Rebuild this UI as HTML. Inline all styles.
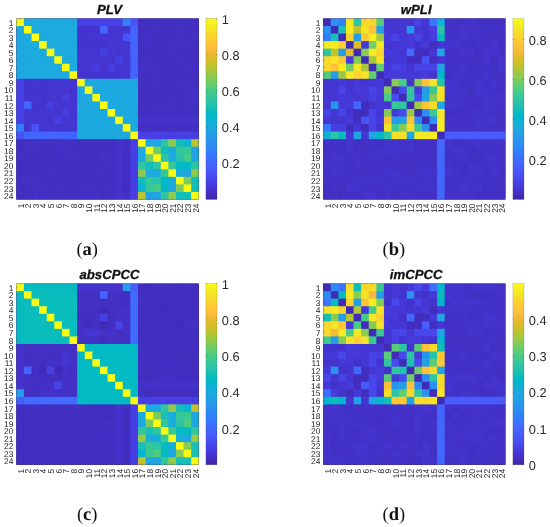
<!DOCTYPE html>
<html><head><meta charset="utf-8"><title>Connectivity matrices</title>
<style>
html,body{margin:0;padding:0;background:#fff}
svg{display:block;text-rendering:geometricPrecision}
.t{font-family:"Liberation Sans",Arial,sans-serif;font-weight:bold;font-style:italic;font-size:13.2px;fill:#111;stroke:#111;stroke-width:0.3px;text-anchor:middle}
.a{font-family:"Liberation Sans",Arial,sans-serif;font-size:8.4px;fill:#222}
.c{font-family:"Liberation Sans",Arial,sans-serif;font-size:12.8px;fill:#2a2a2a}
.cap{font-family:"Liberation Serif","DejaVu Serif",serif;font-size:18.5px;fill:#111;text-anchor:middle}
</style></head><body>
<svg width="550" height="527" viewBox="0 0 550 527">
<rect width="550" height="527" fill="#fff"/>
<defs><linearGradient id="pg" x1="0" y1="1" x2="0" y2="0"><stop offset="0.0000" stop-color="#3e26a8"/><stop offset="0.0156" stop-color="#402ab4"/><stop offset="0.0312" stop-color="#422ebf"/><stop offset="0.0469" stop-color="#4332ca"/><stop offset="0.0625" stop-color="#4536d5"/><stop offset="0.0781" stop-color="#463bdd"/><stop offset="0.0938" stop-color="#4741e5"/><stop offset="0.1094" stop-color="#4746ea"/><stop offset="0.1250" stop-color="#484cef"/><stop offset="0.1406" stop-color="#4852f4"/><stop offset="0.1562" stop-color="#4757f7"/><stop offset="0.1719" stop-color="#475dfa"/><stop offset="0.1875" stop-color="#4562fc"/><stop offset="0.2031" stop-color="#4368fe"/><stop offset="0.2188" stop-color="#3f6efe"/><stop offset="0.2344" stop-color="#3a74fe"/><stop offset="0.2500" stop-color="#347afd"/><stop offset="0.2656" stop-color="#3080fa"/><stop offset="0.2812" stop-color="#2e85f8"/><stop offset="0.2969" stop-color="#2d8bf4"/><stop offset="0.3125" stop-color="#2c90f0"/><stop offset="0.3281" stop-color="#2895ec"/><stop offset="0.3438" stop-color="#269ae9"/><stop offset="0.3594" stop-color="#249ee6"/><stop offset="0.3750" stop-color="#21a3e3"/><stop offset="0.3906" stop-color="#1ea7e1"/><stop offset="0.4062" stop-color="#1aacdd"/><stop offset="0.4219" stop-color="#14b0d8"/><stop offset="0.4375" stop-color="#0cb3d3"/><stop offset="0.4531" stop-color="#04b6cd"/><stop offset="0.4688" stop-color="#01b9c6"/><stop offset="0.4844" stop-color="#07bcc0"/><stop offset="0.5000" stop-color="#12beb9"/><stop offset="0.5156" stop-color="#1ec0b2"/><stop offset="0.5312" stop-color="#28c2ab"/><stop offset="0.5469" stop-color="#2ec5a4"/><stop offset="0.5625" stop-color="#34c79c"/><stop offset="0.5781" stop-color="#3ac993"/><stop offset="0.5938" stop-color="#44ca8a"/><stop offset="0.6094" stop-color="#4fcc80"/><stop offset="0.6250" stop-color="#5ccc76"/><stop offset="0.6406" stop-color="#69cd6b"/><stop offset="0.6562" stop-color="#77cc60"/><stop offset="0.6719" stop-color="#85cb55"/><stop offset="0.6875" stop-color="#94ca4a"/><stop offset="0.7031" stop-color="#a2c840"/><stop offset="0.7188" stop-color="#afc637"/><stop offset="0.7344" stop-color="#bcc42f"/><stop offset="0.7500" stop-color="#c8c129"/><stop offset="0.7656" stop-color="#d4bf28"/><stop offset="0.7812" stop-color="#debc2a"/><stop offset="0.7969" stop-color="#e8bb2f"/><stop offset="0.8125" stop-color="#f1ba37"/><stop offset="0.8281" stop-color="#f9bb3d"/><stop offset="0.8438" stop-color="#febe3c"/><stop offset="0.8594" stop-color="#fec437"/><stop offset="0.8750" stop-color="#feca33"/><stop offset="0.8906" stop-color="#fcd030"/><stop offset="0.9062" stop-color="#f9d62d"/><stop offset="0.9219" stop-color="#f7dd2a"/><stop offset="0.9375" stop-color="#f5e327"/><stop offset="0.9531" stop-color="#f5e924"/><stop offset="0.9688" stop-color="#f6ef20"/><stop offset="0.9844" stop-color="#f7f51b"/><stop offset="1.0000" stop-color="#f9fb15"/></linearGradient></defs>
<g>
<rect x="16.3" y="18.5" width="182.50" height="181.00" fill="#4433cc"/>
<rect x="16.30" y="18.50" width="8.90" height="8.84" fill="#f9fb15"/><rect x="23.90" y="18.50" width="8.90" height="8.84" fill="#1caadf"/><rect x="31.51" y="18.50" width="8.90" height="8.84" fill="#1caadf"/><rect x="39.11" y="18.50" width="8.90" height="8.84" fill="#1caadf"/><rect x="46.72" y="18.50" width="8.90" height="8.84" fill="#1caadf"/><rect x="54.32" y="18.50" width="8.90" height="8.84" fill="#1caadf"/><rect x="61.92" y="18.50" width="8.90" height="8.84" fill="#1caadf"/><rect x="69.53" y="18.50" width="8.90" height="8.84" fill="#1caadf"/><rect x="77.13" y="18.50" width="8.90" height="8.84" fill="#4741e5"/><rect x="84.74" y="18.50" width="8.90" height="8.84" fill="#4741e5"/><rect x="92.34" y="18.50" width="8.90" height="8.84" fill="#4741e5"/><rect x="99.95" y="18.50" width="8.90" height="8.84" fill="#4741e5"/><rect x="107.55" y="18.50" width="8.90" height="8.84" fill="#4741e5"/><rect x="115.15" y="18.50" width="8.90" height="8.84" fill="#4741e5"/><rect x="122.76" y="18.50" width="8.90" height="8.84" fill="#2f81fa"/><rect x="130.36" y="18.50" width="8.90" height="8.84" fill="#4755f6"/><rect x="137.97" y="18.50" width="8.90" height="8.84" fill="#422ec0"/><rect x="145.57" y="18.50" width="8.90" height="8.84" fill="#4230c4"/><rect x="153.18" y="18.50" width="8.90" height="8.84" fill="#4230c3"/><rect x="160.78" y="18.50" width="8.90" height="8.84" fill="#422fc0"/><rect x="168.38" y="18.50" width="8.90" height="8.84" fill="#422fc2"/><rect x="175.99" y="18.50" width="8.90" height="8.84" fill="#4230c3"/><rect x="183.59" y="18.50" width="8.90" height="8.84" fill="#422fc3"/><rect x="191.20" y="18.50" width="7.60" height="8.84" fill="#4230c3"/>
<rect x="16.30" y="26.04" width="8.90" height="8.84" fill="#1caadf"/><rect x="23.90" y="26.04" width="8.90" height="8.84" fill="#f9fb15"/><rect x="31.51" y="26.04" width="8.90" height="8.84" fill="#1caadf"/><rect x="39.11" y="26.04" width="8.90" height="8.84" fill="#1caadf"/><rect x="46.72" y="26.04" width="8.90" height="8.84" fill="#1caadf"/><rect x="54.32" y="26.04" width="8.90" height="8.84" fill="#1caadf"/><rect x="61.92" y="26.04" width="8.90" height="8.84" fill="#1caadf"/><rect x="69.53" y="26.04" width="8.90" height="8.84" fill="#1caadf"/><rect x="77.13" y="26.04" width="8.90" height="8.84" fill="#4434ce"/><rect x="84.74" y="26.04" width="8.90" height="8.84" fill="#4434cf"/><rect x="92.34" y="26.04" width="8.90" height="8.84" fill="#4434cf"/><rect x="99.95" y="26.04" width="8.90" height="8.84" fill="#4367fd"/><rect x="107.55" y="26.04" width="8.90" height="8.84" fill="#4535d2"/><rect x="115.15" y="26.04" width="8.90" height="8.84" fill="#4435d1"/><rect x="122.76" y="26.04" width="8.90" height="8.84" fill="#4435d1"/><rect x="130.36" y="26.04" width="8.90" height="8.84" fill="#4465fd"/><rect x="137.97" y="26.04" width="8.90" height="8.84" fill="#422fc2"/><rect x="145.57" y="26.04" width="8.90" height="8.84" fill="#4330c5"/><rect x="153.18" y="26.04" width="8.90" height="8.84" fill="#4230c4"/><rect x="160.78" y="26.04" width="8.90" height="8.84" fill="#4230c3"/><rect x="168.38" y="26.04" width="8.90" height="8.84" fill="#422fc1"/><rect x="175.99" y="26.04" width="8.90" height="8.84" fill="#4330c5"/><rect x="183.59" y="26.04" width="8.90" height="8.84" fill="#422fc1"/><rect x="191.20" y="26.04" width="7.60" height="8.84" fill="#422fc1"/>
<rect x="16.30" y="33.58" width="8.90" height="8.84" fill="#1caadf"/><rect x="23.90" y="33.58" width="8.90" height="8.84" fill="#1caadf"/><rect x="31.51" y="33.58" width="8.90" height="8.84" fill="#f9fb15"/><rect x="39.11" y="33.58" width="8.90" height="8.84" fill="#1caadf"/><rect x="46.72" y="33.58" width="8.90" height="8.84" fill="#1caadf"/><rect x="54.32" y="33.58" width="8.90" height="8.84" fill="#1caadf"/><rect x="61.92" y="33.58" width="8.90" height="8.84" fill="#1caadf"/><rect x="69.53" y="33.58" width="8.90" height="8.84" fill="#1caadf"/><rect x="77.13" y="33.58" width="8.90" height="8.84" fill="#4435d0"/><rect x="84.74" y="33.58" width="8.90" height="8.84" fill="#4434cf"/><rect x="92.34" y="33.58" width="8.90" height="8.84" fill="#4536d3"/><rect x="99.95" y="33.58" width="8.90" height="8.84" fill="#4434ce"/><rect x="107.55" y="33.58" width="8.90" height="8.84" fill="#4435d2"/><rect x="115.15" y="33.58" width="8.90" height="8.84" fill="#4536d2"/><rect x="122.76" y="33.58" width="8.90" height="8.84" fill="#4755f6"/><rect x="130.36" y="33.58" width="8.90" height="8.84" fill="#4465fd"/><rect x="137.97" y="33.58" width="8.90" height="8.84" fill="#4230c4"/><rect x="145.57" y="33.58" width="8.90" height="8.84" fill="#4230c4"/><rect x="153.18" y="33.58" width="8.90" height="8.84" fill="#422fc0"/><rect x="160.78" y="33.58" width="8.90" height="8.84" fill="#422fc1"/><rect x="168.38" y="33.58" width="8.90" height="8.84" fill="#4230c4"/><rect x="175.99" y="33.58" width="8.90" height="8.84" fill="#4230c3"/><rect x="183.59" y="33.58" width="8.90" height="8.84" fill="#4230c3"/><rect x="191.20" y="33.58" width="7.60" height="8.84" fill="#4330c5"/>
<rect x="16.30" y="41.12" width="8.90" height="8.84" fill="#1caadf"/><rect x="23.90" y="41.12" width="8.90" height="8.84" fill="#1caadf"/><rect x="31.51" y="41.12" width="8.90" height="8.84" fill="#1caadf"/><rect x="39.11" y="41.12" width="8.90" height="8.84" fill="#f9fb15"/><rect x="46.72" y="41.12" width="8.90" height="8.84" fill="#1caadf"/><rect x="54.32" y="41.12" width="8.90" height="8.84" fill="#1caadf"/><rect x="61.92" y="41.12" width="8.90" height="8.84" fill="#1caadf"/><rect x="69.53" y="41.12" width="8.90" height="8.84" fill="#1caadf"/><rect x="77.13" y="41.12" width="8.90" height="8.84" fill="#4434cf"/><rect x="84.74" y="41.12" width="8.90" height="8.84" fill="#4434cf"/><rect x="92.34" y="41.12" width="8.90" height="8.84" fill="#4434cf"/><rect x="99.95" y="41.12" width="8.90" height="8.84" fill="#4434cf"/><rect x="107.55" y="41.12" width="8.90" height="8.84" fill="#4536d4"/><rect x="115.15" y="41.12" width="8.90" height="8.84" fill="#4536d3"/><rect x="122.76" y="41.12" width="8.90" height="8.84" fill="#4536d4"/><rect x="130.36" y="41.12" width="8.90" height="8.84" fill="#4465fd"/><rect x="137.97" y="41.12" width="8.90" height="8.84" fill="#4230c4"/><rect x="145.57" y="41.12" width="8.90" height="8.84" fill="#4230c4"/><rect x="153.18" y="41.12" width="8.90" height="8.84" fill="#4230c4"/><rect x="160.78" y="41.12" width="8.90" height="8.84" fill="#422fc1"/><rect x="168.38" y="41.12" width="8.90" height="8.84" fill="#4230c3"/><rect x="175.99" y="41.12" width="8.90" height="8.84" fill="#4230c4"/><rect x="183.59" y="41.12" width="8.90" height="8.84" fill="#4330c5"/><rect x="191.20" y="41.12" width="7.60" height="8.84" fill="#422fc2"/>
<rect x="16.30" y="48.67" width="8.90" height="8.84" fill="#1caadf"/><rect x="23.90" y="48.67" width="8.90" height="8.84" fill="#1caadf"/><rect x="31.51" y="48.67" width="8.90" height="8.84" fill="#1caadf"/><rect x="39.11" y="48.67" width="8.90" height="8.84" fill="#1caadf"/><rect x="46.72" y="48.67" width="8.90" height="8.84" fill="#f9fb15"/><rect x="54.32" y="48.67" width="8.90" height="8.84" fill="#1caadf"/><rect x="61.92" y="48.67" width="8.90" height="8.84" fill="#1caadf"/><rect x="69.53" y="48.67" width="8.90" height="8.84" fill="#1caadf"/><rect x="77.13" y="48.67" width="8.90" height="8.84" fill="#4435d0"/><rect x="84.74" y="48.67" width="8.90" height="8.84" fill="#4536d4"/><rect x="92.34" y="48.67" width="8.90" height="8.84" fill="#4435d1"/><rect x="99.95" y="48.67" width="8.90" height="8.84" fill="#463ee1"/><rect x="107.55" y="48.67" width="8.90" height="8.84" fill="#4536d3"/><rect x="115.15" y="48.67" width="8.90" height="8.84" fill="#4434cf"/><rect x="122.76" y="48.67" width="8.90" height="8.84" fill="#4536d3"/><rect x="130.36" y="48.67" width="8.90" height="8.84" fill="#4465fd"/><rect x="137.97" y="48.67" width="8.90" height="8.84" fill="#422fc2"/><rect x="145.57" y="48.67" width="8.90" height="8.84" fill="#422fc0"/><rect x="153.18" y="48.67" width="8.90" height="8.84" fill="#422fc1"/><rect x="160.78" y="48.67" width="8.90" height="8.84" fill="#4230c3"/><rect x="168.38" y="48.67" width="8.90" height="8.84" fill="#4330c5"/><rect x="175.99" y="48.67" width="8.90" height="8.84" fill="#422ebf"/><rect x="183.59" y="48.67" width="8.90" height="8.84" fill="#422fc2"/><rect x="191.20" y="48.67" width="7.60" height="8.84" fill="#422fc0"/>
<rect x="16.30" y="56.21" width="8.90" height="8.84" fill="#1caadf"/><rect x="23.90" y="56.21" width="8.90" height="8.84" fill="#1caadf"/><rect x="31.51" y="56.21" width="8.90" height="8.84" fill="#1caadf"/><rect x="39.11" y="56.21" width="8.90" height="8.84" fill="#1caadf"/><rect x="46.72" y="56.21" width="8.90" height="8.84" fill="#1caadf"/><rect x="54.32" y="56.21" width="8.90" height="8.84" fill="#f9fb15"/><rect x="61.92" y="56.21" width="8.90" height="8.84" fill="#1caadf"/><rect x="69.53" y="56.21" width="8.90" height="8.84" fill="#1caadf"/><rect x="77.13" y="56.21" width="8.90" height="8.84" fill="#4434d0"/><rect x="84.74" y="56.21" width="8.90" height="8.84" fill="#4435d1"/><rect x="92.34" y="56.21" width="8.90" height="8.84" fill="#4536d2"/><rect x="99.95" y="56.21" width="8.90" height="8.84" fill="#4535d2"/><rect x="107.55" y="56.21" width="8.90" height="8.84" fill="#4435d1"/><rect x="115.15" y="56.21" width="8.90" height="8.84" fill="#463ee1"/><rect x="122.76" y="56.21" width="8.90" height="8.84" fill="#4435d0"/><rect x="130.36" y="56.21" width="8.90" height="8.84" fill="#4465fd"/><rect x="137.97" y="56.21" width="8.90" height="8.84" fill="#4230c3"/><rect x="145.57" y="56.21" width="8.90" height="8.84" fill="#4330c5"/><rect x="153.18" y="56.21" width="8.90" height="8.84" fill="#422fc2"/><rect x="160.78" y="56.21" width="8.90" height="8.84" fill="#422fc2"/><rect x="168.38" y="56.21" width="8.90" height="8.84" fill="#4230c3"/><rect x="175.99" y="56.21" width="8.90" height="8.84" fill="#4230c3"/><rect x="183.59" y="56.21" width="8.90" height="8.84" fill="#4230c3"/><rect x="191.20" y="56.21" width="7.60" height="8.84" fill="#422fc0"/>
<rect x="16.30" y="63.75" width="8.90" height="8.84" fill="#1caadf"/><rect x="23.90" y="63.75" width="8.90" height="8.84" fill="#1caadf"/><rect x="31.51" y="63.75" width="8.90" height="8.84" fill="#1caadf"/><rect x="39.11" y="63.75" width="8.90" height="8.84" fill="#1caadf"/><rect x="46.72" y="63.75" width="8.90" height="8.84" fill="#1caadf"/><rect x="54.32" y="63.75" width="8.90" height="8.84" fill="#1caadf"/><rect x="61.92" y="63.75" width="8.90" height="8.84" fill="#f9fb15"/><rect x="69.53" y="63.75" width="8.90" height="8.84" fill="#1caadf"/><rect x="77.13" y="63.75" width="8.90" height="8.84" fill="#4435d1"/><rect x="84.74" y="63.75" width="8.90" height="8.84" fill="#4536d2"/><rect x="92.34" y="63.75" width="8.90" height="8.84" fill="#463cde"/><rect x="99.95" y="63.75" width="8.90" height="8.84" fill="#4435d0"/><rect x="107.55" y="63.75" width="8.90" height="8.84" fill="#463ee1"/><rect x="115.15" y="63.75" width="8.90" height="8.84" fill="#4535d2"/><rect x="122.76" y="63.75" width="8.90" height="8.84" fill="#4435d0"/><rect x="130.36" y="63.75" width="8.90" height="8.84" fill="#4465fd"/><rect x="137.97" y="63.75" width="8.90" height="8.84" fill="#4331c6"/><rect x="145.57" y="63.75" width="8.90" height="8.84" fill="#4330c5"/><rect x="153.18" y="63.75" width="8.90" height="8.84" fill="#4230c3"/><rect x="160.78" y="63.75" width="8.90" height="8.84" fill="#422fc1"/><rect x="168.38" y="63.75" width="8.90" height="8.84" fill="#422fc1"/><rect x="175.99" y="63.75" width="8.90" height="8.84" fill="#422fc2"/><rect x="183.59" y="63.75" width="8.90" height="8.84" fill="#4230c3"/><rect x="191.20" y="63.75" width="7.60" height="8.84" fill="#422fc2"/>
<rect x="16.30" y="71.29" width="8.90" height="8.84" fill="#1caadf"/><rect x="23.90" y="71.29" width="8.90" height="8.84" fill="#1caadf"/><rect x="31.51" y="71.29" width="8.90" height="8.84" fill="#1caadf"/><rect x="39.11" y="71.29" width="8.90" height="8.84" fill="#1caadf"/><rect x="46.72" y="71.29" width="8.90" height="8.84" fill="#1caadf"/><rect x="54.32" y="71.29" width="8.90" height="8.84" fill="#1caadf"/><rect x="61.92" y="71.29" width="8.90" height="8.84" fill="#1caadf"/><rect x="69.53" y="71.29" width="8.90" height="8.84" fill="#f9fb15"/><rect x="77.13" y="71.29" width="8.90" height="8.84" fill="#4434cf"/><rect x="84.74" y="71.29" width="8.90" height="8.84" fill="#4434cf"/><rect x="92.34" y="71.29" width="8.90" height="8.84" fill="#4435d0"/><rect x="99.95" y="71.29" width="8.90" height="8.84" fill="#4535d2"/><rect x="107.55" y="71.29" width="8.90" height="8.84" fill="#4434ce"/><rect x="115.15" y="71.29" width="8.90" height="8.84" fill="#4536d3"/><rect x="122.76" y="71.29" width="8.90" height="8.84" fill="#4536d3"/><rect x="130.36" y="71.29" width="8.90" height="8.84" fill="#4465fd"/><rect x="137.97" y="71.29" width="8.90" height="8.84" fill="#4230c4"/><rect x="145.57" y="71.29" width="8.90" height="8.84" fill="#4230c4"/><rect x="153.18" y="71.29" width="8.90" height="8.84" fill="#422fc3"/><rect x="160.78" y="71.29" width="8.90" height="8.84" fill="#422fc2"/><rect x="168.38" y="71.29" width="8.90" height="8.84" fill="#422fc2"/><rect x="175.99" y="71.29" width="8.90" height="8.84" fill="#422fc2"/><rect x="183.59" y="71.29" width="8.90" height="8.84" fill="#422fc2"/><rect x="191.20" y="71.29" width="7.60" height="8.84" fill="#422fc2"/>
<rect x="16.30" y="78.83" width="8.90" height="8.84" fill="#4741e5"/><rect x="23.90" y="78.83" width="8.90" height="8.84" fill="#4434ce"/><rect x="31.51" y="78.83" width="8.90" height="8.84" fill="#4435d0"/><rect x="39.11" y="78.83" width="8.90" height="8.84" fill="#4434cf"/><rect x="46.72" y="78.83" width="8.90" height="8.84" fill="#4435d0"/><rect x="54.32" y="78.83" width="8.90" height="8.84" fill="#4434d0"/><rect x="61.92" y="78.83" width="8.90" height="8.84" fill="#4435d1"/><rect x="69.53" y="78.83" width="8.90" height="8.84" fill="#4434cf"/><rect x="77.13" y="78.83" width="8.90" height="8.84" fill="#f9fb15"/><rect x="84.74" y="78.83" width="8.90" height="8.84" fill="#1da9e0"/><rect x="92.34" y="78.83" width="8.90" height="8.84" fill="#1da9e0"/><rect x="99.95" y="78.83" width="8.90" height="8.84" fill="#1da9e0"/><rect x="107.55" y="78.83" width="8.90" height="8.84" fill="#1da9e0"/><rect x="115.15" y="78.83" width="8.90" height="8.84" fill="#1da9e0"/><rect x="122.76" y="78.83" width="8.90" height="8.84" fill="#1da9e0"/><rect x="130.36" y="78.83" width="8.90" height="8.84" fill="#1da9e0"/><rect x="137.97" y="78.83" width="8.90" height="8.84" fill="#4230c3"/><rect x="145.57" y="78.83" width="8.90" height="8.84" fill="#422fc1"/><rect x="153.18" y="78.83" width="8.90" height="8.84" fill="#4230c4"/><rect x="160.78" y="78.83" width="8.90" height="8.84" fill="#422fc2"/><rect x="168.38" y="78.83" width="8.90" height="8.84" fill="#422ec0"/><rect x="175.99" y="78.83" width="8.90" height="8.84" fill="#4331c6"/><rect x="183.59" y="78.83" width="8.90" height="8.84" fill="#4230c3"/><rect x="191.20" y="78.83" width="7.60" height="8.84" fill="#422fc1"/>
<rect x="16.30" y="86.38" width="8.90" height="8.84" fill="#4741e5"/><rect x="23.90" y="86.38" width="8.90" height="8.84" fill="#4434cf"/><rect x="31.51" y="86.38" width="8.90" height="8.84" fill="#4434cf"/><rect x="39.11" y="86.38" width="8.90" height="8.84" fill="#4434cf"/><rect x="46.72" y="86.38" width="8.90" height="8.84" fill="#4536d4"/><rect x="54.32" y="86.38" width="8.90" height="8.84" fill="#4435d1"/><rect x="61.92" y="86.38" width="8.90" height="8.84" fill="#4536d2"/><rect x="69.53" y="86.38" width="8.90" height="8.84" fill="#4434cf"/><rect x="77.13" y="86.38" width="8.90" height="8.84" fill="#1da9e0"/><rect x="84.74" y="86.38" width="8.90" height="8.84" fill="#f9fb15"/><rect x="92.34" y="86.38" width="8.90" height="8.84" fill="#1da9e0"/><rect x="99.95" y="86.38" width="8.90" height="8.84" fill="#1da9e0"/><rect x="107.55" y="86.38" width="8.90" height="8.84" fill="#1da9e0"/><rect x="115.15" y="86.38" width="8.90" height="8.84" fill="#1da9e0"/><rect x="122.76" y="86.38" width="8.90" height="8.84" fill="#1da9e0"/><rect x="130.36" y="86.38" width="8.90" height="8.84" fill="#1da9e0"/><rect x="137.97" y="86.38" width="8.90" height="8.84" fill="#422ec0"/><rect x="145.57" y="86.38" width="8.90" height="8.84" fill="#4230c4"/><rect x="153.18" y="86.38" width="8.90" height="8.84" fill="#422fc0"/><rect x="160.78" y="86.38" width="8.90" height="8.84" fill="#422fc0"/><rect x="168.38" y="86.38" width="8.90" height="8.84" fill="#4230c4"/><rect x="175.99" y="86.38" width="8.90" height="8.84" fill="#422fc0"/><rect x="183.59" y="86.38" width="8.90" height="8.84" fill="#4230c3"/><rect x="191.20" y="86.38" width="7.60" height="8.84" fill="#4230c4"/>
<rect x="16.30" y="93.92" width="8.90" height="8.84" fill="#4741e5"/><rect x="23.90" y="93.92" width="8.90" height="8.84" fill="#4434cf"/><rect x="31.51" y="93.92" width="8.90" height="8.84" fill="#4536d3"/><rect x="39.11" y="93.92" width="8.90" height="8.84" fill="#4434cf"/><rect x="46.72" y="93.92" width="8.90" height="8.84" fill="#4435d1"/><rect x="54.32" y="93.92" width="8.90" height="8.84" fill="#4536d2"/><rect x="61.92" y="93.92" width="8.90" height="8.84" fill="#463cde"/><rect x="69.53" y="93.92" width="8.90" height="8.84" fill="#4435d0"/><rect x="77.13" y="93.92" width="8.90" height="8.84" fill="#1da9e0"/><rect x="84.74" y="93.92" width="8.90" height="8.84" fill="#1da9e0"/><rect x="92.34" y="93.92" width="8.90" height="8.84" fill="#f9fb15"/><rect x="99.95" y="93.92" width="8.90" height="8.84" fill="#1da9e0"/><rect x="107.55" y="93.92" width="8.90" height="8.84" fill="#1da9e0"/><rect x="115.15" y="93.92" width="8.90" height="8.84" fill="#1da9e0"/><rect x="122.76" y="93.92" width="8.90" height="8.84" fill="#1da9e0"/><rect x="130.36" y="93.92" width="8.90" height="8.84" fill="#1da9e0"/><rect x="137.97" y="93.92" width="8.90" height="8.84" fill="#422fc1"/><rect x="145.57" y="93.92" width="8.90" height="8.84" fill="#422fc2"/><rect x="153.18" y="93.92" width="8.90" height="8.84" fill="#422fc1"/><rect x="160.78" y="93.92" width="8.90" height="8.84" fill="#4230c4"/><rect x="168.38" y="93.92" width="8.90" height="8.84" fill="#4330c5"/><rect x="175.99" y="93.92" width="8.90" height="8.84" fill="#422fc2"/><rect x="183.59" y="93.92" width="8.90" height="8.84" fill="#4230c4"/><rect x="191.20" y="93.92" width="7.60" height="8.84" fill="#4330c4"/>
<rect x="16.30" y="101.46" width="8.90" height="8.84" fill="#4741e5"/><rect x="23.90" y="101.46" width="8.90" height="8.84" fill="#4367fd"/><rect x="31.51" y="101.46" width="8.90" height="8.84" fill="#4434ce"/><rect x="39.11" y="101.46" width="8.90" height="8.84" fill="#4434cf"/><rect x="46.72" y="101.46" width="8.90" height="8.84" fill="#463ee1"/><rect x="54.32" y="101.46" width="8.90" height="8.84" fill="#4535d2"/><rect x="61.92" y="101.46" width="8.90" height="8.84" fill="#4435d0"/><rect x="69.53" y="101.46" width="8.90" height="8.84" fill="#4535d2"/><rect x="77.13" y="101.46" width="8.90" height="8.84" fill="#1da9e0"/><rect x="84.74" y="101.46" width="8.90" height="8.84" fill="#1da9e0"/><rect x="92.34" y="101.46" width="8.90" height="8.84" fill="#1da9e0"/><rect x="99.95" y="101.46" width="8.90" height="8.84" fill="#f9fb15"/><rect x="107.55" y="101.46" width="8.90" height="8.84" fill="#1da9e0"/><rect x="115.15" y="101.46" width="8.90" height="8.84" fill="#1da9e0"/><rect x="122.76" y="101.46" width="8.90" height="8.84" fill="#1da9e0"/><rect x="130.36" y="101.46" width="8.90" height="8.84" fill="#1da9e0"/><rect x="137.97" y="101.46" width="8.90" height="8.84" fill="#422fc2"/><rect x="145.57" y="101.46" width="8.90" height="8.84" fill="#4230c3"/><rect x="153.18" y="101.46" width="8.90" height="8.84" fill="#4330c5"/><rect x="160.78" y="101.46" width="8.90" height="8.84" fill="#4330c5"/><rect x="168.38" y="101.46" width="8.90" height="8.84" fill="#4331c6"/><rect x="175.99" y="101.46" width="8.90" height="8.84" fill="#422fc2"/><rect x="183.59" y="101.46" width="8.90" height="8.84" fill="#4331c6"/><rect x="191.20" y="101.46" width="7.60" height="8.84" fill="#422fc2"/>
<rect x="16.30" y="109.00" width="8.90" height="8.84" fill="#4741e5"/><rect x="23.90" y="109.00" width="8.90" height="8.84" fill="#4535d2"/><rect x="31.51" y="109.00" width="8.90" height="8.84" fill="#4435d2"/><rect x="39.11" y="109.00" width="8.90" height="8.84" fill="#4536d4"/><rect x="46.72" y="109.00" width="8.90" height="8.84" fill="#4536d3"/><rect x="54.32" y="109.00" width="8.90" height="8.84" fill="#4435d1"/><rect x="61.92" y="109.00" width="8.90" height="8.84" fill="#463ee1"/><rect x="69.53" y="109.00" width="8.90" height="8.84" fill="#4434ce"/><rect x="77.13" y="109.00" width="8.90" height="8.84" fill="#1da9e0"/><rect x="84.74" y="109.00" width="8.90" height="8.84" fill="#1da9e0"/><rect x="92.34" y="109.00" width="8.90" height="8.84" fill="#1da9e0"/><rect x="99.95" y="109.00" width="8.90" height="8.84" fill="#1da9e0"/><rect x="107.55" y="109.00" width="8.90" height="8.84" fill="#f9fb15"/><rect x="115.15" y="109.00" width="8.90" height="8.84" fill="#1da9e0"/><rect x="122.76" y="109.00" width="8.90" height="8.84" fill="#1da9e0"/><rect x="130.36" y="109.00" width="8.90" height="8.84" fill="#1da9e0"/><rect x="137.97" y="109.00" width="8.90" height="8.84" fill="#422fc2"/><rect x="145.57" y="109.00" width="8.90" height="8.84" fill="#422fc1"/><rect x="153.18" y="109.00" width="8.90" height="8.84" fill="#4330c4"/><rect x="160.78" y="109.00" width="8.90" height="8.84" fill="#4230c4"/><rect x="168.38" y="109.00" width="8.90" height="8.84" fill="#422fc2"/><rect x="175.99" y="109.00" width="8.90" height="8.84" fill="#422fc1"/><rect x="183.59" y="109.00" width="8.90" height="8.84" fill="#4330c4"/><rect x="191.20" y="109.00" width="7.60" height="8.84" fill="#422fc1"/>
<rect x="16.30" y="116.54" width="8.90" height="8.84" fill="#4741e5"/><rect x="23.90" y="116.54" width="8.90" height="8.84" fill="#4435d1"/><rect x="31.51" y="116.54" width="8.90" height="8.84" fill="#4536d2"/><rect x="39.11" y="116.54" width="8.90" height="8.84" fill="#4536d3"/><rect x="46.72" y="116.54" width="8.90" height="8.84" fill="#4434cf"/><rect x="54.32" y="116.54" width="8.90" height="8.84" fill="#463ee1"/><rect x="61.92" y="116.54" width="8.90" height="8.84" fill="#4535d2"/><rect x="69.53" y="116.54" width="8.90" height="8.84" fill="#4536d3"/><rect x="77.13" y="116.54" width="8.90" height="8.84" fill="#1da9e0"/><rect x="84.74" y="116.54" width="8.90" height="8.84" fill="#1da9e0"/><rect x="92.34" y="116.54" width="8.90" height="8.84" fill="#1da9e0"/><rect x="99.95" y="116.54" width="8.90" height="8.84" fill="#1da9e0"/><rect x="107.55" y="116.54" width="8.90" height="8.84" fill="#1da9e0"/><rect x="115.15" y="116.54" width="8.90" height="8.84" fill="#f9fb15"/><rect x="122.76" y="116.54" width="8.90" height="8.84" fill="#1da9e0"/><rect x="130.36" y="116.54" width="8.90" height="8.84" fill="#1da9e0"/><rect x="137.97" y="116.54" width="8.90" height="8.84" fill="#4433cb"/><rect x="145.57" y="116.54" width="8.90" height="8.84" fill="#4433cb"/><rect x="153.18" y="116.54" width="8.90" height="8.84" fill="#4433cb"/><rect x="160.78" y="116.54" width="8.90" height="8.84" fill="#4433cb"/><rect x="168.38" y="116.54" width="8.90" height="8.84" fill="#4433cb"/><rect x="175.99" y="116.54" width="8.90" height="8.84" fill="#4433cb"/><rect x="183.59" y="116.54" width="8.90" height="8.84" fill="#4433cb"/><rect x="191.20" y="116.54" width="7.60" height="8.84" fill="#4433cb"/>
<rect x="16.30" y="124.08" width="8.90" height="8.84" fill="#2f81fa"/><rect x="23.90" y="124.08" width="8.90" height="8.84" fill="#4435d1"/><rect x="31.51" y="124.08" width="8.90" height="8.84" fill="#4755f6"/><rect x="39.11" y="124.08" width="8.90" height="8.84" fill="#4536d4"/><rect x="46.72" y="124.08" width="8.90" height="8.84" fill="#4536d3"/><rect x="54.32" y="124.08" width="8.90" height="8.84" fill="#4435d0"/><rect x="61.92" y="124.08" width="8.90" height="8.84" fill="#4435d0"/><rect x="69.53" y="124.08" width="8.90" height="8.84" fill="#4536d3"/><rect x="77.13" y="124.08" width="8.90" height="8.84" fill="#1da9e0"/><rect x="84.74" y="124.08" width="8.90" height="8.84" fill="#1da9e0"/><rect x="92.34" y="124.08" width="8.90" height="8.84" fill="#1da9e0"/><rect x="99.95" y="124.08" width="8.90" height="8.84" fill="#1da9e0"/><rect x="107.55" y="124.08" width="8.90" height="8.84" fill="#1da9e0"/><rect x="115.15" y="124.08" width="8.90" height="8.84" fill="#1da9e0"/><rect x="122.76" y="124.08" width="8.90" height="8.84" fill="#f9fb15"/><rect x="130.36" y="124.08" width="8.90" height="8.84" fill="#1da9e0"/><rect x="137.97" y="124.08" width="8.90" height="8.84" fill="#422fc0"/><rect x="145.57" y="124.08" width="8.90" height="8.84" fill="#4331c5"/><rect x="153.18" y="124.08" width="8.90" height="8.84" fill="#422fc1"/><rect x="160.78" y="124.08" width="8.90" height="8.84" fill="#422fc2"/><rect x="168.38" y="124.08" width="8.90" height="8.84" fill="#4230c4"/><rect x="175.99" y="124.08" width="8.90" height="8.84" fill="#422ebf"/><rect x="183.59" y="124.08" width="8.90" height="8.84" fill="#422fc2"/><rect x="191.20" y="124.08" width="7.60" height="8.84" fill="#4330c5"/>
<rect x="16.30" y="131.62" width="8.90" height="8.84" fill="#4755f6"/><rect x="23.90" y="131.62" width="8.90" height="8.84" fill="#4465fd"/><rect x="31.51" y="131.62" width="8.90" height="8.84" fill="#4465fd"/><rect x="39.11" y="131.62" width="8.90" height="8.84" fill="#4465fd"/><rect x="46.72" y="131.62" width="8.90" height="8.84" fill="#4465fd"/><rect x="54.32" y="131.62" width="8.90" height="8.84" fill="#4465fd"/><rect x="61.92" y="131.62" width="8.90" height="8.84" fill="#4465fd"/><rect x="69.53" y="131.62" width="8.90" height="8.84" fill="#4465fd"/><rect x="77.13" y="131.62" width="8.90" height="8.84" fill="#1da9e0"/><rect x="84.74" y="131.62" width="8.90" height="8.84" fill="#1da9e0"/><rect x="92.34" y="131.62" width="8.90" height="8.84" fill="#1da9e0"/><rect x="99.95" y="131.62" width="8.90" height="8.84" fill="#1da9e0"/><rect x="107.55" y="131.62" width="8.90" height="8.84" fill="#1da9e0"/><rect x="115.15" y="131.62" width="8.90" height="8.84" fill="#1da9e0"/><rect x="122.76" y="131.62" width="8.90" height="8.84" fill="#1da9e0"/><rect x="130.36" y="131.62" width="8.90" height="8.84" fill="#f9fb15"/><rect x="137.97" y="131.62" width="8.90" height="8.84" fill="#473fe3"/><rect x="145.57" y="131.62" width="8.90" height="8.84" fill="#473fe3"/><rect x="153.18" y="131.62" width="8.90" height="8.84" fill="#473fe3"/><rect x="160.78" y="131.62" width="8.90" height="8.84" fill="#473fe3"/><rect x="168.38" y="131.62" width="8.90" height="8.84" fill="#473fe3"/><rect x="175.99" y="131.62" width="8.90" height="8.84" fill="#473fe3"/><rect x="183.59" y="131.62" width="8.90" height="8.84" fill="#473fe3"/><rect x="191.20" y="131.62" width="7.60" height="8.84" fill="#473fe3"/>
<rect x="16.30" y="139.17" width="8.90" height="8.84" fill="#422ec0"/><rect x="23.90" y="139.17" width="8.90" height="8.84" fill="#422fc2"/><rect x="31.51" y="139.17" width="8.90" height="8.84" fill="#4230c4"/><rect x="39.11" y="139.17" width="8.90" height="8.84" fill="#4230c4"/><rect x="46.72" y="139.17" width="8.90" height="8.84" fill="#422fc2"/><rect x="54.32" y="139.17" width="8.90" height="8.84" fill="#4230c3"/><rect x="61.92" y="139.17" width="8.90" height="8.84" fill="#4331c6"/><rect x="69.53" y="139.17" width="8.90" height="8.84" fill="#4230c4"/><rect x="77.13" y="139.17" width="8.90" height="8.84" fill="#4230c3"/><rect x="84.74" y="139.17" width="8.90" height="8.84" fill="#422ec0"/><rect x="92.34" y="139.17" width="8.90" height="8.84" fill="#422fc1"/><rect x="99.95" y="139.17" width="8.90" height="8.84" fill="#422fc2"/><rect x="107.55" y="139.17" width="8.90" height="8.84" fill="#422fc2"/><rect x="115.15" y="139.17" width="8.90" height="8.84" fill="#4433cb"/><rect x="122.76" y="139.17" width="8.90" height="8.84" fill="#422fc0"/><rect x="130.36" y="139.17" width="8.90" height="8.84" fill="#473fe3"/><rect x="137.97" y="139.17" width="8.90" height="8.84" fill="#f9fb15"/><rect x="145.57" y="139.17" width="8.90" height="8.84" fill="#1ea7e1"/><rect x="153.18" y="139.17" width="8.90" height="8.84" fill="#1ea7e1"/><rect x="160.78" y="139.17" width="8.90" height="8.84" fill="#2fc5a2"/><rect x="168.38" y="139.17" width="8.90" height="8.84" fill="#8dcb4f"/><rect x="175.99" y="139.17" width="8.90" height="8.84" fill="#12beb9"/><rect x="183.59" y="139.17" width="8.90" height="8.84" fill="#0ab4d2"/><rect x="191.20" y="139.17" width="7.60" height="8.84" fill="#b9c431"/>
<rect x="16.30" y="146.71" width="8.90" height="8.84" fill="#4230c4"/><rect x="23.90" y="146.71" width="8.90" height="8.84" fill="#4330c5"/><rect x="31.51" y="146.71" width="8.90" height="8.84" fill="#4230c4"/><rect x="39.11" y="146.71" width="8.90" height="8.84" fill="#4230c4"/><rect x="46.72" y="146.71" width="8.90" height="8.84" fill="#422fc0"/><rect x="54.32" y="146.71" width="8.90" height="8.84" fill="#4330c5"/><rect x="61.92" y="146.71" width="8.90" height="8.84" fill="#4330c5"/><rect x="69.53" y="146.71" width="8.90" height="8.84" fill="#4230c4"/><rect x="77.13" y="146.71" width="8.90" height="8.84" fill="#422fc1"/><rect x="84.74" y="146.71" width="8.90" height="8.84" fill="#4230c4"/><rect x="92.34" y="146.71" width="8.90" height="8.84" fill="#422fc2"/><rect x="99.95" y="146.71" width="8.90" height="8.84" fill="#4230c3"/><rect x="107.55" y="146.71" width="8.90" height="8.84" fill="#422fc1"/><rect x="115.15" y="146.71" width="8.90" height="8.84" fill="#4433cb"/><rect x="122.76" y="146.71" width="8.90" height="8.84" fill="#4331c5"/><rect x="130.36" y="146.71" width="8.90" height="8.84" fill="#473fe3"/><rect x="137.97" y="146.71" width="8.90" height="8.84" fill="#1ea7e1"/><rect x="145.57" y="146.71" width="8.90" height="8.84" fill="#f9fb15"/><rect x="153.18" y="146.71" width="8.90" height="8.84" fill="#71cd64"/><rect x="160.78" y="146.71" width="8.90" height="8.84" fill="#12beb9"/><rect x="168.38" y="146.71" width="8.90" height="8.84" fill="#1caadf"/><rect x="175.99" y="146.71" width="8.90" height="8.84" fill="#33c69d"/><rect x="183.59" y="146.71" width="8.90" height="8.84" fill="#37c898"/><rect x="191.20" y="146.71" width="7.60" height="8.84" fill="#20a4e3"/>
<rect x="16.30" y="154.25" width="8.90" height="8.84" fill="#4230c3"/><rect x="23.90" y="154.25" width="8.90" height="8.84" fill="#4230c4"/><rect x="31.51" y="154.25" width="8.90" height="8.84" fill="#422fc0"/><rect x="39.11" y="154.25" width="8.90" height="8.84" fill="#4230c4"/><rect x="46.72" y="154.25" width="8.90" height="8.84" fill="#422fc1"/><rect x="54.32" y="154.25" width="8.90" height="8.84" fill="#422fc2"/><rect x="61.92" y="154.25" width="8.90" height="8.84" fill="#4230c3"/><rect x="69.53" y="154.25" width="8.90" height="8.84" fill="#422fc3"/><rect x="77.13" y="154.25" width="8.90" height="8.84" fill="#4230c4"/><rect x="84.74" y="154.25" width="8.90" height="8.84" fill="#422fc0"/><rect x="92.34" y="154.25" width="8.90" height="8.84" fill="#422fc1"/><rect x="99.95" y="154.25" width="8.90" height="8.84" fill="#4330c5"/><rect x="107.55" y="154.25" width="8.90" height="8.84" fill="#4330c4"/><rect x="115.15" y="154.25" width="8.90" height="8.84" fill="#4433cb"/><rect x="122.76" y="154.25" width="8.90" height="8.84" fill="#422fc1"/><rect x="130.36" y="154.25" width="8.90" height="8.84" fill="#473fe3"/><rect x="137.97" y="154.25" width="8.90" height="8.84" fill="#1ea7e1"/><rect x="145.57" y="154.25" width="8.90" height="8.84" fill="#71cd64"/><rect x="153.18" y="154.25" width="8.90" height="8.84" fill="#f9fb15"/><rect x="160.78" y="154.25" width="8.90" height="8.84" fill="#2fc5a2"/><rect x="168.38" y="154.25" width="8.90" height="8.84" fill="#1caadf"/><rect x="175.99" y="154.25" width="8.90" height="8.84" fill="#27c2ac"/><rect x="183.59" y="154.25" width="8.90" height="8.84" fill="#48cb86"/><rect x="191.20" y="154.25" width="7.60" height="8.84" fill="#20a4e3"/>
<rect x="16.30" y="161.79" width="8.90" height="8.84" fill="#422fc0"/><rect x="23.90" y="161.79" width="8.90" height="8.84" fill="#4230c3"/><rect x="31.51" y="161.79" width="8.90" height="8.84" fill="#422fc1"/><rect x="39.11" y="161.79" width="8.90" height="8.84" fill="#422fc1"/><rect x="46.72" y="161.79" width="8.90" height="8.84" fill="#4230c3"/><rect x="54.32" y="161.79" width="8.90" height="8.84" fill="#422fc2"/><rect x="61.92" y="161.79" width="8.90" height="8.84" fill="#422fc1"/><rect x="69.53" y="161.79" width="8.90" height="8.84" fill="#422fc2"/><rect x="77.13" y="161.79" width="8.90" height="8.84" fill="#422fc2"/><rect x="84.74" y="161.79" width="8.90" height="8.84" fill="#422fc0"/><rect x="92.34" y="161.79" width="8.90" height="8.84" fill="#4230c4"/><rect x="99.95" y="161.79" width="8.90" height="8.84" fill="#4330c5"/><rect x="107.55" y="161.79" width="8.90" height="8.84" fill="#4230c4"/><rect x="115.15" y="161.79" width="8.90" height="8.84" fill="#4433cb"/><rect x="122.76" y="161.79" width="8.90" height="8.84" fill="#422fc2"/><rect x="130.36" y="161.79" width="8.90" height="8.84" fill="#473fe3"/><rect x="137.97" y="161.79" width="8.90" height="8.84" fill="#2fc5a2"/><rect x="145.57" y="161.79" width="8.90" height="8.84" fill="#12beb9"/><rect x="153.18" y="161.79" width="8.90" height="8.84" fill="#2fc5a2"/><rect x="160.78" y="161.79" width="8.90" height="8.84" fill="#f9fb15"/><rect x="168.38" y="161.79" width="8.90" height="8.84" fill="#37c898"/><rect x="175.99" y="161.79" width="8.90" height="8.84" fill="#01b9c6"/><rect x="183.59" y="161.79" width="8.90" height="8.84" fill="#01b9c6"/><rect x="191.20" y="161.79" width="7.60" height="8.84" fill="#2fc5a2"/>
<rect x="16.30" y="169.33" width="8.90" height="8.84" fill="#422fc2"/><rect x="23.90" y="169.33" width="8.90" height="8.84" fill="#422fc1"/><rect x="31.51" y="169.33" width="8.90" height="8.84" fill="#4230c4"/><rect x="39.11" y="169.33" width="8.90" height="8.84" fill="#4230c3"/><rect x="46.72" y="169.33" width="8.90" height="8.84" fill="#4330c5"/><rect x="54.32" y="169.33" width="8.90" height="8.84" fill="#4230c3"/><rect x="61.92" y="169.33" width="8.90" height="8.84" fill="#422fc1"/><rect x="69.53" y="169.33" width="8.90" height="8.84" fill="#422fc2"/><rect x="77.13" y="169.33" width="8.90" height="8.84" fill="#422ec0"/><rect x="84.74" y="169.33" width="8.90" height="8.84" fill="#4230c4"/><rect x="92.34" y="169.33" width="8.90" height="8.84" fill="#4330c5"/><rect x="99.95" y="169.33" width="8.90" height="8.84" fill="#4331c6"/><rect x="107.55" y="169.33" width="8.90" height="8.84" fill="#422fc2"/><rect x="115.15" y="169.33" width="8.90" height="8.84" fill="#4433cb"/><rect x="122.76" y="169.33" width="8.90" height="8.84" fill="#4230c4"/><rect x="130.36" y="169.33" width="8.90" height="8.84" fill="#473fe3"/><rect x="137.97" y="169.33" width="8.90" height="8.84" fill="#8dcb4f"/><rect x="145.57" y="169.33" width="8.90" height="8.84" fill="#1caadf"/><rect x="153.18" y="169.33" width="8.90" height="8.84" fill="#1caadf"/><rect x="160.78" y="169.33" width="8.90" height="8.84" fill="#37c898"/><rect x="168.38" y="169.33" width="8.90" height="8.84" fill="#f9fb15"/><rect x="175.99" y="169.33" width="8.90" height="8.84" fill="#19addc"/><rect x="183.59" y="169.33" width="8.90" height="8.84" fill="#20a4e3"/><rect x="191.20" y="169.33" width="7.60" height="8.84" fill="#8dcb4f"/>
<rect x="16.30" y="176.88" width="8.90" height="8.84" fill="#4230c3"/><rect x="23.90" y="176.88" width="8.90" height="8.84" fill="#4330c5"/><rect x="31.51" y="176.88" width="8.90" height="8.84" fill="#4230c3"/><rect x="39.11" y="176.88" width="8.90" height="8.84" fill="#4230c4"/><rect x="46.72" y="176.88" width="8.90" height="8.84" fill="#422ebf"/><rect x="54.32" y="176.88" width="8.90" height="8.84" fill="#4230c3"/><rect x="61.92" y="176.88" width="8.90" height="8.84" fill="#422fc2"/><rect x="69.53" y="176.88" width="8.90" height="8.84" fill="#422fc2"/><rect x="77.13" y="176.88" width="8.90" height="8.84" fill="#4331c6"/><rect x="84.74" y="176.88" width="8.90" height="8.84" fill="#422fc0"/><rect x="92.34" y="176.88" width="8.90" height="8.84" fill="#422fc2"/><rect x="99.95" y="176.88" width="8.90" height="8.84" fill="#422fc2"/><rect x="107.55" y="176.88" width="8.90" height="8.84" fill="#422fc1"/><rect x="115.15" y="176.88" width="8.90" height="8.84" fill="#4433cb"/><rect x="122.76" y="176.88" width="8.90" height="8.84" fill="#422ebf"/><rect x="130.36" y="176.88" width="8.90" height="8.84" fill="#473fe3"/><rect x="137.97" y="176.88" width="8.90" height="8.84" fill="#12beb9"/><rect x="145.57" y="176.88" width="8.90" height="8.84" fill="#33c69d"/><rect x="153.18" y="176.88" width="8.90" height="8.84" fill="#27c2ac"/><rect x="160.78" y="176.88" width="8.90" height="8.84" fill="#01b9c6"/><rect x="168.38" y="176.88" width="8.90" height="8.84" fill="#19addc"/><rect x="175.99" y="176.88" width="8.90" height="8.84" fill="#f9fb15"/><rect x="183.59" y="176.88" width="8.90" height="8.84" fill="#7acc5d"/><rect x="191.20" y="176.88" width="7.60" height="8.84" fill="#12beb9"/>
<rect x="16.30" y="184.42" width="8.90" height="8.84" fill="#422fc3"/><rect x="23.90" y="184.42" width="8.90" height="8.84" fill="#422fc1"/><rect x="31.51" y="184.42" width="8.90" height="8.84" fill="#4230c3"/><rect x="39.11" y="184.42" width="8.90" height="8.84" fill="#4330c5"/><rect x="46.72" y="184.42" width="8.90" height="8.84" fill="#422fc2"/><rect x="54.32" y="184.42" width="8.90" height="8.84" fill="#4230c3"/><rect x="61.92" y="184.42" width="8.90" height="8.84" fill="#4230c3"/><rect x="69.53" y="184.42" width="8.90" height="8.84" fill="#422fc2"/><rect x="77.13" y="184.42" width="8.90" height="8.84" fill="#4230c3"/><rect x="84.74" y="184.42" width="8.90" height="8.84" fill="#4230c3"/><rect x="92.34" y="184.42" width="8.90" height="8.84" fill="#4230c4"/><rect x="99.95" y="184.42" width="8.90" height="8.84" fill="#4331c6"/><rect x="107.55" y="184.42" width="8.90" height="8.84" fill="#4330c4"/><rect x="115.15" y="184.42" width="8.90" height="8.84" fill="#4433cb"/><rect x="122.76" y="184.42" width="8.90" height="8.84" fill="#422fc2"/><rect x="130.36" y="184.42" width="8.90" height="8.84" fill="#473fe3"/><rect x="137.97" y="184.42" width="8.90" height="8.84" fill="#0ab4d2"/><rect x="145.57" y="184.42" width="8.90" height="8.84" fill="#37c898"/><rect x="153.18" y="184.42" width="8.90" height="8.84" fill="#48cb86"/><rect x="160.78" y="184.42" width="8.90" height="8.84" fill="#01b9c6"/><rect x="168.38" y="184.42" width="8.90" height="8.84" fill="#20a4e3"/><rect x="175.99" y="184.42" width="8.90" height="8.84" fill="#7acc5d"/><rect x="183.59" y="184.42" width="8.90" height="8.84" fill="#f9fb15"/><rect x="191.20" y="184.42" width="7.60" height="8.84" fill="#12beb9"/>
<rect x="16.30" y="191.96" width="8.90" height="7.54" fill="#4230c3"/><rect x="23.90" y="191.96" width="8.90" height="7.54" fill="#422fc1"/><rect x="31.51" y="191.96" width="8.90" height="7.54" fill="#4330c5"/><rect x="39.11" y="191.96" width="8.90" height="7.54" fill="#422fc2"/><rect x="46.72" y="191.96" width="8.90" height="7.54" fill="#422fc0"/><rect x="54.32" y="191.96" width="8.90" height="7.54" fill="#422fc0"/><rect x="61.92" y="191.96" width="8.90" height="7.54" fill="#422fc2"/><rect x="69.53" y="191.96" width="8.90" height="7.54" fill="#422fc2"/><rect x="77.13" y="191.96" width="8.90" height="7.54" fill="#422fc1"/><rect x="84.74" y="191.96" width="8.90" height="7.54" fill="#4230c4"/><rect x="92.34" y="191.96" width="8.90" height="7.54" fill="#4330c4"/><rect x="99.95" y="191.96" width="8.90" height="7.54" fill="#422fc2"/><rect x="107.55" y="191.96" width="8.90" height="7.54" fill="#422fc1"/><rect x="115.15" y="191.96" width="8.90" height="7.54" fill="#4433cb"/><rect x="122.76" y="191.96" width="8.90" height="7.54" fill="#4330c5"/><rect x="130.36" y="191.96" width="8.90" height="7.54" fill="#473fe3"/><rect x="137.97" y="191.96" width="8.90" height="7.54" fill="#b9c431"/><rect x="145.57" y="191.96" width="8.90" height="7.54" fill="#20a4e3"/><rect x="153.18" y="191.96" width="8.90" height="7.54" fill="#20a4e3"/><rect x="160.78" y="191.96" width="8.90" height="7.54" fill="#2fc5a2"/><rect x="168.38" y="191.96" width="8.90" height="7.54" fill="#8dcb4f"/><rect x="175.99" y="191.96" width="8.90" height="7.54" fill="#12beb9"/><rect x="183.59" y="191.96" width="8.90" height="7.54" fill="#12beb9"/><rect x="191.20" y="191.96" width="7.60" height="7.54" fill="#f9fb15"/>
<rect x="16.3" y="18.5" width="182.50" height="181.00" fill="none" stroke="#262626" stroke-opacity="0.35" stroke-width="0.5"/>
<path d="M20.10 199.50v-1.8M20.10 18.50v1.8M16.30 22.27h1.8M198.80 22.27h-1.8M27.71 199.50v-1.8M27.71 18.50v1.8M16.30 29.81h1.8M198.80 29.81h-1.8M35.31 199.50v-1.8M35.31 18.50v1.8M16.30 37.35h1.8M198.80 37.35h-1.8M42.91 199.50v-1.8M42.91 18.50v1.8M16.30 44.90h1.8M198.80 44.90h-1.8M50.52 199.50v-1.8M50.52 18.50v1.8M16.30 52.44h1.8M198.80 52.44h-1.8M58.12 199.50v-1.8M58.12 18.50v1.8M16.30 59.98h1.8M198.80 59.98h-1.8M65.73 199.50v-1.8M65.73 18.50v1.8M16.30 67.52h1.8M198.80 67.52h-1.8M73.33 199.50v-1.8M73.33 18.50v1.8M16.30 75.06h1.8M198.80 75.06h-1.8M80.94 199.50v-1.8M80.94 18.50v1.8M16.30 82.60h1.8M198.80 82.60h-1.8M88.54 199.50v-1.8M88.54 18.50v1.8M16.30 90.15h1.8M198.80 90.15h-1.8M96.14 199.50v-1.8M96.14 18.50v1.8M16.30 97.69h1.8M198.80 97.69h-1.8M103.75 199.50v-1.8M103.75 18.50v1.8M16.30 105.23h1.8M198.80 105.23h-1.8M111.35 199.50v-1.8M111.35 18.50v1.8M16.30 112.77h1.8M198.80 112.77h-1.8M118.96 199.50v-1.8M118.96 18.50v1.8M16.30 120.31h1.8M198.80 120.31h-1.8M126.56 199.50v-1.8M126.56 18.50v1.8M16.30 127.85h1.8M198.80 127.85h-1.8M134.16 199.50v-1.8M134.16 18.50v1.8M16.30 135.40h1.8M198.80 135.40h-1.8M141.77 199.50v-1.8M141.77 18.50v1.8M16.30 142.94h1.8M198.80 142.94h-1.8M149.37 199.50v-1.8M149.37 18.50v1.8M16.30 150.48h1.8M198.80 150.48h-1.8M156.98 199.50v-1.8M156.98 18.50v1.8M16.30 158.02h1.8M198.80 158.02h-1.8M164.58 199.50v-1.8M164.58 18.50v1.8M16.30 165.56h1.8M198.80 165.56h-1.8M172.19 199.50v-1.8M172.19 18.50v1.8M16.30 173.10h1.8M198.80 173.10h-1.8M179.79 199.50v-1.8M179.79 18.50v1.8M16.30 180.65h1.8M198.80 180.65h-1.8M187.39 199.50v-1.8M187.39 18.50v1.8M16.30 188.19h1.8M198.80 188.19h-1.8M195.00 199.50v-1.8M195.00 18.50v1.8M16.30 195.73h1.8M198.80 195.73h-1.8" stroke="#262626" stroke-opacity="0.35" stroke-width="0.5" fill="none"/>
<text class="t" x="109.5" y="14.2">PLV</text>
<text class="a" text-anchor="end" x="13.4" y="25.6">1</text><text class="a" text-anchor="end" x="13.4" y="33.1">2</text><text class="a" text-anchor="end" x="13.4" y="40.7">3</text><text class="a" text-anchor="end" x="13.4" y="48.2">4</text><text class="a" text-anchor="end" x="13.4" y="55.7">5</text><text class="a" text-anchor="end" x="13.4" y="63.3">6</text><text class="a" text-anchor="end" x="13.4" y="70.8">7</text><text class="a" text-anchor="end" x="13.4" y="78.4">8</text><text class="a" text-anchor="end" x="13.4" y="85.9">9</text><text class="a" text-anchor="end" x="13.4" y="93.4">10</text><text class="a" text-anchor="end" x="13.4" y="101.0">11</text><text class="a" text-anchor="end" x="13.4" y="108.5">12</text><text class="a" text-anchor="end" x="13.4" y="116.1">13</text><text class="a" text-anchor="end" x="13.4" y="123.6">14</text><text class="a" text-anchor="end" x="13.4" y="131.2">15</text><text class="a" text-anchor="end" x="13.4" y="138.7">16</text><text class="a" text-anchor="end" x="13.4" y="146.2">17</text><text class="a" text-anchor="end" x="13.4" y="153.8">18</text><text class="a" text-anchor="end" x="13.4" y="161.3">19</text><text class="a" text-anchor="end" x="13.4" y="168.9">20</text><text class="a" text-anchor="end" x="13.4" y="176.4">21</text><text class="a" text-anchor="end" x="13.4" y="183.9">22</text><text class="a" text-anchor="end" x="13.4" y="191.5">23</text><text class="a" text-anchor="end" x="13.4" y="199.0">24</text>
<text class="a" text-anchor="end" transform="translate(23.6,203.5) rotate(-90)">1</text><text class="a" text-anchor="end" transform="translate(31.2,203.5) rotate(-90)">2</text><text class="a" text-anchor="end" transform="translate(38.8,203.5) rotate(-90)">3</text><text class="a" text-anchor="end" transform="translate(46.4,203.5) rotate(-90)">4</text><text class="a" text-anchor="end" transform="translate(54.0,203.5) rotate(-90)">5</text><text class="a" text-anchor="end" transform="translate(61.6,203.5) rotate(-90)">6</text><text class="a" text-anchor="end" transform="translate(69.2,203.5) rotate(-90)">7</text><text class="a" text-anchor="end" transform="translate(76.8,203.5) rotate(-90)">8</text><text class="a" text-anchor="end" transform="translate(84.4,203.5) rotate(-90)">9</text><text class="a" text-anchor="end" transform="translate(92.0,203.5) rotate(-90)">10</text><text class="a" text-anchor="end" transform="translate(99.6,203.5) rotate(-90)">11</text><text class="a" text-anchor="end" transform="translate(107.2,203.5) rotate(-90)">12</text><text class="a" text-anchor="end" transform="translate(114.9,203.5) rotate(-90)">13</text><text class="a" text-anchor="end" transform="translate(122.5,203.5) rotate(-90)">14</text><text class="a" text-anchor="end" transform="translate(130.1,203.5) rotate(-90)">15</text><text class="a" text-anchor="end" transform="translate(137.7,203.5) rotate(-90)">16</text><text class="a" text-anchor="end" transform="translate(145.3,203.5) rotate(-90)">17</text><text class="a" text-anchor="end" transform="translate(152.9,203.5) rotate(-90)">18</text><text class="a" text-anchor="end" transform="translate(160.5,203.5) rotate(-90)">19</text><text class="a" text-anchor="end" transform="translate(168.1,203.5) rotate(-90)">20</text><text class="a" text-anchor="end" transform="translate(175.7,203.5) rotate(-90)">21</text><text class="a" text-anchor="end" transform="translate(183.3,203.5) rotate(-90)">22</text><text class="a" text-anchor="end" transform="translate(190.9,203.5) rotate(-90)">23</text><text class="a" text-anchor="end" transform="translate(198.5,203.5) rotate(-90)">24</text>
<rect x="205.9" y="18.5" width="11.1" height="181.00" fill="url(#pg)"/>
<rect x="205.9" y="18.5" width="11.1" height="181.00" fill="none" stroke="#262626" stroke-opacity="0.3" stroke-width="0.5"/>
<path d="M217.00 18.50h-1.6M205.90 18.50h1.6" stroke="#262626" stroke-opacity="0.45" stroke-width="0.5"/><text class="c" x="221.8" y="23.6">1</text><path d="M217.00 54.70h-1.6M205.90 54.70h1.6" stroke="#262626" stroke-opacity="0.45" stroke-width="0.5"/><text class="c" x="221.8" y="59.8">0.8</text><path d="M217.00 90.90h-1.6M205.90 90.90h1.6" stroke="#262626" stroke-opacity="0.45" stroke-width="0.5"/><text class="c" x="221.8" y="96.0">0.6</text><path d="M217.00 127.10h-1.6M205.90 127.10h1.6" stroke="#262626" stroke-opacity="0.45" stroke-width="0.5"/><text class="c" x="221.8" y="132.2">0.4</text><path d="M217.00 163.30h-1.6M205.90 163.30h1.6" stroke="#262626" stroke-opacity="0.45" stroke-width="0.5"/><text class="c" x="221.8" y="168.4">0.2</text>
<text class="cap" x="87.2" y="254.5">(<tspan font-weight="bold">a</tspan>)</text>
</g>
<g>
<rect x="323.2" y="18.5" width="182.20" height="181.00" fill="#4433cc"/>
<rect x="323.20" y="18.50" width="8.89" height="8.84" fill="#402bb7"/><rect x="330.79" y="18.50" width="8.89" height="8.84" fill="#2c8ff1"/><rect x="338.38" y="18.50" width="8.89" height="8.84" fill="#2f81fa"/><rect x="345.97" y="18.50" width="8.89" height="8.84" fill="#f5e825"/><rect x="353.57" y="18.50" width="8.89" height="8.84" fill="#2fc5a2"/><rect x="361.16" y="18.50" width="8.89" height="8.84" fill="#f9d82c"/><rect x="368.75" y="18.50" width="8.89" height="8.84" fill="#f9d82c"/><rect x="376.34" y="18.50" width="8.89" height="8.84" fill="#58cc79"/><rect x="383.93" y="18.50" width="8.89" height="8.84" fill="#4435d1"/><rect x="391.52" y="18.50" width="8.89" height="8.84" fill="#4435d0"/><rect x="399.12" y="18.50" width="8.89" height="8.84" fill="#4537d5"/><rect x="406.71" y="18.50" width="8.89" height="8.84" fill="#4435d0"/><rect x="414.30" y="18.50" width="8.89" height="8.84" fill="#4743e7"/><rect x="421.89" y="18.50" width="8.89" height="8.84" fill="#4537d6"/><rect x="429.48" y="18.50" width="8.89" height="8.84" fill="#347afd"/><rect x="437.07" y="18.50" width="8.89" height="8.84" fill="#11b1d6"/><rect x="444.67" y="18.50" width="8.89" height="8.84" fill="#4332ca"/><rect x="452.26" y="18.50" width="8.89" height="8.84" fill="#4230c4"/><rect x="459.85" y="18.50" width="8.89" height="8.84" fill="#4331c8"/><rect x="467.44" y="18.50" width="8.89" height="8.84" fill="#4434ce"/><rect x="475.03" y="18.50" width="8.89" height="8.84" fill="#4331c6"/><rect x="482.62" y="18.50" width="8.89" height="8.84" fill="#4330c5"/><rect x="490.22" y="18.50" width="8.89" height="8.84" fill="#4230c4"/><rect x="497.81" y="18.50" width="7.59" height="8.84" fill="#4230c4"/>
<rect x="323.20" y="26.04" width="8.89" height="8.84" fill="#2c8ff1"/><rect x="330.79" y="26.04" width="8.89" height="8.84" fill="#402bb7"/><rect x="338.38" y="26.04" width="8.89" height="8.84" fill="#1ac0b5"/><rect x="345.97" y="26.04" width="8.89" height="8.84" fill="#f5ec22"/><rect x="353.57" y="26.04" width="8.89" height="8.84" fill="#c1c32d"/><rect x="361.16" y="26.04" width="8.89" height="8.84" fill="#f5e427"/><rect x="368.75" y="26.04" width="8.89" height="8.84" fill="#fec13a"/><rect x="376.34" y="26.04" width="8.89" height="8.84" fill="#249fe6"/><rect x="383.93" y="26.04" width="8.89" height="8.84" fill="#4536d4"/><rect x="391.52" y="26.04" width="8.89" height="8.84" fill="#4435d1"/><rect x="399.12" y="26.04" width="8.89" height="8.84" fill="#4536d3"/><rect x="406.71" y="26.04" width="8.89" height="8.84" fill="#2895ec"/><rect x="414.30" y="26.04" width="8.89" height="8.84" fill="#4538d7"/><rect x="421.89" y="26.04" width="8.89" height="8.84" fill="#4434d0"/><rect x="429.48" y="26.04" width="8.89" height="8.84" fill="#473fe3"/><rect x="437.07" y="26.04" width="8.89" height="8.84" fill="#2cc4a7"/><rect x="444.67" y="26.04" width="8.89" height="8.84" fill="#4330c5"/><rect x="452.26" y="26.04" width="8.89" height="8.84" fill="#4332ca"/><rect x="459.85" y="26.04" width="8.89" height="8.84" fill="#4433cc"/><rect x="467.44" y="26.04" width="8.89" height="8.84" fill="#4331c8"/><rect x="475.03" y="26.04" width="8.89" height="8.84" fill="#4434ce"/><rect x="482.62" y="26.04" width="8.89" height="8.84" fill="#4332c8"/><rect x="490.22" y="26.04" width="8.89" height="8.84" fill="#4331c8"/><rect x="497.81" y="26.04" width="7.59" height="8.84" fill="#4331c8"/>
<rect x="323.20" y="33.58" width="8.89" height="8.84" fill="#2f81fa"/><rect x="330.79" y="33.58" width="8.89" height="8.84" fill="#1ac0b5"/><rect x="338.38" y="33.58" width="8.89" height="8.84" fill="#402bb7"/><rect x="345.97" y="33.58" width="8.89" height="8.84" fill="#fcd030"/><rect x="353.57" y="33.58" width="8.89" height="8.84" fill="#249fe6"/><rect x="361.16" y="33.58" width="8.89" height="8.84" fill="#fec835"/><rect x="368.75" y="33.58" width="8.89" height="8.84" fill="#f5ec22"/><rect x="376.34" y="33.58" width="8.89" height="8.84" fill="#9fc942"/><rect x="383.93" y="33.58" width="8.89" height="8.84" fill="#4639da"/><rect x="391.52" y="33.58" width="8.89" height="8.84" fill="#4743e7"/><rect x="399.12" y="33.58" width="8.89" height="8.84" fill="#4538d8"/><rect x="406.71" y="33.58" width="8.89" height="8.84" fill="#4639da"/><rect x="414.30" y="33.58" width="8.89" height="8.84" fill="#4743e7"/><rect x="421.89" y="33.58" width="8.89" height="8.84" fill="#4435d0"/><rect x="429.48" y="33.58" width="8.89" height="8.84" fill="#473fe3"/><rect x="437.07" y="33.58" width="8.89" height="8.84" fill="#0abdbd"/><rect x="444.67" y="33.58" width="8.89" height="8.84" fill="#4332c8"/><rect x="452.26" y="33.58" width="8.89" height="8.84" fill="#4331c7"/><rect x="459.85" y="33.58" width="8.89" height="8.84" fill="#4433cc"/><rect x="467.44" y="33.58" width="8.89" height="8.84" fill="#4332c9"/><rect x="475.03" y="33.58" width="8.89" height="8.84" fill="#4432cb"/><rect x="482.62" y="33.58" width="8.89" height="8.84" fill="#4331c6"/><rect x="490.22" y="33.58" width="8.89" height="8.84" fill="#4331c5"/><rect x="497.81" y="33.58" width="7.59" height="8.84" fill="#4330c5"/>
<rect x="323.20" y="41.12" width="8.89" height="8.84" fill="#f5e825"/><rect x="330.79" y="41.12" width="8.89" height="8.84" fill="#f5ec22"/><rect x="338.38" y="41.12" width="8.89" height="8.84" fill="#fcd030"/><rect x="345.97" y="41.12" width="8.89" height="8.84" fill="#402bb7"/><rect x="353.57" y="41.12" width="8.89" height="8.84" fill="#debd29"/><rect x="361.16" y="41.12" width="8.89" height="8.84" fill="#4539d9"/><rect x="368.75" y="41.12" width="8.89" height="8.84" fill="#71cd64"/><rect x="376.34" y="41.12" width="8.89" height="8.84" fill="#f5e825"/><rect x="383.93" y="41.12" width="8.89" height="8.84" fill="#4435d1"/><rect x="391.52" y="41.12" width="8.89" height="8.84" fill="#4536d4"/><rect x="399.12" y="41.12" width="8.89" height="8.84" fill="#4538d8"/><rect x="406.71" y="41.12" width="8.89" height="8.84" fill="#4639da"/><rect x="414.30" y="41.12" width="8.89" height="8.84" fill="#4434ce"/><rect x="421.89" y="41.12" width="8.89" height="8.84" fill="#4639da"/><rect x="429.48" y="41.12" width="8.89" height="8.84" fill="#422ebe"/><rect x="437.07" y="41.12" width="8.89" height="8.84" fill="#4536d3"/><rect x="444.67" y="41.12" width="8.89" height="8.84" fill="#4433cc"/><rect x="452.26" y="41.12" width="8.89" height="8.84" fill="#4433cc"/><rect x="459.85" y="41.12" width="8.89" height="8.84" fill="#4331c7"/><rect x="467.44" y="41.12" width="8.89" height="8.84" fill="#4230c4"/><rect x="475.03" y="41.12" width="8.89" height="8.84" fill="#4332ca"/><rect x="482.62" y="41.12" width="8.89" height="8.84" fill="#4331c7"/><rect x="490.22" y="41.12" width="8.89" height="8.84" fill="#4433cd"/><rect x="497.81" y="41.12" width="7.59" height="8.84" fill="#4230c4"/>
<rect x="323.20" y="48.67" width="8.89" height="8.84" fill="#2fc5a2"/><rect x="330.79" y="48.67" width="8.89" height="8.84" fill="#c1c32d"/><rect x="338.38" y="48.67" width="8.89" height="8.84" fill="#249fe6"/><rect x="345.97" y="48.67" width="8.89" height="8.84" fill="#debd29"/><rect x="353.57" y="48.67" width="8.89" height="8.84" fill="#402bb7"/><rect x="361.16" y="48.67" width="8.89" height="8.84" fill="#84cc56"/><rect x="368.75" y="48.67" width="8.89" height="8.84" fill="#f5e825"/><rect x="376.34" y="48.67" width="8.89" height="8.84" fill="#fad42e"/><rect x="383.93" y="48.67" width="8.89" height="8.84" fill="#4538d8"/><rect x="391.52" y="48.67" width="8.89" height="8.84" fill="#463adb"/><rect x="399.12" y="48.67" width="8.89" height="8.84" fill="#4536d3"/><rect x="406.71" y="48.67" width="8.89" height="8.84" fill="#4367fd"/><rect x="414.30" y="48.67" width="8.89" height="8.84" fill="#422ebe"/><rect x="421.89" y="48.67" width="8.89" height="8.84" fill="#422ebe"/><rect x="429.48" y="48.67" width="8.89" height="8.84" fill="#4537d6"/><rect x="437.07" y="48.67" width="8.89" height="8.84" fill="#20a4e3"/><rect x="444.67" y="48.67" width="8.89" height="8.84" fill="#4331c6"/><rect x="452.26" y="48.67" width="8.89" height="8.84" fill="#4330c5"/><rect x="459.85" y="48.67" width="8.89" height="8.84" fill="#4433cd"/><rect x="467.44" y="48.67" width="8.89" height="8.84" fill="#4433cc"/><rect x="475.03" y="48.67" width="8.89" height="8.84" fill="#4330c5"/><rect x="482.62" y="48.67" width="8.89" height="8.84" fill="#4434ce"/><rect x="490.22" y="48.67" width="8.89" height="8.84" fill="#4433cd"/><rect x="497.81" y="48.67" width="7.59" height="8.84" fill="#4331c7"/>
<rect x="323.20" y="56.21" width="8.89" height="8.84" fill="#f9d82c"/><rect x="330.79" y="56.21" width="8.89" height="8.84" fill="#f5e427"/><rect x="338.38" y="56.21" width="8.89" height="8.84" fill="#fec835"/><rect x="345.97" y="56.21" width="8.89" height="8.84" fill="#4539d9"/><rect x="353.57" y="56.21" width="8.89" height="8.84" fill="#84cc56"/><rect x="361.16" y="56.21" width="8.89" height="8.84" fill="#402bb7"/><rect x="368.75" y="56.21" width="8.89" height="8.84" fill="#a8c73b"/><rect x="376.34" y="56.21" width="8.89" height="8.84" fill="#f5e427"/><rect x="383.93" y="56.21" width="8.89" height="8.84" fill="#4434cf"/><rect x="391.52" y="56.21" width="8.89" height="8.84" fill="#4538d8"/><rect x="399.12" y="56.21" width="8.89" height="8.84" fill="#4538d7"/><rect x="406.71" y="56.21" width="8.89" height="8.84" fill="#422ebe"/><rect x="414.30" y="56.21" width="8.89" height="8.84" fill="#422ebe"/><rect x="421.89" y="56.21" width="8.89" height="8.84" fill="#4755f6"/><rect x="429.48" y="56.21" width="8.89" height="8.84" fill="#422ebe"/><rect x="437.07" y="56.21" width="8.89" height="8.84" fill="#4536d3"/><rect x="444.67" y="56.21" width="8.89" height="8.84" fill="#4331c8"/><rect x="452.26" y="56.21" width="8.89" height="8.84" fill="#4330c5"/><rect x="459.85" y="56.21" width="8.89" height="8.84" fill="#4331c8"/><rect x="467.44" y="56.21" width="8.89" height="8.84" fill="#4330c5"/><rect x="475.03" y="56.21" width="8.89" height="8.84" fill="#4330c5"/><rect x="482.62" y="56.21" width="8.89" height="8.84" fill="#4434ce"/><rect x="490.22" y="56.21" width="8.89" height="8.84" fill="#4230c4"/><rect x="497.81" y="56.21" width="7.59" height="8.84" fill="#4433cc"/>
<rect x="323.20" y="63.75" width="8.89" height="8.84" fill="#f9d82c"/><rect x="330.79" y="63.75" width="8.89" height="8.84" fill="#fec13a"/><rect x="338.38" y="63.75" width="8.89" height="8.84" fill="#f5ec22"/><rect x="345.97" y="63.75" width="8.89" height="8.84" fill="#71cd64"/><rect x="353.57" y="63.75" width="8.89" height="8.84" fill="#f5e825"/><rect x="361.16" y="63.75" width="8.89" height="8.84" fill="#a8c73b"/><rect x="368.75" y="63.75" width="8.89" height="8.84" fill="#402bb7"/><rect x="376.34" y="63.75" width="8.89" height="8.84" fill="#60cd72"/><rect x="383.93" y="63.75" width="8.89" height="8.84" fill="#4537d5"/><rect x="391.52" y="63.75" width="8.89" height="8.84" fill="#4743e7"/><rect x="399.12" y="63.75" width="8.89" height="8.84" fill="#473fe3"/><rect x="406.71" y="63.75" width="8.89" height="8.84" fill="#4435d0"/><rect x="414.30" y="63.75" width="8.89" height="8.84" fill="#4743e7"/><rect x="421.89" y="63.75" width="8.89" height="8.84" fill="#4743e7"/><rect x="429.48" y="63.75" width="8.89" height="8.84" fill="#4743e7"/><rect x="437.07" y="63.75" width="8.89" height="8.84" fill="#20a4e3"/><rect x="444.67" y="63.75" width="8.89" height="8.84" fill="#4330c5"/><rect x="452.26" y="63.75" width="8.89" height="8.84" fill="#4332ca"/><rect x="459.85" y="63.75" width="8.89" height="8.84" fill="#4433cc"/><rect x="467.44" y="63.75" width="8.89" height="8.84" fill="#4331c6"/><rect x="475.03" y="63.75" width="8.89" height="8.84" fill="#4332ca"/><rect x="482.62" y="63.75" width="8.89" height="8.84" fill="#4332c9"/><rect x="490.22" y="63.75" width="8.89" height="8.84" fill="#4330c4"/><rect x="497.81" y="63.75" width="7.59" height="8.84" fill="#4434ce"/>
<rect x="323.20" y="71.29" width="8.89" height="8.84" fill="#58cc79"/><rect x="330.79" y="71.29" width="8.89" height="8.84" fill="#249fe6"/><rect x="338.38" y="71.29" width="8.89" height="8.84" fill="#9fc942"/><rect x="345.97" y="71.29" width="8.89" height="8.84" fill="#f5e825"/><rect x="353.57" y="71.29" width="8.89" height="8.84" fill="#fad42e"/><rect x="361.16" y="71.29" width="8.89" height="8.84" fill="#f5e427"/><rect x="368.75" y="71.29" width="8.89" height="8.84" fill="#60cd72"/><rect x="376.34" y="71.29" width="8.89" height="8.84" fill="#402bb7"/><rect x="383.93" y="71.29" width="8.89" height="8.84" fill="#463adb"/><rect x="391.52" y="71.29" width="8.89" height="8.84" fill="#4639da"/><rect x="399.12" y="71.29" width="8.89" height="8.84" fill="#4538d7"/><rect x="406.71" y="71.29" width="8.89" height="8.84" fill="#4539d9"/><rect x="414.30" y="71.29" width="8.89" height="8.84" fill="#4537d7"/><rect x="421.89" y="71.29" width="8.89" height="8.84" fill="#463adb"/><rect x="429.48" y="71.29" width="8.89" height="8.84" fill="#4433cd"/><rect x="437.07" y="71.29" width="8.89" height="8.84" fill="#01b9c6"/><rect x="444.67" y="71.29" width="8.89" height="8.84" fill="#4230c4"/><rect x="452.26" y="71.29" width="8.89" height="8.84" fill="#4433cb"/><rect x="459.85" y="71.29" width="8.89" height="8.84" fill="#4433cb"/><rect x="467.44" y="71.29" width="8.89" height="8.84" fill="#4331c6"/><rect x="475.03" y="71.29" width="8.89" height="8.84" fill="#4331c6"/><rect x="482.62" y="71.29" width="8.89" height="8.84" fill="#4433cd"/><rect x="490.22" y="71.29" width="8.89" height="8.84" fill="#4331c7"/><rect x="497.81" y="71.29" width="7.59" height="8.84" fill="#4230c4"/>
<rect x="323.20" y="78.83" width="8.89" height="8.84" fill="#4435d1"/><rect x="330.79" y="78.83" width="8.89" height="8.84" fill="#4536d4"/><rect x="338.38" y="78.83" width="8.89" height="8.84" fill="#4639da"/><rect x="345.97" y="78.83" width="8.89" height="8.84" fill="#4435d1"/><rect x="353.57" y="78.83" width="8.89" height="8.84" fill="#4538d8"/><rect x="361.16" y="78.83" width="8.89" height="8.84" fill="#4434cf"/><rect x="368.75" y="78.83" width="8.89" height="8.84" fill="#4537d5"/><rect x="376.34" y="78.83" width="8.89" height="8.84" fill="#463adb"/><rect x="383.93" y="78.83" width="8.89" height="8.84" fill="#402bb7"/><rect x="391.52" y="78.83" width="8.89" height="8.84" fill="#84cc56"/><rect x="399.12" y="78.83" width="8.89" height="8.84" fill="#48cb86"/><rect x="406.71" y="78.83" width="8.89" height="8.84" fill="#4433cc"/><rect x="414.30" y="78.83" width="8.89" height="8.84" fill="#84cc56"/><rect x="421.89" y="78.83" width="8.89" height="8.84" fill="#fec437"/><rect x="429.48" y="78.83" width="8.89" height="8.84" fill="#f5e427"/><rect x="437.07" y="78.83" width="8.89" height="8.84" fill="#2cc4a7"/><rect x="444.67" y="78.83" width="8.89" height="8.84" fill="#4433cc"/><rect x="452.26" y="78.83" width="8.89" height="8.84" fill="#4433cc"/><rect x="459.85" y="78.83" width="8.89" height="8.84" fill="#4230c4"/><rect x="467.44" y="78.83" width="8.89" height="8.84" fill="#4332ca"/><rect x="475.03" y="78.83" width="8.89" height="8.84" fill="#4433cc"/><rect x="482.62" y="78.83" width="8.89" height="8.84" fill="#4331c6"/><rect x="490.22" y="78.83" width="8.89" height="8.84" fill="#4434ce"/><rect x="497.81" y="78.83" width="7.59" height="8.84" fill="#4332c9"/>
<rect x="323.20" y="86.38" width="8.89" height="8.84" fill="#4435d0"/><rect x="330.79" y="86.38" width="8.89" height="8.84" fill="#4435d1"/><rect x="338.38" y="86.38" width="8.89" height="8.84" fill="#4743e7"/><rect x="345.97" y="86.38" width="8.89" height="8.84" fill="#4536d4"/><rect x="353.57" y="86.38" width="8.89" height="8.84" fill="#463adb"/><rect x="361.16" y="86.38" width="8.89" height="8.84" fill="#4538d8"/><rect x="368.75" y="86.38" width="8.89" height="8.84" fill="#4743e7"/><rect x="376.34" y="86.38" width="8.89" height="8.84" fill="#4639da"/><rect x="383.93" y="86.38" width="8.89" height="8.84" fill="#84cc56"/><rect x="391.52" y="86.38" width="8.89" height="8.84" fill="#402bb7"/><rect x="399.12" y="86.38" width="8.89" height="8.84" fill="#484aee"/><rect x="406.71" y="86.38" width="8.89" height="8.84" fill="#37c898"/><rect x="414.30" y="86.38" width="8.89" height="8.84" fill="#4539d9"/><rect x="421.89" y="86.38" width="8.89" height="8.84" fill="#2699ea"/><rect x="429.48" y="86.38" width="8.89" height="8.84" fill="#3bc992"/><rect x="437.07" y="86.38" width="8.89" height="8.84" fill="#f6e028"/><rect x="444.67" y="86.38" width="8.89" height="8.84" fill="#4433cd"/><rect x="452.26" y="86.38" width="8.89" height="8.84" fill="#4433cb"/><rect x="459.85" y="86.38" width="8.89" height="8.84" fill="#4332ca"/><rect x="467.44" y="86.38" width="8.89" height="8.84" fill="#4230c3"/><rect x="475.03" y="86.38" width="8.89" height="8.84" fill="#4434ce"/><rect x="482.62" y="86.38" width="8.89" height="8.84" fill="#4332ca"/><rect x="490.22" y="86.38" width="8.89" height="8.84" fill="#4332c9"/><rect x="497.81" y="86.38" width="7.59" height="8.84" fill="#4230c3"/>
<rect x="323.20" y="93.92" width="8.89" height="8.84" fill="#4537d5"/><rect x="330.79" y="93.92" width="8.89" height="8.84" fill="#4536d3"/><rect x="338.38" y="93.92" width="8.89" height="8.84" fill="#4538d8"/><rect x="345.97" y="93.92" width="8.89" height="8.84" fill="#4538d8"/><rect x="353.57" y="93.92" width="8.89" height="8.84" fill="#4536d3"/><rect x="361.16" y="93.92" width="8.89" height="8.84" fill="#4538d7"/><rect x="368.75" y="93.92" width="8.89" height="8.84" fill="#473fe3"/><rect x="376.34" y="93.92" width="8.89" height="8.84" fill="#4538d7"/><rect x="383.93" y="93.92" width="8.89" height="8.84" fill="#48cb86"/><rect x="391.52" y="93.92" width="8.89" height="8.84" fill="#484aee"/><rect x="399.12" y="93.92" width="8.89" height="8.84" fill="#402bb7"/><rect x="406.71" y="93.92" width="8.89" height="8.84" fill="#2fc5a2"/><rect x="414.30" y="93.92" width="8.89" height="8.84" fill="#484aee"/><rect x="421.89" y="93.92" width="8.89" height="8.84" fill="#22a1e4"/><rect x="429.48" y="93.92" width="8.89" height="8.84" fill="#84cc56"/><rect x="437.07" y="93.92" width="8.89" height="8.84" fill="#f6e028"/><rect x="444.67" y="93.92" width="8.89" height="8.84" fill="#4332ca"/><rect x="452.26" y="93.92" width="8.89" height="8.84" fill="#4433cb"/><rect x="459.85" y="93.92" width="8.89" height="8.84" fill="#4331c8"/><rect x="467.44" y="93.92" width="8.89" height="8.84" fill="#4331c6"/><rect x="475.03" y="93.92" width="8.89" height="8.84" fill="#4332c9"/><rect x="482.62" y="93.92" width="8.89" height="8.84" fill="#4433cc"/><rect x="490.22" y="93.92" width="8.89" height="8.84" fill="#4331c8"/><rect x="497.81" y="93.92" width="7.59" height="8.84" fill="#4433cb"/>
<rect x="323.20" y="101.46" width="8.89" height="8.84" fill="#4435d0"/><rect x="330.79" y="101.46" width="8.89" height="8.84" fill="#2895ec"/><rect x="338.38" y="101.46" width="8.89" height="8.84" fill="#4639da"/><rect x="345.97" y="101.46" width="8.89" height="8.84" fill="#4639da"/><rect x="353.57" y="101.46" width="8.89" height="8.84" fill="#4367fd"/><rect x="361.16" y="101.46" width="8.89" height="8.84" fill="#422ebe"/><rect x="368.75" y="101.46" width="8.89" height="8.84" fill="#4435d0"/><rect x="376.34" y="101.46" width="8.89" height="8.84" fill="#4539d9"/><rect x="383.93" y="101.46" width="8.89" height="8.84" fill="#4433cc"/><rect x="391.52" y="101.46" width="8.89" height="8.84" fill="#37c898"/><rect x="399.12" y="101.46" width="8.89" height="8.84" fill="#2fc5a2"/><rect x="406.71" y="101.46" width="8.89" height="8.84" fill="#402bb7"/><rect x="414.30" y="101.46" width="8.89" height="8.84" fill="#9fc942"/><rect x="421.89" y="101.46" width="8.89" height="8.84" fill="#fec437"/><rect x="429.48" y="101.46" width="8.89" height="8.84" fill="#f7dc2a"/><rect x="437.07" y="101.46" width="8.89" height="8.84" fill="#1ea7e1"/><rect x="444.67" y="101.46" width="8.89" height="8.84" fill="#4433cd"/><rect x="452.26" y="101.46" width="8.89" height="8.84" fill="#4433cb"/><rect x="459.85" y="101.46" width="8.89" height="8.84" fill="#4331c8"/><rect x="467.44" y="101.46" width="8.89" height="8.84" fill="#4230c3"/><rect x="475.03" y="101.46" width="8.89" height="8.84" fill="#4230c4"/><rect x="482.62" y="101.46" width="8.89" height="8.84" fill="#4434ce"/><rect x="490.22" y="101.46" width="8.89" height="8.84" fill="#4332c8"/><rect x="497.81" y="101.46" width="7.59" height="8.84" fill="#4332ca"/>
<rect x="323.20" y="109.00" width="8.89" height="8.84" fill="#4743e7"/><rect x="330.79" y="109.00" width="8.89" height="8.84" fill="#4538d7"/><rect x="338.38" y="109.00" width="8.89" height="8.84" fill="#4743e7"/><rect x="345.97" y="109.00" width="8.89" height="8.84" fill="#4434ce"/><rect x="353.57" y="109.00" width="8.89" height="8.84" fill="#422ebe"/><rect x="361.16" y="109.00" width="8.89" height="8.84" fill="#422ebe"/><rect x="368.75" y="109.00" width="8.89" height="8.84" fill="#4743e7"/><rect x="376.34" y="109.00" width="8.89" height="8.84" fill="#4537d7"/><rect x="383.93" y="109.00" width="8.89" height="8.84" fill="#84cc56"/><rect x="391.52" y="109.00" width="8.89" height="8.84" fill="#4539d9"/><rect x="399.12" y="109.00" width="8.89" height="8.84" fill="#484aee"/><rect x="406.71" y="109.00" width="8.89" height="8.84" fill="#9fc942"/><rect x="414.30" y="109.00" width="8.89" height="8.84" fill="#402bb7"/><rect x="421.89" y="109.00" width="8.89" height="8.84" fill="#2d8cf3"/><rect x="429.48" y="109.00" width="8.89" height="8.84" fill="#3bc992"/><rect x="437.07" y="109.00" width="8.89" height="8.84" fill="#f5e825"/><rect x="444.67" y="109.00" width="8.89" height="8.84" fill="#4230c4"/><rect x="452.26" y="109.00" width="8.89" height="8.84" fill="#4230c3"/><rect x="459.85" y="109.00" width="8.89" height="8.84" fill="#4331c7"/><rect x="467.44" y="109.00" width="8.89" height="8.84" fill="#4332c9"/><rect x="475.03" y="109.00" width="8.89" height="8.84" fill="#4332c8"/><rect x="482.62" y="109.00" width="8.89" height="8.84" fill="#4332c8"/><rect x="490.22" y="109.00" width="8.89" height="8.84" fill="#4332c9"/><rect x="497.81" y="109.00" width="7.59" height="8.84" fill="#4330c5"/>
<rect x="323.20" y="116.54" width="8.89" height="8.84" fill="#4537d6"/><rect x="330.79" y="116.54" width="8.89" height="8.84" fill="#4434d0"/><rect x="338.38" y="116.54" width="8.89" height="8.84" fill="#4435d0"/><rect x="345.97" y="116.54" width="8.89" height="8.84" fill="#4639da"/><rect x="353.57" y="116.54" width="8.89" height="8.84" fill="#422ebe"/><rect x="361.16" y="116.54" width="8.89" height="8.84" fill="#4755f6"/><rect x="368.75" y="116.54" width="8.89" height="8.84" fill="#4743e7"/><rect x="376.34" y="116.54" width="8.89" height="8.84" fill="#463adb"/><rect x="383.93" y="116.54" width="8.89" height="8.84" fill="#fec437"/><rect x="391.52" y="116.54" width="8.89" height="8.84" fill="#2699ea"/><rect x="399.12" y="116.54" width="8.89" height="8.84" fill="#22a1e4"/><rect x="406.71" y="116.54" width="8.89" height="8.84" fill="#fec437"/><rect x="414.30" y="116.54" width="8.89" height="8.84" fill="#2d8cf3"/><rect x="421.89" y="116.54" width="8.89" height="8.84" fill="#402bb7"/><rect x="429.48" y="116.54" width="8.89" height="8.84" fill="#2c8ff1"/><rect x="437.07" y="116.54" width="8.89" height="8.84" fill="#f5e825"/><rect x="444.67" y="116.54" width="8.89" height="8.84" fill="#4332c8"/><rect x="452.26" y="116.54" width="8.89" height="8.84" fill="#4332c9"/><rect x="459.85" y="116.54" width="8.89" height="8.84" fill="#4331c8"/><rect x="467.44" y="116.54" width="8.89" height="8.84" fill="#4331c8"/><rect x="475.03" y="116.54" width="8.89" height="8.84" fill="#4434cd"/><rect x="482.62" y="116.54" width="8.89" height="8.84" fill="#4432cb"/><rect x="490.22" y="116.54" width="8.89" height="8.84" fill="#4434ce"/><rect x="497.81" y="116.54" width="7.59" height="8.84" fill="#4330c5"/>
<rect x="323.20" y="124.08" width="8.89" height="8.84" fill="#347afd"/><rect x="330.79" y="124.08" width="8.89" height="8.84" fill="#473fe3"/><rect x="338.38" y="124.08" width="8.89" height="8.84" fill="#473fe3"/><rect x="345.97" y="124.08" width="8.89" height="8.84" fill="#422ebe"/><rect x="353.57" y="124.08" width="8.89" height="8.84" fill="#4537d6"/><rect x="361.16" y="124.08" width="8.89" height="8.84" fill="#422ebe"/><rect x="368.75" y="124.08" width="8.89" height="8.84" fill="#4743e7"/><rect x="376.34" y="124.08" width="8.89" height="8.84" fill="#4433cd"/><rect x="383.93" y="124.08" width="8.89" height="8.84" fill="#f5e427"/><rect x="391.52" y="124.08" width="8.89" height="8.84" fill="#3bc992"/><rect x="399.12" y="124.08" width="8.89" height="8.84" fill="#84cc56"/><rect x="406.71" y="124.08" width="8.89" height="8.84" fill="#f7dc2a"/><rect x="414.30" y="124.08" width="8.89" height="8.84" fill="#3bc992"/><rect x="421.89" y="124.08" width="8.89" height="8.84" fill="#2c8ff1"/><rect x="429.48" y="124.08" width="8.89" height="8.84" fill="#402bb7"/><rect x="437.07" y="124.08" width="8.89" height="8.84" fill="#f5ec22"/><rect x="444.67" y="124.08" width="8.89" height="8.84" fill="#4331c8"/><rect x="452.26" y="124.08" width="8.89" height="8.84" fill="#4330c5"/><rect x="459.85" y="124.08" width="8.89" height="8.84" fill="#4330c5"/><rect x="467.44" y="124.08" width="8.89" height="8.84" fill="#4331c6"/><rect x="475.03" y="124.08" width="8.89" height="8.84" fill="#4433cd"/><rect x="482.62" y="124.08" width="8.89" height="8.84" fill="#4331c6"/><rect x="490.22" y="124.08" width="8.89" height="8.84" fill="#4332ca"/><rect x="497.81" y="124.08" width="7.59" height="8.84" fill="#4330c5"/>
<rect x="323.20" y="131.62" width="8.89" height="8.84" fill="#11b1d6"/><rect x="330.79" y="131.62" width="8.89" height="8.84" fill="#2cc4a7"/><rect x="338.38" y="131.62" width="8.89" height="8.84" fill="#0abdbd"/><rect x="345.97" y="131.62" width="8.89" height="8.84" fill="#4536d3"/><rect x="353.57" y="131.62" width="8.89" height="8.84" fill="#20a4e3"/><rect x="361.16" y="131.62" width="8.89" height="8.84" fill="#4536d3"/><rect x="368.75" y="131.62" width="8.89" height="8.84" fill="#20a4e3"/><rect x="376.34" y="131.62" width="8.89" height="8.84" fill="#01b9c6"/><rect x="383.93" y="131.62" width="8.89" height="8.84" fill="#2cc4a7"/><rect x="391.52" y="131.62" width="8.89" height="8.84" fill="#f6e028"/><rect x="399.12" y="131.62" width="8.89" height="8.84" fill="#f6e028"/><rect x="406.71" y="131.62" width="8.89" height="8.84" fill="#1ea7e1"/><rect x="414.30" y="131.62" width="8.89" height="8.84" fill="#f5e825"/><rect x="421.89" y="131.62" width="8.89" height="8.84" fill="#f5e825"/><rect x="429.48" y="131.62" width="8.89" height="8.84" fill="#f5ec22"/><rect x="437.07" y="131.62" width="8.89" height="8.84" fill="#402bb7"/><rect x="444.67" y="131.62" width="8.89" height="8.84" fill="#475cfa"/><rect x="452.26" y="131.62" width="8.89" height="8.84" fill="#475cfa"/><rect x="459.85" y="131.62" width="8.89" height="8.84" fill="#475cfa"/><rect x="467.44" y="131.62" width="8.89" height="8.84" fill="#475cfa"/><rect x="475.03" y="131.62" width="8.89" height="8.84" fill="#475cfa"/><rect x="482.62" y="131.62" width="8.89" height="8.84" fill="#475cfa"/><rect x="490.22" y="131.62" width="8.89" height="8.84" fill="#475cfa"/><rect x="497.81" y="131.62" width="7.59" height="8.84" fill="#475cfa"/>
<rect x="323.20" y="139.17" width="8.89" height="8.84" fill="#4332ca"/><rect x="330.79" y="139.17" width="8.89" height="8.84" fill="#4330c5"/><rect x="338.38" y="139.17" width="8.89" height="8.84" fill="#4332c8"/><rect x="345.97" y="139.17" width="8.89" height="8.84" fill="#4433cc"/><rect x="353.57" y="139.17" width="8.89" height="8.84" fill="#4331c6"/><rect x="361.16" y="139.17" width="8.89" height="8.84" fill="#4331c8"/><rect x="368.75" y="139.17" width="8.89" height="8.84" fill="#4330c5"/><rect x="376.34" y="139.17" width="8.89" height="8.84" fill="#4230c4"/><rect x="383.93" y="139.17" width="8.89" height="8.84" fill="#4433cc"/><rect x="391.52" y="139.17" width="8.89" height="8.84" fill="#4433cd"/><rect x="399.12" y="139.17" width="8.89" height="8.84" fill="#4332ca"/><rect x="406.71" y="139.17" width="8.89" height="8.84" fill="#4433cd"/><rect x="414.30" y="139.17" width="8.89" height="8.84" fill="#4230c4"/><rect x="421.89" y="139.17" width="8.89" height="8.84" fill="#4332c8"/><rect x="429.48" y="139.17" width="8.89" height="8.84" fill="#4331c8"/><rect x="437.07" y="139.17" width="8.89" height="8.84" fill="#4367fd"/><rect x="444.67" y="139.17" width="8.89" height="8.84" fill="#4434ce"/><rect x="452.26" y="139.17" width="8.89" height="8.84" fill="#4331c7"/><rect x="459.85" y="139.17" width="8.89" height="8.84" fill="#4331c6"/><rect x="467.44" y="139.17" width="8.89" height="8.84" fill="#4332cb"/><rect x="475.03" y="139.17" width="8.89" height="8.84" fill="#4433cc"/><rect x="482.62" y="139.17" width="8.89" height="8.84" fill="#4331c7"/><rect x="490.22" y="139.17" width="8.89" height="8.84" fill="#4332c9"/><rect x="497.81" y="139.17" width="7.59" height="8.84" fill="#4433cb"/>
<rect x="323.20" y="146.71" width="8.89" height="8.84" fill="#4230c4"/><rect x="330.79" y="146.71" width="8.89" height="8.84" fill="#4332ca"/><rect x="338.38" y="146.71" width="8.89" height="8.84" fill="#4331c7"/><rect x="345.97" y="146.71" width="8.89" height="8.84" fill="#4433cc"/><rect x="353.57" y="146.71" width="8.89" height="8.84" fill="#4330c5"/><rect x="361.16" y="146.71" width="8.89" height="8.84" fill="#4330c5"/><rect x="368.75" y="146.71" width="8.89" height="8.84" fill="#4332ca"/><rect x="376.34" y="146.71" width="8.89" height="8.84" fill="#4433cb"/><rect x="383.93" y="146.71" width="8.89" height="8.84" fill="#4433cc"/><rect x="391.52" y="146.71" width="8.89" height="8.84" fill="#4433cb"/><rect x="399.12" y="146.71" width="8.89" height="8.84" fill="#4433cb"/><rect x="406.71" y="146.71" width="8.89" height="8.84" fill="#4433cb"/><rect x="414.30" y="146.71" width="8.89" height="8.84" fill="#4230c3"/><rect x="421.89" y="146.71" width="8.89" height="8.84" fill="#4332c9"/><rect x="429.48" y="146.71" width="8.89" height="8.84" fill="#4330c5"/><rect x="437.07" y="146.71" width="8.89" height="8.84" fill="#4367fd"/><rect x="444.67" y="146.71" width="8.89" height="8.84" fill="#4331c7"/><rect x="452.26" y="146.71" width="8.89" height="8.84" fill="#4434ce"/><rect x="459.85" y="146.71" width="8.89" height="8.84" fill="#4332c9"/><rect x="467.44" y="146.71" width="8.89" height="8.84" fill="#4230c4"/><rect x="475.03" y="146.71" width="8.89" height="8.84" fill="#4331c8"/><rect x="482.62" y="146.71" width="8.89" height="8.84" fill="#4331c7"/><rect x="490.22" y="146.71" width="8.89" height="8.84" fill="#4331c6"/><rect x="497.81" y="146.71" width="7.59" height="8.84" fill="#4332c8"/>
<rect x="323.20" y="154.25" width="8.89" height="8.84" fill="#4331c8"/><rect x="330.79" y="154.25" width="8.89" height="8.84" fill="#4433cc"/><rect x="338.38" y="154.25" width="8.89" height="8.84" fill="#4433cc"/><rect x="345.97" y="154.25" width="8.89" height="8.84" fill="#4331c7"/><rect x="353.57" y="154.25" width="8.89" height="8.84" fill="#4433cd"/><rect x="361.16" y="154.25" width="8.89" height="8.84" fill="#4331c8"/><rect x="368.75" y="154.25" width="8.89" height="8.84" fill="#4433cc"/><rect x="376.34" y="154.25" width="8.89" height="8.84" fill="#4433cb"/><rect x="383.93" y="154.25" width="8.89" height="8.84" fill="#4230c4"/><rect x="391.52" y="154.25" width="8.89" height="8.84" fill="#4332ca"/><rect x="399.12" y="154.25" width="8.89" height="8.84" fill="#4331c8"/><rect x="406.71" y="154.25" width="8.89" height="8.84" fill="#4331c8"/><rect x="414.30" y="154.25" width="8.89" height="8.84" fill="#4331c7"/><rect x="421.89" y="154.25" width="8.89" height="8.84" fill="#4331c8"/><rect x="429.48" y="154.25" width="8.89" height="8.84" fill="#4330c5"/><rect x="437.07" y="154.25" width="8.89" height="8.84" fill="#4367fd"/><rect x="444.67" y="154.25" width="8.89" height="8.84" fill="#4331c6"/><rect x="452.26" y="154.25" width="8.89" height="8.84" fill="#4332c9"/><rect x="459.85" y="154.25" width="8.89" height="8.84" fill="#4332c9"/><rect x="467.44" y="154.25" width="8.89" height="8.84" fill="#4230c4"/><rect x="475.03" y="154.25" width="8.89" height="8.84" fill="#4230c4"/><rect x="482.62" y="154.25" width="8.89" height="8.84" fill="#4332cb"/><rect x="490.22" y="154.25" width="8.89" height="8.84" fill="#4433cd"/><rect x="497.81" y="154.25" width="7.59" height="8.84" fill="#4331c7"/>
<rect x="323.20" y="161.79" width="8.89" height="8.84" fill="#4434ce"/><rect x="330.79" y="161.79" width="8.89" height="8.84" fill="#4331c8"/><rect x="338.38" y="161.79" width="8.89" height="8.84" fill="#4332c9"/><rect x="345.97" y="161.79" width="8.89" height="8.84" fill="#4230c4"/><rect x="353.57" y="161.79" width="8.89" height="8.84" fill="#4433cc"/><rect x="361.16" y="161.79" width="8.89" height="8.84" fill="#4330c5"/><rect x="368.75" y="161.79" width="8.89" height="8.84" fill="#4331c6"/><rect x="376.34" y="161.79" width="8.89" height="8.84" fill="#4331c6"/><rect x="383.93" y="161.79" width="8.89" height="8.84" fill="#4332ca"/><rect x="391.52" y="161.79" width="8.89" height="8.84" fill="#4230c3"/><rect x="399.12" y="161.79" width="8.89" height="8.84" fill="#4331c6"/><rect x="406.71" y="161.79" width="8.89" height="8.84" fill="#4230c3"/><rect x="414.30" y="161.79" width="8.89" height="8.84" fill="#4332c9"/><rect x="421.89" y="161.79" width="8.89" height="8.84" fill="#4331c8"/><rect x="429.48" y="161.79" width="8.89" height="8.84" fill="#4331c6"/><rect x="437.07" y="161.79" width="8.89" height="8.84" fill="#4367fd"/><rect x="444.67" y="161.79" width="8.89" height="8.84" fill="#4332cb"/><rect x="452.26" y="161.79" width="8.89" height="8.84" fill="#4230c4"/><rect x="459.85" y="161.79" width="8.89" height="8.84" fill="#4230c4"/><rect x="467.44" y="161.79" width="8.89" height="8.84" fill="#4434ce"/><rect x="475.03" y="161.79" width="8.89" height="8.84" fill="#4332c9"/><rect x="482.62" y="161.79" width="8.89" height="8.84" fill="#4332c8"/><rect x="490.22" y="161.79" width="8.89" height="8.84" fill="#4332ca"/><rect x="497.81" y="161.79" width="7.59" height="8.84" fill="#4332ca"/>
<rect x="323.20" y="169.33" width="8.89" height="8.84" fill="#4331c6"/><rect x="330.79" y="169.33" width="8.89" height="8.84" fill="#4434ce"/><rect x="338.38" y="169.33" width="8.89" height="8.84" fill="#4432cb"/><rect x="345.97" y="169.33" width="8.89" height="8.84" fill="#4332ca"/><rect x="353.57" y="169.33" width="8.89" height="8.84" fill="#4330c5"/><rect x="361.16" y="169.33" width="8.89" height="8.84" fill="#4330c5"/><rect x="368.75" y="169.33" width="8.89" height="8.84" fill="#4332ca"/><rect x="376.34" y="169.33" width="8.89" height="8.84" fill="#4331c6"/><rect x="383.93" y="169.33" width="8.89" height="8.84" fill="#4433cc"/><rect x="391.52" y="169.33" width="8.89" height="8.84" fill="#4434ce"/><rect x="399.12" y="169.33" width="8.89" height="8.84" fill="#4332c9"/><rect x="406.71" y="169.33" width="8.89" height="8.84" fill="#4230c4"/><rect x="414.30" y="169.33" width="8.89" height="8.84" fill="#4332c8"/><rect x="421.89" y="169.33" width="8.89" height="8.84" fill="#4434cd"/><rect x="429.48" y="169.33" width="8.89" height="8.84" fill="#4433cd"/><rect x="437.07" y="169.33" width="8.89" height="8.84" fill="#4367fd"/><rect x="444.67" y="169.33" width="8.89" height="8.84" fill="#4433cc"/><rect x="452.26" y="169.33" width="8.89" height="8.84" fill="#4331c8"/><rect x="459.85" y="169.33" width="8.89" height="8.84" fill="#4230c4"/><rect x="467.44" y="169.33" width="8.89" height="8.84" fill="#4332c9"/><rect x="475.03" y="169.33" width="8.89" height="8.84" fill="#4434ce"/><rect x="482.62" y="169.33" width="8.89" height="8.84" fill="#4330c5"/><rect x="490.22" y="169.33" width="8.89" height="8.84" fill="#4433cc"/><rect x="497.81" y="169.33" width="7.59" height="8.84" fill="#4230c4"/>
<rect x="323.20" y="176.88" width="8.89" height="8.84" fill="#4330c5"/><rect x="330.79" y="176.88" width="8.89" height="8.84" fill="#4332c8"/><rect x="338.38" y="176.88" width="8.89" height="8.84" fill="#4331c6"/><rect x="345.97" y="176.88" width="8.89" height="8.84" fill="#4331c7"/><rect x="353.57" y="176.88" width="8.89" height="8.84" fill="#4434ce"/><rect x="361.16" y="176.88" width="8.89" height="8.84" fill="#4434ce"/><rect x="368.75" y="176.88" width="8.89" height="8.84" fill="#4332c9"/><rect x="376.34" y="176.88" width="8.89" height="8.84" fill="#4433cd"/><rect x="383.93" y="176.88" width="8.89" height="8.84" fill="#4331c6"/><rect x="391.52" y="176.88" width="8.89" height="8.84" fill="#4332ca"/><rect x="399.12" y="176.88" width="8.89" height="8.84" fill="#4433cc"/><rect x="406.71" y="176.88" width="8.89" height="8.84" fill="#4434ce"/><rect x="414.30" y="176.88" width="8.89" height="8.84" fill="#4332c8"/><rect x="421.89" y="176.88" width="8.89" height="8.84" fill="#4432cb"/><rect x="429.48" y="176.88" width="8.89" height="8.84" fill="#4331c6"/><rect x="437.07" y="176.88" width="8.89" height="8.84" fill="#4367fd"/><rect x="444.67" y="176.88" width="8.89" height="8.84" fill="#4331c7"/><rect x="452.26" y="176.88" width="8.89" height="8.84" fill="#4331c7"/><rect x="459.85" y="176.88" width="8.89" height="8.84" fill="#4332cb"/><rect x="467.44" y="176.88" width="8.89" height="8.84" fill="#4332c8"/><rect x="475.03" y="176.88" width="8.89" height="8.84" fill="#4330c5"/><rect x="482.62" y="176.88" width="8.89" height="8.84" fill="#4332c9"/><rect x="490.22" y="176.88" width="8.89" height="8.84" fill="#4330c5"/><rect x="497.81" y="176.88" width="7.59" height="8.84" fill="#4332c8"/>
<rect x="323.20" y="184.42" width="8.89" height="8.84" fill="#4230c4"/><rect x="330.79" y="184.42" width="8.89" height="8.84" fill="#4331c8"/><rect x="338.38" y="184.42" width="8.89" height="8.84" fill="#4331c5"/><rect x="345.97" y="184.42" width="8.89" height="8.84" fill="#4433cd"/><rect x="353.57" y="184.42" width="8.89" height="8.84" fill="#4433cd"/><rect x="361.16" y="184.42" width="8.89" height="8.84" fill="#4230c4"/><rect x="368.75" y="184.42" width="8.89" height="8.84" fill="#4330c4"/><rect x="376.34" y="184.42" width="8.89" height="8.84" fill="#4331c7"/><rect x="383.93" y="184.42" width="8.89" height="8.84" fill="#4434ce"/><rect x="391.52" y="184.42" width="8.89" height="8.84" fill="#4332c9"/><rect x="399.12" y="184.42" width="8.89" height="8.84" fill="#4331c8"/><rect x="406.71" y="184.42" width="8.89" height="8.84" fill="#4332c8"/><rect x="414.30" y="184.42" width="8.89" height="8.84" fill="#4332c9"/><rect x="421.89" y="184.42" width="8.89" height="8.84" fill="#4434ce"/><rect x="429.48" y="184.42" width="8.89" height="8.84" fill="#4332ca"/><rect x="437.07" y="184.42" width="8.89" height="8.84" fill="#4367fd"/><rect x="444.67" y="184.42" width="8.89" height="8.84" fill="#4332c9"/><rect x="452.26" y="184.42" width="8.89" height="8.84" fill="#4331c6"/><rect x="459.85" y="184.42" width="8.89" height="8.84" fill="#4433cd"/><rect x="467.44" y="184.42" width="8.89" height="8.84" fill="#4332ca"/><rect x="475.03" y="184.42" width="8.89" height="8.84" fill="#4433cc"/><rect x="482.62" y="184.42" width="8.89" height="8.84" fill="#4330c5"/><rect x="490.22" y="184.42" width="8.89" height="8.84" fill="#4332ca"/><rect x="497.81" y="184.42" width="7.59" height="8.84" fill="#4230c4"/>
<rect x="323.20" y="191.96" width="8.89" height="7.54" fill="#4230c4"/><rect x="330.79" y="191.96" width="8.89" height="7.54" fill="#4331c8"/><rect x="338.38" y="191.96" width="8.89" height="7.54" fill="#4330c5"/><rect x="345.97" y="191.96" width="8.89" height="7.54" fill="#4230c4"/><rect x="353.57" y="191.96" width="8.89" height="7.54" fill="#4331c7"/><rect x="361.16" y="191.96" width="8.89" height="7.54" fill="#4433cc"/><rect x="368.75" y="191.96" width="8.89" height="7.54" fill="#4434ce"/><rect x="376.34" y="191.96" width="8.89" height="7.54" fill="#4230c4"/><rect x="383.93" y="191.96" width="8.89" height="7.54" fill="#4332c9"/><rect x="391.52" y="191.96" width="8.89" height="7.54" fill="#4230c3"/><rect x="399.12" y="191.96" width="8.89" height="7.54" fill="#4433cb"/><rect x="406.71" y="191.96" width="8.89" height="7.54" fill="#4332ca"/><rect x="414.30" y="191.96" width="8.89" height="7.54" fill="#4330c5"/><rect x="421.89" y="191.96" width="8.89" height="7.54" fill="#4330c5"/><rect x="429.48" y="191.96" width="8.89" height="7.54" fill="#4330c5"/><rect x="437.07" y="191.96" width="8.89" height="7.54" fill="#4367fd"/><rect x="444.67" y="191.96" width="8.89" height="7.54" fill="#4433cb"/><rect x="452.26" y="191.96" width="8.89" height="7.54" fill="#4332c8"/><rect x="459.85" y="191.96" width="8.89" height="7.54" fill="#4331c7"/><rect x="467.44" y="191.96" width="8.89" height="7.54" fill="#4332ca"/><rect x="475.03" y="191.96" width="8.89" height="7.54" fill="#4230c4"/><rect x="482.62" y="191.96" width="8.89" height="7.54" fill="#4332c8"/><rect x="490.22" y="191.96" width="8.89" height="7.54" fill="#4230c4"/><rect x="497.81" y="191.96" width="7.59" height="7.54" fill="#4330c5"/>
<rect x="323.2" y="18.5" width="182.20" height="181.00" fill="none" stroke="#262626" stroke-opacity="0.35" stroke-width="0.5"/>
<path d="M327.00 199.50v-1.8M327.00 18.50v1.8M323.20 22.27h1.8M505.40 22.27h-1.8M334.59 199.50v-1.8M334.59 18.50v1.8M323.20 29.81h1.8M505.40 29.81h-1.8M342.18 199.50v-1.8M342.18 18.50v1.8M323.20 37.35h1.8M505.40 37.35h-1.8M349.77 199.50v-1.8M349.77 18.50v1.8M323.20 44.90h1.8M505.40 44.90h-1.8M357.36 199.50v-1.8M357.36 18.50v1.8M323.20 52.44h1.8M505.40 52.44h-1.8M364.95 199.50v-1.8M364.95 18.50v1.8M323.20 59.98h1.8M505.40 59.98h-1.8M372.55 199.50v-1.8M372.55 18.50v1.8M323.20 67.52h1.8M505.40 67.52h-1.8M380.14 199.50v-1.8M380.14 18.50v1.8M323.20 75.06h1.8M505.40 75.06h-1.8M387.73 199.50v-1.8M387.73 18.50v1.8M323.20 82.60h1.8M505.40 82.60h-1.8M395.32 199.50v-1.8M395.32 18.50v1.8M323.20 90.15h1.8M505.40 90.15h-1.8M402.91 199.50v-1.8M402.91 18.50v1.8M323.20 97.69h1.8M505.40 97.69h-1.8M410.50 199.50v-1.8M410.50 18.50v1.8M323.20 105.23h1.8M505.40 105.23h-1.8M418.10 199.50v-1.8M418.10 18.50v1.8M323.20 112.77h1.8M505.40 112.77h-1.8M425.69 199.50v-1.8M425.69 18.50v1.8M323.20 120.31h1.8M505.40 120.31h-1.8M433.28 199.50v-1.8M433.28 18.50v1.8M323.20 127.85h1.8M505.40 127.85h-1.8M440.87 199.50v-1.8M440.87 18.50v1.8M323.20 135.40h1.8M505.40 135.40h-1.8M448.46 199.50v-1.8M448.46 18.50v1.8M323.20 142.94h1.8M505.40 142.94h-1.8M456.05 199.50v-1.8M456.05 18.50v1.8M323.20 150.48h1.8M505.40 150.48h-1.8M463.65 199.50v-1.8M463.65 18.50v1.8M323.20 158.02h1.8M505.40 158.02h-1.8M471.24 199.50v-1.8M471.24 18.50v1.8M323.20 165.56h1.8M505.40 165.56h-1.8M478.83 199.50v-1.8M478.83 18.50v1.8M323.20 173.10h1.8M505.40 173.10h-1.8M486.42 199.50v-1.8M486.42 18.50v1.8M323.20 180.65h1.8M505.40 180.65h-1.8M494.01 199.50v-1.8M494.01 18.50v1.8M323.20 188.19h1.8M505.40 188.19h-1.8M501.60 199.50v-1.8M501.60 18.50v1.8M323.20 195.73h1.8M505.40 195.73h-1.8" stroke="#262626" stroke-opacity="0.35" stroke-width="0.5" fill="none"/>
<text class="t" x="416.2" y="14.2">wPLI</text>
<text class="a" text-anchor="end" x="320.3" y="25.6">1</text><text class="a" text-anchor="end" x="320.3" y="33.1">2</text><text class="a" text-anchor="end" x="320.3" y="40.7">3</text><text class="a" text-anchor="end" x="320.3" y="48.2">4</text><text class="a" text-anchor="end" x="320.3" y="55.7">5</text><text class="a" text-anchor="end" x="320.3" y="63.3">6</text><text class="a" text-anchor="end" x="320.3" y="70.8">7</text><text class="a" text-anchor="end" x="320.3" y="78.4">8</text><text class="a" text-anchor="end" x="320.3" y="85.9">9</text><text class="a" text-anchor="end" x="320.3" y="93.4">10</text><text class="a" text-anchor="end" x="320.3" y="101.0">11</text><text class="a" text-anchor="end" x="320.3" y="108.5">12</text><text class="a" text-anchor="end" x="320.3" y="116.1">13</text><text class="a" text-anchor="end" x="320.3" y="123.6">14</text><text class="a" text-anchor="end" x="320.3" y="131.2">15</text><text class="a" text-anchor="end" x="320.3" y="138.7">16</text><text class="a" text-anchor="end" x="320.3" y="146.2">17</text><text class="a" text-anchor="end" x="320.3" y="153.8">18</text><text class="a" text-anchor="end" x="320.3" y="161.3">19</text><text class="a" text-anchor="end" x="320.3" y="168.9">20</text><text class="a" text-anchor="end" x="320.3" y="176.4">21</text><text class="a" text-anchor="end" x="320.3" y="183.9">22</text><text class="a" text-anchor="end" x="320.3" y="191.5">23</text><text class="a" text-anchor="end" x="320.3" y="199.0">24</text>
<text class="a" text-anchor="end" transform="translate(330.5,203.5) rotate(-90)">1</text><text class="a" text-anchor="end" transform="translate(338.1,203.5) rotate(-90)">2</text><text class="a" text-anchor="end" transform="translate(345.7,203.5) rotate(-90)">3</text><text class="a" text-anchor="end" transform="translate(353.3,203.5) rotate(-90)">4</text><text class="a" text-anchor="end" transform="translate(360.9,203.5) rotate(-90)">5</text><text class="a" text-anchor="end" transform="translate(368.5,203.5) rotate(-90)">6</text><text class="a" text-anchor="end" transform="translate(376.0,203.5) rotate(-90)">7</text><text class="a" text-anchor="end" transform="translate(383.6,203.5) rotate(-90)">8</text><text class="a" text-anchor="end" transform="translate(391.2,203.5) rotate(-90)">9</text><text class="a" text-anchor="end" transform="translate(398.8,203.5) rotate(-90)">10</text><text class="a" text-anchor="end" transform="translate(406.4,203.5) rotate(-90)">11</text><text class="a" text-anchor="end" transform="translate(414.0,203.5) rotate(-90)">12</text><text class="a" text-anchor="end" transform="translate(421.6,203.5) rotate(-90)">13</text><text class="a" text-anchor="end" transform="translate(429.2,203.5) rotate(-90)">14</text><text class="a" text-anchor="end" transform="translate(436.8,203.5) rotate(-90)">15</text><text class="a" text-anchor="end" transform="translate(444.4,203.5) rotate(-90)">16</text><text class="a" text-anchor="end" transform="translate(452.0,203.5) rotate(-90)">17</text><text class="a" text-anchor="end" transform="translate(459.6,203.5) rotate(-90)">18</text><text class="a" text-anchor="end" transform="translate(467.1,203.5) rotate(-90)">19</text><text class="a" text-anchor="end" transform="translate(474.7,203.5) rotate(-90)">20</text><text class="a" text-anchor="end" transform="translate(482.3,203.5) rotate(-90)">21</text><text class="a" text-anchor="end" transform="translate(489.9,203.5) rotate(-90)">22</text><text class="a" text-anchor="end" transform="translate(497.5,203.5) rotate(-90)">23</text><text class="a" text-anchor="end" transform="translate(505.1,203.5) rotate(-90)">24</text>
<rect x="512.9" y="18.5" width="11.1" height="181.00" fill="url(#pg)"/>
<rect x="512.9" y="18.5" width="11.1" height="181.00" fill="none" stroke="#262626" stroke-opacity="0.3" stroke-width="0.5"/>
<path d="M524.00 39.50h-1.6M512.90 39.50h1.6" stroke="#262626" stroke-opacity="0.45" stroke-width="0.5"/><text class="c" x="528.8" y="44.6">0.8</text><path d="M524.00 79.50h-1.6M512.90 79.50h1.6" stroke="#262626" stroke-opacity="0.45" stroke-width="0.5"/><text class="c" x="528.8" y="84.6">0.6</text><path d="M524.00 119.50h-1.6M512.90 119.50h1.6" stroke="#262626" stroke-opacity="0.45" stroke-width="0.5"/><text class="c" x="528.8" y="124.6">0.4</text><path d="M524.00 159.50h-1.6M512.90 159.50h1.6" stroke="#262626" stroke-opacity="0.45" stroke-width="0.5"/><text class="c" x="528.8" y="164.6">0.2</text>
<text class="cap" x="393.9" y="254.5">(<tspan font-weight="bold">b</tspan>)</text>
</g>
<g>
<rect x="16.3" y="283.6" width="182.50" height="181.20" fill="#4433cc"/>
<rect x="16.30" y="283.60" width="8.90" height="8.85" fill="#f9fb15"/><rect x="23.90" y="283.60" width="8.90" height="8.85" fill="#07bcc0"/><rect x="31.51" y="283.60" width="8.90" height="8.85" fill="#07bcc0"/><rect x="39.11" y="283.60" width="8.90" height="8.85" fill="#07bcc0"/><rect x="46.72" y="283.60" width="8.90" height="8.85" fill="#07bcc0"/><rect x="54.32" y="283.60" width="8.90" height="8.85" fill="#07bcc0"/><rect x="61.92" y="283.60" width="8.90" height="8.85" fill="#07bcc0"/><rect x="69.53" y="283.60" width="8.90" height="8.85" fill="#07bcc0"/><rect x="77.13" y="283.60" width="8.90" height="8.85" fill="#4433cc"/><rect x="84.74" y="283.60" width="8.90" height="8.85" fill="#4433cc"/><rect x="92.34" y="283.60" width="8.90" height="8.85" fill="#4433cc"/><rect x="99.95" y="283.60" width="8.90" height="8.85" fill="#4433cc"/><rect x="107.55" y="283.60" width="8.90" height="8.85" fill="#4433cc"/><rect x="115.15" y="283.60" width="8.90" height="8.85" fill="#4433cc"/><rect x="122.76" y="283.60" width="8.90" height="8.85" fill="#249fe6"/><rect x="130.36" y="283.60" width="8.90" height="8.85" fill="#465ffb"/><rect x="137.97" y="283.60" width="8.90" height="8.85" fill="#422fc1"/><rect x="145.57" y="283.60" width="8.90" height="8.85" fill="#412ebe"/><rect x="153.18" y="283.60" width="8.90" height="8.85" fill="#4230c3"/><rect x="160.78" y="283.60" width="8.90" height="8.85" fill="#422fc0"/><rect x="168.38" y="283.60" width="8.90" height="8.85" fill="#422ebf"/><rect x="175.99" y="283.60" width="8.90" height="8.85" fill="#422ebe"/><rect x="183.59" y="283.60" width="8.90" height="8.85" fill="#422fc0"/><rect x="191.20" y="283.60" width="7.60" height="8.85" fill="#422fc0"/>
<rect x="16.30" y="291.15" width="8.90" height="8.85" fill="#07bcc0"/><rect x="23.90" y="291.15" width="8.90" height="8.85" fill="#f9fb15"/><rect x="31.51" y="291.15" width="8.90" height="8.85" fill="#0abdbd"/><rect x="39.11" y="291.15" width="8.90" height="8.85" fill="#0abdbd"/><rect x="46.72" y="291.15" width="8.90" height="8.85" fill="#0abdbd"/><rect x="54.32" y="291.15" width="8.90" height="8.85" fill="#0abdbd"/><rect x="61.92" y="291.15" width="8.90" height="8.85" fill="#0abdbd"/><rect x="69.53" y="291.15" width="8.90" height="8.85" fill="#0abdbd"/><rect x="77.13" y="291.15" width="8.90" height="8.85" fill="#4230c3"/><rect x="84.74" y="291.15" width="8.90" height="8.85" fill="#422fc2"/><rect x="92.34" y="291.15" width="8.90" height="8.85" fill="#4230c3"/><rect x="99.95" y="291.15" width="8.90" height="8.85" fill="#4563fd"/><rect x="107.55" y="291.15" width="8.90" height="8.85" fill="#4331c8"/><rect x="115.15" y="291.15" width="8.90" height="8.85" fill="#4330c5"/><rect x="122.76" y="291.15" width="8.90" height="8.85" fill="#4230c4"/><rect x="130.36" y="291.15" width="8.90" height="8.85" fill="#416bfe"/><rect x="137.97" y="291.15" width="8.90" height="8.85" fill="#422fc2"/><rect x="145.57" y="291.15" width="8.90" height="8.85" fill="#412ebe"/><rect x="153.18" y="291.15" width="8.90" height="8.85" fill="#422fc0"/><rect x="160.78" y="291.15" width="8.90" height="8.85" fill="#422ebf"/><rect x="168.38" y="291.15" width="8.90" height="8.85" fill="#422fc1"/><rect x="175.99" y="291.15" width="8.90" height="8.85" fill="#422ebf"/><rect x="183.59" y="291.15" width="8.90" height="8.85" fill="#422ebf"/><rect x="191.20" y="291.15" width="7.60" height="8.85" fill="#422fc1"/>
<rect x="16.30" y="298.70" width="8.90" height="8.85" fill="#07bcc0"/><rect x="23.90" y="298.70" width="8.90" height="8.85" fill="#0abdbd"/><rect x="31.51" y="298.70" width="8.90" height="8.85" fill="#f9fb15"/><rect x="39.11" y="298.70" width="8.90" height="8.85" fill="#0abdbd"/><rect x="46.72" y="298.70" width="8.90" height="8.85" fill="#0abdbd"/><rect x="54.32" y="298.70" width="8.90" height="8.85" fill="#0abdbd"/><rect x="61.92" y="298.70" width="8.90" height="8.85" fill="#0abdbd"/><rect x="69.53" y="298.70" width="8.90" height="8.85" fill="#0abdbd"/><rect x="77.13" y="298.70" width="8.90" height="8.85" fill="#4331c7"/><rect x="84.74" y="298.70" width="8.90" height="8.85" fill="#4330c5"/><rect x="92.34" y="298.70" width="8.90" height="8.85" fill="#4330c5"/><rect x="99.95" y="298.70" width="8.90" height="8.85" fill="#4230c4"/><rect x="107.55" y="298.70" width="8.90" height="8.85" fill="#4230c4"/><rect x="115.15" y="298.70" width="8.90" height="8.85" fill="#4230c4"/><rect x="122.76" y="298.70" width="8.90" height="8.85" fill="#422fc2"/><rect x="130.36" y="298.70" width="8.90" height="8.85" fill="#416bfe"/><rect x="137.97" y="298.70" width="8.90" height="8.85" fill="#4230c4"/><rect x="145.57" y="298.70" width="8.90" height="8.85" fill="#422fc0"/><rect x="153.18" y="298.70" width="8.90" height="8.85" fill="#422fc1"/><rect x="160.78" y="298.70" width="8.90" height="8.85" fill="#422ebf"/><rect x="168.38" y="298.70" width="8.90" height="8.85" fill="#422ebf"/><rect x="175.99" y="298.70" width="8.90" height="8.85" fill="#422ebf"/><rect x="183.59" y="298.70" width="8.90" height="8.85" fill="#422fc1"/><rect x="191.20" y="298.70" width="7.60" height="8.85" fill="#422ec0"/>
<rect x="16.30" y="306.25" width="8.90" height="8.85" fill="#07bcc0"/><rect x="23.90" y="306.25" width="8.90" height="8.85" fill="#0abdbd"/><rect x="31.51" y="306.25" width="8.90" height="8.85" fill="#0abdbd"/><rect x="39.11" y="306.25" width="8.90" height="8.85" fill="#f9fb15"/><rect x="46.72" y="306.25" width="8.90" height="8.85" fill="#0abdbd"/><rect x="54.32" y="306.25" width="8.90" height="8.85" fill="#0abdbd"/><rect x="61.92" y="306.25" width="8.90" height="8.85" fill="#0abdbd"/><rect x="69.53" y="306.25" width="8.90" height="8.85" fill="#0abdbd"/><rect x="77.13" y="306.25" width="8.90" height="8.85" fill="#4330c5"/><rect x="84.74" y="306.25" width="8.90" height="8.85" fill="#4331c6"/><rect x="92.34" y="306.25" width="8.90" height="8.85" fill="#4230c4"/><rect x="99.95" y="306.25" width="8.90" height="8.85" fill="#402bb7"/><rect x="107.55" y="306.25" width="8.90" height="8.85" fill="#4230c3"/><rect x="115.15" y="306.25" width="8.90" height="8.85" fill="#4331c7"/><rect x="122.76" y="306.25" width="8.90" height="8.85" fill="#4331c8"/><rect x="130.36" y="306.25" width="8.90" height="8.85" fill="#416bfe"/><rect x="137.97" y="306.25" width="8.90" height="8.85" fill="#422ec0"/><rect x="145.57" y="306.25" width="8.90" height="8.85" fill="#422fc2"/><rect x="153.18" y="306.25" width="8.90" height="8.85" fill="#422fc2"/><rect x="160.78" y="306.25" width="8.90" height="8.85" fill="#412dbd"/><rect x="168.38" y="306.25" width="8.90" height="8.85" fill="#422ebf"/><rect x="175.99" y="306.25" width="8.90" height="8.85" fill="#422fc1"/><rect x="183.59" y="306.25" width="8.90" height="8.85" fill="#422fc1"/><rect x="191.20" y="306.25" width="7.60" height="8.85" fill="#422ec0"/>
<rect x="16.30" y="313.80" width="8.90" height="8.85" fill="#07bcc0"/><rect x="23.90" y="313.80" width="8.90" height="8.85" fill="#0abdbd"/><rect x="31.51" y="313.80" width="8.90" height="8.85" fill="#0abdbd"/><rect x="39.11" y="313.80" width="8.90" height="8.85" fill="#0abdbd"/><rect x="46.72" y="313.80" width="8.90" height="8.85" fill="#f9fb15"/><rect x="54.32" y="313.80" width="8.90" height="8.85" fill="#0abdbd"/><rect x="61.92" y="313.80" width="8.90" height="8.85" fill="#0abdbd"/><rect x="69.53" y="313.80" width="8.90" height="8.85" fill="#0abdbd"/><rect x="77.13" y="313.80" width="8.90" height="8.85" fill="#4230c4"/><rect x="84.74" y="313.80" width="8.90" height="8.85" fill="#422fc1"/><rect x="92.34" y="313.80" width="8.90" height="8.85" fill="#4331c7"/><rect x="99.95" y="313.80" width="8.90" height="8.85" fill="#473fe3"/><rect x="107.55" y="313.80" width="8.90" height="8.85" fill="#422fc1"/><rect x="115.15" y="313.80" width="8.90" height="8.85" fill="#4331c8"/><rect x="122.76" y="313.80" width="8.90" height="8.85" fill="#4331c8"/><rect x="130.36" y="313.80" width="8.90" height="8.85" fill="#416bfe"/><rect x="137.97" y="313.80" width="8.90" height="8.85" fill="#422fc0"/><rect x="145.57" y="313.80" width="8.90" height="8.85" fill="#422fc2"/><rect x="153.18" y="313.80" width="8.90" height="8.85" fill="#422fc1"/><rect x="160.78" y="313.80" width="8.90" height="8.85" fill="#422fc2"/><rect x="168.38" y="313.80" width="8.90" height="8.85" fill="#422ec0"/><rect x="175.99" y="313.80" width="8.90" height="8.85" fill="#4230c3"/><rect x="183.59" y="313.80" width="8.90" height="8.85" fill="#422fc2"/><rect x="191.20" y="313.80" width="7.60" height="8.85" fill="#422fc1"/>
<rect x="16.30" y="321.35" width="8.90" height="8.85" fill="#07bcc0"/><rect x="23.90" y="321.35" width="8.90" height="8.85" fill="#0abdbd"/><rect x="31.51" y="321.35" width="8.90" height="8.85" fill="#0abdbd"/><rect x="39.11" y="321.35" width="8.90" height="8.85" fill="#0abdbd"/><rect x="46.72" y="321.35" width="8.90" height="8.85" fill="#0abdbd"/><rect x="54.32" y="321.35" width="8.90" height="8.85" fill="#f9fb15"/><rect x="61.92" y="321.35" width="8.90" height="8.85" fill="#0abdbd"/><rect x="69.53" y="321.35" width="8.90" height="8.85" fill="#0abdbd"/><rect x="77.13" y="321.35" width="8.90" height="8.85" fill="#4331c6"/><rect x="84.74" y="321.35" width="8.90" height="8.85" fill="#422fc2"/><rect x="92.34" y="321.35" width="8.90" height="8.85" fill="#4331c6"/><rect x="99.95" y="321.35" width="8.90" height="8.85" fill="#402bb7"/><rect x="107.55" y="321.35" width="8.90" height="8.85" fill="#422fc1"/><rect x="115.15" y="321.35" width="8.90" height="8.85" fill="#4743e7"/><rect x="122.76" y="321.35" width="8.90" height="8.85" fill="#4330c5"/><rect x="130.36" y="321.35" width="8.90" height="8.85" fill="#416bfe"/><rect x="137.97" y="321.35" width="8.90" height="8.85" fill="#422fc0"/><rect x="145.57" y="321.35" width="8.90" height="8.85" fill="#422fc1"/><rect x="153.18" y="321.35" width="8.90" height="8.85" fill="#422ebf"/><rect x="160.78" y="321.35" width="8.90" height="8.85" fill="#422ec0"/><rect x="168.38" y="321.35" width="8.90" height="8.85" fill="#422fc2"/><rect x="175.99" y="321.35" width="8.90" height="8.85" fill="#412dbd"/><rect x="183.59" y="321.35" width="8.90" height="8.85" fill="#4230c3"/><rect x="191.20" y="321.35" width="7.60" height="8.85" fill="#4230c3"/>
<rect x="16.30" y="328.90" width="8.90" height="8.85" fill="#07bcc0"/><rect x="23.90" y="328.90" width="8.90" height="8.85" fill="#0abdbd"/><rect x="31.51" y="328.90" width="8.90" height="8.85" fill="#0abdbd"/><rect x="39.11" y="328.90" width="8.90" height="8.85" fill="#0abdbd"/><rect x="46.72" y="328.90" width="8.90" height="8.85" fill="#0abdbd"/><rect x="54.32" y="328.90" width="8.90" height="8.85" fill="#0abdbd"/><rect x="61.92" y="328.90" width="8.90" height="8.85" fill="#f9fb15"/><rect x="69.53" y="328.90" width="8.90" height="8.85" fill="#0abdbd"/><rect x="77.13" y="328.90" width="8.90" height="8.85" fill="#4331c7"/><rect x="84.74" y="328.90" width="8.90" height="8.85" fill="#4434d0"/><rect x="92.34" y="328.90" width="8.90" height="8.85" fill="#4536d3"/><rect x="99.95" y="328.90" width="8.90" height="8.85" fill="#4331c8"/><rect x="107.55" y="328.90" width="8.90" height="8.85" fill="#4331c8"/><rect x="115.15" y="328.90" width="8.90" height="8.85" fill="#4331c6"/><rect x="122.76" y="328.90" width="8.90" height="8.85" fill="#4331c6"/><rect x="130.36" y="328.90" width="8.90" height="8.85" fill="#416bfe"/><rect x="137.97" y="328.90" width="8.90" height="8.85" fill="#422fc0"/><rect x="145.57" y="328.90" width="8.90" height="8.85" fill="#422ebf"/><rect x="153.18" y="328.90" width="8.90" height="8.85" fill="#422fc1"/><rect x="160.78" y="328.90" width="8.90" height="8.85" fill="#412ebe"/><rect x="168.38" y="328.90" width="8.90" height="8.85" fill="#422fc2"/><rect x="175.99" y="328.90" width="8.90" height="8.85" fill="#4230c3"/><rect x="183.59" y="328.90" width="8.90" height="8.85" fill="#422fc2"/><rect x="191.20" y="328.90" width="7.60" height="8.85" fill="#422fc0"/>
<rect x="16.30" y="336.45" width="8.90" height="8.85" fill="#07bcc0"/><rect x="23.90" y="336.45" width="8.90" height="8.85" fill="#0abdbd"/><rect x="31.51" y="336.45" width="8.90" height="8.85" fill="#0abdbd"/><rect x="39.11" y="336.45" width="8.90" height="8.85" fill="#0abdbd"/><rect x="46.72" y="336.45" width="8.90" height="8.85" fill="#0abdbd"/><rect x="54.32" y="336.45" width="8.90" height="8.85" fill="#0abdbd"/><rect x="61.92" y="336.45" width="8.90" height="8.85" fill="#0abdbd"/><rect x="69.53" y="336.45" width="8.90" height="8.85" fill="#f9fb15"/><rect x="77.13" y="336.45" width="8.90" height="8.85" fill="#4331c6"/><rect x="84.74" y="336.45" width="8.90" height="8.85" fill="#4330c5"/><rect x="92.34" y="336.45" width="8.90" height="8.85" fill="#4331c7"/><rect x="99.95" y="336.45" width="8.90" height="8.85" fill="#422fc2"/><rect x="107.55" y="336.45" width="8.90" height="8.85" fill="#4331c8"/><rect x="115.15" y="336.45" width="8.90" height="8.85" fill="#4230c3"/><rect x="122.76" y="336.45" width="8.90" height="8.85" fill="#4230c3"/><rect x="130.36" y="336.45" width="8.90" height="8.85" fill="#416bfe"/><rect x="137.97" y="336.45" width="8.90" height="8.85" fill="#422fc1"/><rect x="145.57" y="336.45" width="8.90" height="8.85" fill="#422ebf"/><rect x="153.18" y="336.45" width="8.90" height="8.85" fill="#422fc0"/><rect x="160.78" y="336.45" width="8.90" height="8.85" fill="#422fc1"/><rect x="168.38" y="336.45" width="8.90" height="8.85" fill="#422fc2"/><rect x="175.99" y="336.45" width="8.90" height="8.85" fill="#422ebf"/><rect x="183.59" y="336.45" width="8.90" height="8.85" fill="#422fc2"/><rect x="191.20" y="336.45" width="7.60" height="8.85" fill="#412ebe"/>
<rect x="16.30" y="344.00" width="8.90" height="8.85" fill="#4433cc"/><rect x="23.90" y="344.00" width="8.90" height="8.85" fill="#4230c3"/><rect x="31.51" y="344.00" width="8.90" height="8.85" fill="#4331c7"/><rect x="39.11" y="344.00" width="8.90" height="8.85" fill="#4330c5"/><rect x="46.72" y="344.00" width="8.90" height="8.85" fill="#4230c4"/><rect x="54.32" y="344.00" width="8.90" height="8.85" fill="#4331c6"/><rect x="61.92" y="344.00" width="8.90" height="8.85" fill="#4331c7"/><rect x="69.53" y="344.00" width="8.90" height="8.85" fill="#4331c6"/><rect x="77.13" y="344.00" width="8.90" height="8.85" fill="#f9fb15"/><rect x="84.74" y="344.00" width="8.90" height="8.85" fill="#02bac4"/><rect x="92.34" y="344.00" width="8.90" height="8.85" fill="#02bac4"/><rect x="99.95" y="344.00" width="8.90" height="8.85" fill="#02bac4"/><rect x="107.55" y="344.00" width="8.90" height="8.85" fill="#02bac4"/><rect x="115.15" y="344.00" width="8.90" height="8.85" fill="#02bac4"/><rect x="122.76" y="344.00" width="8.90" height="8.85" fill="#02bac4"/><rect x="130.36" y="344.00" width="8.90" height="8.85" fill="#02bac4"/><rect x="137.97" y="344.00" width="8.90" height="8.85" fill="#4230c3"/><rect x="145.57" y="344.00" width="8.90" height="8.85" fill="#422fc2"/><rect x="153.18" y="344.00" width="8.90" height="8.85" fill="#422fc1"/><rect x="160.78" y="344.00" width="8.90" height="8.85" fill="#422fc1"/><rect x="168.38" y="344.00" width="8.90" height="8.85" fill="#422ec0"/><rect x="175.99" y="344.00" width="8.90" height="8.85" fill="#422fc2"/><rect x="183.59" y="344.00" width="8.90" height="8.85" fill="#422fc2"/><rect x="191.20" y="344.00" width="7.60" height="8.85" fill="#422fc1"/>
<rect x="16.30" y="351.55" width="8.90" height="8.85" fill="#4433cc"/><rect x="23.90" y="351.55" width="8.90" height="8.85" fill="#422fc2"/><rect x="31.51" y="351.55" width="8.90" height="8.85" fill="#4330c5"/><rect x="39.11" y="351.55" width="8.90" height="8.85" fill="#4331c6"/><rect x="46.72" y="351.55" width="8.90" height="8.85" fill="#422fc1"/><rect x="54.32" y="351.55" width="8.90" height="8.85" fill="#422fc2"/><rect x="61.92" y="351.55" width="8.90" height="8.85" fill="#4434d0"/><rect x="69.53" y="351.55" width="8.90" height="8.85" fill="#4330c5"/><rect x="77.13" y="351.55" width="8.90" height="8.85" fill="#02bac4"/><rect x="84.74" y="351.55" width="8.90" height="8.85" fill="#f9fb15"/><rect x="92.34" y="351.55" width="8.90" height="8.85" fill="#02bac4"/><rect x="99.95" y="351.55" width="8.90" height="8.85" fill="#02bac4"/><rect x="107.55" y="351.55" width="8.90" height="8.85" fill="#02bac4"/><rect x="115.15" y="351.55" width="8.90" height="8.85" fill="#02bac4"/><rect x="122.76" y="351.55" width="8.90" height="8.85" fill="#02bac4"/><rect x="130.36" y="351.55" width="8.90" height="8.85" fill="#02bac4"/><rect x="137.97" y="351.55" width="8.90" height="8.85" fill="#422fc1"/><rect x="145.57" y="351.55" width="8.90" height="8.85" fill="#422ebf"/><rect x="153.18" y="351.55" width="8.90" height="8.85" fill="#422ebe"/><rect x="160.78" y="351.55" width="8.90" height="8.85" fill="#422ebf"/><rect x="168.38" y="351.55" width="8.90" height="8.85" fill="#422fc1"/><rect x="175.99" y="351.55" width="8.90" height="8.85" fill="#422ebf"/><rect x="183.59" y="351.55" width="8.90" height="8.85" fill="#412ebd"/><rect x="191.20" y="351.55" width="7.60" height="8.85" fill="#422fc1"/>
<rect x="16.30" y="359.10" width="8.90" height="8.85" fill="#4433cc"/><rect x="23.90" y="359.10" width="8.90" height="8.85" fill="#4230c3"/><rect x="31.51" y="359.10" width="8.90" height="8.85" fill="#4330c5"/><rect x="39.11" y="359.10" width="8.90" height="8.85" fill="#4230c4"/><rect x="46.72" y="359.10" width="8.90" height="8.85" fill="#4331c7"/><rect x="54.32" y="359.10" width="8.90" height="8.85" fill="#4331c6"/><rect x="61.92" y="359.10" width="8.90" height="8.85" fill="#4536d3"/><rect x="69.53" y="359.10" width="8.90" height="8.85" fill="#4331c7"/><rect x="77.13" y="359.10" width="8.90" height="8.85" fill="#02bac4"/><rect x="84.74" y="359.10" width="8.90" height="8.85" fill="#02bac4"/><rect x="92.34" y="359.10" width="8.90" height="8.85" fill="#f9fb15"/><rect x="99.95" y="359.10" width="8.90" height="8.85" fill="#02bac4"/><rect x="107.55" y="359.10" width="8.90" height="8.85" fill="#02bac4"/><rect x="115.15" y="359.10" width="8.90" height="8.85" fill="#02bac4"/><rect x="122.76" y="359.10" width="8.90" height="8.85" fill="#02bac4"/><rect x="130.36" y="359.10" width="8.90" height="8.85" fill="#02bac4"/><rect x="137.97" y="359.10" width="8.90" height="8.85" fill="#422fc1"/><rect x="145.57" y="359.10" width="8.90" height="8.85" fill="#422fc1"/><rect x="153.18" y="359.10" width="8.90" height="8.85" fill="#4230c3"/><rect x="160.78" y="359.10" width="8.90" height="8.85" fill="#4230c4"/><rect x="168.38" y="359.10" width="8.90" height="8.85" fill="#422fc3"/><rect x="175.99" y="359.10" width="8.90" height="8.85" fill="#4230c3"/><rect x="183.59" y="359.10" width="8.90" height="8.85" fill="#422fc1"/><rect x="191.20" y="359.10" width="7.60" height="8.85" fill="#422fc0"/>
<rect x="16.30" y="366.65" width="8.90" height="8.85" fill="#4433cc"/><rect x="23.90" y="366.65" width="8.90" height="8.85" fill="#4563fd"/><rect x="31.51" y="366.65" width="8.90" height="8.85" fill="#4230c4"/><rect x="39.11" y="366.65" width="8.90" height="8.85" fill="#402bb7"/><rect x="46.72" y="366.65" width="8.90" height="8.85" fill="#473fe3"/><rect x="54.32" y="366.65" width="8.90" height="8.85" fill="#402bb7"/><rect x="61.92" y="366.65" width="8.90" height="8.85" fill="#4331c8"/><rect x="69.53" y="366.65" width="8.90" height="8.85" fill="#422fc2"/><rect x="77.13" y="366.65" width="8.90" height="8.85" fill="#02bac4"/><rect x="84.74" y="366.65" width="8.90" height="8.85" fill="#02bac4"/><rect x="92.34" y="366.65" width="8.90" height="8.85" fill="#02bac4"/><rect x="99.95" y="366.65" width="8.90" height="8.85" fill="#f9fb15"/><rect x="107.55" y="366.65" width="8.90" height="8.85" fill="#02bac4"/><rect x="115.15" y="366.65" width="8.90" height="8.85" fill="#02bac4"/><rect x="122.76" y="366.65" width="8.90" height="8.85" fill="#02bac4"/><rect x="130.36" y="366.65" width="8.90" height="8.85" fill="#02bac4"/><rect x="137.97" y="366.65" width="8.90" height="8.85" fill="#422fc2"/><rect x="145.57" y="366.65" width="8.90" height="8.85" fill="#412ebd"/><rect x="153.18" y="366.65" width="8.90" height="8.85" fill="#4230c3"/><rect x="160.78" y="366.65" width="8.90" height="8.85" fill="#422fc1"/><rect x="168.38" y="366.65" width="8.90" height="8.85" fill="#422fc2"/><rect x="175.99" y="366.65" width="8.90" height="8.85" fill="#4230c3"/><rect x="183.59" y="366.65" width="8.90" height="8.85" fill="#422fc2"/><rect x="191.20" y="366.65" width="7.60" height="8.85" fill="#412dbd"/>
<rect x="16.30" y="374.20" width="8.90" height="8.85" fill="#4433cc"/><rect x="23.90" y="374.20" width="8.90" height="8.85" fill="#4331c8"/><rect x="31.51" y="374.20" width="8.90" height="8.85" fill="#4230c4"/><rect x="39.11" y="374.20" width="8.90" height="8.85" fill="#4230c3"/><rect x="46.72" y="374.20" width="8.90" height="8.85" fill="#422fc1"/><rect x="54.32" y="374.20" width="8.90" height="8.85" fill="#422fc1"/><rect x="61.92" y="374.20" width="8.90" height="8.85" fill="#4331c8"/><rect x="69.53" y="374.20" width="8.90" height="8.85" fill="#4331c8"/><rect x="77.13" y="374.20" width="8.90" height="8.85" fill="#02bac4"/><rect x="84.74" y="374.20" width="8.90" height="8.85" fill="#02bac4"/><rect x="92.34" y="374.20" width="8.90" height="8.85" fill="#02bac4"/><rect x="99.95" y="374.20" width="8.90" height="8.85" fill="#02bac4"/><rect x="107.55" y="374.20" width="8.90" height="8.85" fill="#f9fb15"/><rect x="115.15" y="374.20" width="8.90" height="8.85" fill="#02bac4"/><rect x="122.76" y="374.20" width="8.90" height="8.85" fill="#02bac4"/><rect x="130.36" y="374.20" width="8.90" height="8.85" fill="#02bac4"/><rect x="137.97" y="374.20" width="8.90" height="8.85" fill="#412ebe"/><rect x="145.57" y="374.20" width="8.90" height="8.85" fill="#412ebe"/><rect x="153.18" y="374.20" width="8.90" height="8.85" fill="#4230c3"/><rect x="160.78" y="374.20" width="8.90" height="8.85" fill="#4230c4"/><rect x="168.38" y="374.20" width="8.90" height="8.85" fill="#4230c4"/><rect x="175.99" y="374.20" width="8.90" height="8.85" fill="#412ebe"/><rect x="183.59" y="374.20" width="8.90" height="8.85" fill="#422fc1"/><rect x="191.20" y="374.20" width="7.60" height="8.85" fill="#422ebf"/>
<rect x="16.30" y="381.75" width="8.90" height="8.85" fill="#4433cc"/><rect x="23.90" y="381.75" width="8.90" height="8.85" fill="#4330c5"/><rect x="31.51" y="381.75" width="8.90" height="8.85" fill="#4230c4"/><rect x="39.11" y="381.75" width="8.90" height="8.85" fill="#4331c7"/><rect x="46.72" y="381.75" width="8.90" height="8.85" fill="#4331c8"/><rect x="54.32" y="381.75" width="8.90" height="8.85" fill="#4743e7"/><rect x="61.92" y="381.75" width="8.90" height="8.85" fill="#4331c6"/><rect x="69.53" y="381.75" width="8.90" height="8.85" fill="#4230c3"/><rect x="77.13" y="381.75" width="8.90" height="8.85" fill="#02bac4"/><rect x="84.74" y="381.75" width="8.90" height="8.85" fill="#02bac4"/><rect x="92.34" y="381.75" width="8.90" height="8.85" fill="#02bac4"/><rect x="99.95" y="381.75" width="8.90" height="8.85" fill="#02bac4"/><rect x="107.55" y="381.75" width="8.90" height="8.85" fill="#02bac4"/><rect x="115.15" y="381.75" width="8.90" height="8.85" fill="#f9fb15"/><rect x="122.76" y="381.75" width="8.90" height="8.85" fill="#02bac4"/><rect x="130.36" y="381.75" width="8.90" height="8.85" fill="#02bac4"/><rect x="137.97" y="381.75" width="8.90" height="8.85" fill="#4332c9"/><rect x="145.57" y="381.75" width="8.90" height="8.85" fill="#4332c9"/><rect x="153.18" y="381.75" width="8.90" height="8.85" fill="#4332c9"/><rect x="160.78" y="381.75" width="8.90" height="8.85" fill="#4332c9"/><rect x="168.38" y="381.75" width="8.90" height="8.85" fill="#4332c9"/><rect x="175.99" y="381.75" width="8.90" height="8.85" fill="#4332c9"/><rect x="183.59" y="381.75" width="8.90" height="8.85" fill="#4332c9"/><rect x="191.20" y="381.75" width="7.60" height="8.85" fill="#4332c9"/>
<rect x="16.30" y="389.30" width="8.90" height="8.85" fill="#249fe6"/><rect x="23.90" y="389.30" width="8.90" height="8.85" fill="#4230c4"/><rect x="31.51" y="389.30" width="8.90" height="8.85" fill="#422fc2"/><rect x="39.11" y="389.30" width="8.90" height="8.85" fill="#4331c8"/><rect x="46.72" y="389.30" width="8.90" height="8.85" fill="#4331c8"/><rect x="54.32" y="389.30" width="8.90" height="8.85" fill="#4330c5"/><rect x="61.92" y="389.30" width="8.90" height="8.85" fill="#4331c6"/><rect x="69.53" y="389.30" width="8.90" height="8.85" fill="#4230c3"/><rect x="77.13" y="389.30" width="8.90" height="8.85" fill="#02bac4"/><rect x="84.74" y="389.30" width="8.90" height="8.85" fill="#02bac4"/><rect x="92.34" y="389.30" width="8.90" height="8.85" fill="#02bac4"/><rect x="99.95" y="389.30" width="8.90" height="8.85" fill="#02bac4"/><rect x="107.55" y="389.30" width="8.90" height="8.85" fill="#02bac4"/><rect x="115.15" y="389.30" width="8.90" height="8.85" fill="#02bac4"/><rect x="122.76" y="389.30" width="8.90" height="8.85" fill="#f9fb15"/><rect x="130.36" y="389.30" width="8.90" height="8.85" fill="#02bac4"/><rect x="137.97" y="389.30" width="8.90" height="8.85" fill="#4230c3"/><rect x="145.57" y="389.30" width="8.90" height="8.85" fill="#422ebe"/><rect x="153.18" y="389.30" width="8.90" height="8.85" fill="#422fc0"/><rect x="160.78" y="389.30" width="8.90" height="8.85" fill="#422fc0"/><rect x="168.38" y="389.30" width="8.90" height="8.85" fill="#422fc1"/><rect x="175.99" y="389.30" width="8.90" height="8.85" fill="#422fc1"/><rect x="183.59" y="389.30" width="8.90" height="8.85" fill="#422fc0"/><rect x="191.20" y="389.30" width="7.60" height="8.85" fill="#422ebf"/>
<rect x="16.30" y="396.85" width="8.90" height="8.85" fill="#465ffb"/><rect x="23.90" y="396.85" width="8.90" height="8.85" fill="#416bfe"/><rect x="31.51" y="396.85" width="8.90" height="8.85" fill="#416bfe"/><rect x="39.11" y="396.85" width="8.90" height="8.85" fill="#416bfe"/><rect x="46.72" y="396.85" width="8.90" height="8.85" fill="#416bfe"/><rect x="54.32" y="396.85" width="8.90" height="8.85" fill="#416bfe"/><rect x="61.92" y="396.85" width="8.90" height="8.85" fill="#416bfe"/><rect x="69.53" y="396.85" width="8.90" height="8.85" fill="#416bfe"/><rect x="77.13" y="396.85" width="8.90" height="8.85" fill="#02bac4"/><rect x="84.74" y="396.85" width="8.90" height="8.85" fill="#02bac4"/><rect x="92.34" y="396.85" width="8.90" height="8.85" fill="#02bac4"/><rect x="99.95" y="396.85" width="8.90" height="8.85" fill="#02bac4"/><rect x="107.55" y="396.85" width="8.90" height="8.85" fill="#02bac4"/><rect x="115.15" y="396.85" width="8.90" height="8.85" fill="#02bac4"/><rect x="122.76" y="396.85" width="8.90" height="8.85" fill="#02bac4"/><rect x="130.36" y="396.85" width="8.90" height="8.85" fill="#f9fb15"/><rect x="137.97" y="396.85" width="8.90" height="8.85" fill="#473fe3"/><rect x="145.57" y="396.85" width="8.90" height="8.85" fill="#473fe3"/><rect x="153.18" y="396.85" width="8.90" height="8.85" fill="#473fe3"/><rect x="160.78" y="396.85" width="8.90" height="8.85" fill="#473fe3"/><rect x="168.38" y="396.85" width="8.90" height="8.85" fill="#473fe3"/><rect x="175.99" y="396.85" width="8.90" height="8.85" fill="#473fe3"/><rect x="183.59" y="396.85" width="8.90" height="8.85" fill="#473fe3"/><rect x="191.20" y="396.85" width="7.60" height="8.85" fill="#473fe3"/>
<rect x="16.30" y="404.40" width="8.90" height="8.85" fill="#422fc1"/><rect x="23.90" y="404.40" width="8.90" height="8.85" fill="#422fc2"/><rect x="31.51" y="404.40" width="8.90" height="8.85" fill="#4230c4"/><rect x="39.11" y="404.40" width="8.90" height="8.85" fill="#422ec0"/><rect x="46.72" y="404.40" width="8.90" height="8.85" fill="#422fc0"/><rect x="54.32" y="404.40" width="8.90" height="8.85" fill="#422fc0"/><rect x="61.92" y="404.40" width="8.90" height="8.85" fill="#422fc0"/><rect x="69.53" y="404.40" width="8.90" height="8.85" fill="#422fc1"/><rect x="77.13" y="404.40" width="8.90" height="8.85" fill="#4230c3"/><rect x="84.74" y="404.40" width="8.90" height="8.85" fill="#422fc1"/><rect x="92.34" y="404.40" width="8.90" height="8.85" fill="#422fc1"/><rect x="99.95" y="404.40" width="8.90" height="8.85" fill="#422fc2"/><rect x="107.55" y="404.40" width="8.90" height="8.85" fill="#412ebe"/><rect x="115.15" y="404.40" width="8.90" height="8.85" fill="#4332c9"/><rect x="122.76" y="404.40" width="8.90" height="8.85" fill="#4230c3"/><rect x="130.36" y="404.40" width="8.90" height="8.85" fill="#473fe3"/><rect x="137.97" y="404.40" width="8.90" height="8.85" fill="#f9fb15"/><rect x="145.57" y="404.40" width="8.90" height="8.85" fill="#1caadf"/><rect x="153.18" y="404.40" width="8.90" height="8.85" fill="#1caadf"/><rect x="160.78" y="404.40" width="8.90" height="8.85" fill="#33c69d"/><rect x="168.38" y="404.40" width="8.90" height="8.85" fill="#96ca48"/><rect x="175.99" y="404.40" width="8.90" height="8.85" fill="#1ac0b5"/><rect x="183.59" y="404.40" width="8.90" height="8.85" fill="#05b6ce"/><rect x="191.20" y="404.40" width="7.60" height="8.85" fill="#c1c32d"/>
<rect x="16.30" y="411.95" width="8.90" height="8.85" fill="#412ebe"/><rect x="23.90" y="411.95" width="8.90" height="8.85" fill="#412ebe"/><rect x="31.51" y="411.95" width="8.90" height="8.85" fill="#422fc0"/><rect x="39.11" y="411.95" width="8.90" height="8.85" fill="#422fc2"/><rect x="46.72" y="411.95" width="8.90" height="8.85" fill="#422fc2"/><rect x="54.32" y="411.95" width="8.90" height="8.85" fill="#422fc1"/><rect x="61.92" y="411.95" width="8.90" height="8.85" fill="#422ebf"/><rect x="69.53" y="411.95" width="8.90" height="8.85" fill="#422ebf"/><rect x="77.13" y="411.95" width="8.90" height="8.85" fill="#422fc2"/><rect x="84.74" y="411.95" width="8.90" height="8.85" fill="#422ebf"/><rect x="92.34" y="411.95" width="8.90" height="8.85" fill="#422fc1"/><rect x="99.95" y="411.95" width="8.90" height="8.85" fill="#412ebd"/><rect x="107.55" y="411.95" width="8.90" height="8.85" fill="#412ebe"/><rect x="115.15" y="411.95" width="8.90" height="8.85" fill="#4332c9"/><rect x="122.76" y="411.95" width="8.90" height="8.85" fill="#422ebe"/><rect x="130.36" y="411.95" width="8.90" height="8.85" fill="#473fe3"/><rect x="137.97" y="411.95" width="8.90" height="8.85" fill="#1caadf"/><rect x="145.57" y="411.95" width="8.90" height="8.85" fill="#f9fb15"/><rect x="153.18" y="411.95" width="8.90" height="8.85" fill="#7acc5d"/><rect x="160.78" y="411.95" width="8.90" height="8.85" fill="#1ac0b5"/><rect x="168.38" y="411.95" width="8.90" height="8.85" fill="#19addc"/><rect x="175.99" y="411.95" width="8.90" height="8.85" fill="#37c898"/><rect x="183.59" y="411.95" width="8.90" height="8.85" fill="#3bc992"/><rect x="191.20" y="411.95" width="7.60" height="8.85" fill="#1ea7e1"/>
<rect x="16.30" y="419.50" width="8.90" height="8.85" fill="#4230c3"/><rect x="23.90" y="419.50" width="8.90" height="8.85" fill="#422fc0"/><rect x="31.51" y="419.50" width="8.90" height="8.85" fill="#422fc1"/><rect x="39.11" y="419.50" width="8.90" height="8.85" fill="#422fc2"/><rect x="46.72" y="419.50" width="8.90" height="8.85" fill="#422fc1"/><rect x="54.32" y="419.50" width="8.90" height="8.85" fill="#422ebf"/><rect x="61.92" y="419.50" width="8.90" height="8.85" fill="#422fc1"/><rect x="69.53" y="419.50" width="8.90" height="8.85" fill="#422fc0"/><rect x="77.13" y="419.50" width="8.90" height="8.85" fill="#422fc1"/><rect x="84.74" y="419.50" width="8.90" height="8.85" fill="#422ebe"/><rect x="92.34" y="419.50" width="8.90" height="8.85" fill="#4230c3"/><rect x="99.95" y="419.50" width="8.90" height="8.85" fill="#4230c3"/><rect x="107.55" y="419.50" width="8.90" height="8.85" fill="#4230c3"/><rect x="115.15" y="419.50" width="8.90" height="8.85" fill="#4332c9"/><rect x="122.76" y="419.50" width="8.90" height="8.85" fill="#422fc0"/><rect x="130.36" y="419.50" width="8.90" height="8.85" fill="#473fe3"/><rect x="137.97" y="419.50" width="8.90" height="8.85" fill="#1caadf"/><rect x="145.57" y="419.50" width="8.90" height="8.85" fill="#7acc5d"/><rect x="153.18" y="419.50" width="8.90" height="8.85" fill="#f9fb15"/><rect x="160.78" y="419.50" width="8.90" height="8.85" fill="#33c69d"/><rect x="168.38" y="419.50" width="8.90" height="8.85" fill="#19addc"/><rect x="175.99" y="419.50" width="8.90" height="8.85" fill="#2cc4a7"/><rect x="183.59" y="419.50" width="8.90" height="8.85" fill="#50cc80"/><rect x="191.20" y="419.50" width="7.60" height="8.85" fill="#1ea7e1"/>
<rect x="16.30" y="427.05" width="8.90" height="8.85" fill="#422fc0"/><rect x="23.90" y="427.05" width="8.90" height="8.85" fill="#422ebf"/><rect x="31.51" y="427.05" width="8.90" height="8.85" fill="#422ebf"/><rect x="39.11" y="427.05" width="8.90" height="8.85" fill="#412dbd"/><rect x="46.72" y="427.05" width="8.90" height="8.85" fill="#422fc2"/><rect x="54.32" y="427.05" width="8.90" height="8.85" fill="#422ec0"/><rect x="61.92" y="427.05" width="8.90" height="8.85" fill="#412ebe"/><rect x="69.53" y="427.05" width="8.90" height="8.85" fill="#422fc1"/><rect x="77.13" y="427.05" width="8.90" height="8.85" fill="#422fc1"/><rect x="84.74" y="427.05" width="8.90" height="8.85" fill="#422ebf"/><rect x="92.34" y="427.05" width="8.90" height="8.85" fill="#4230c4"/><rect x="99.95" y="427.05" width="8.90" height="8.85" fill="#422fc1"/><rect x="107.55" y="427.05" width="8.90" height="8.85" fill="#4230c4"/><rect x="115.15" y="427.05" width="8.90" height="8.85" fill="#4332c9"/><rect x="122.76" y="427.05" width="8.90" height="8.85" fill="#422fc0"/><rect x="130.36" y="427.05" width="8.90" height="8.85" fill="#473fe3"/><rect x="137.97" y="427.05" width="8.90" height="8.85" fill="#33c69d"/><rect x="145.57" y="427.05" width="8.90" height="8.85" fill="#1ac0b5"/><rect x="153.18" y="427.05" width="8.90" height="8.85" fill="#33c69d"/><rect x="160.78" y="427.05" width="8.90" height="8.85" fill="#f9fb15"/><rect x="168.38" y="427.05" width="8.90" height="8.85" fill="#3bc992"/><rect x="175.99" y="427.05" width="8.90" height="8.85" fill="#04bbc2"/><rect x="183.59" y="427.05" width="8.90" height="8.85" fill="#04bbc2"/><rect x="191.20" y="427.05" width="7.60" height="8.85" fill="#33c69d"/>
<rect x="16.30" y="434.60" width="8.90" height="8.85" fill="#422ebf"/><rect x="23.90" y="434.60" width="8.90" height="8.85" fill="#422fc1"/><rect x="31.51" y="434.60" width="8.90" height="8.85" fill="#422ebf"/><rect x="39.11" y="434.60" width="8.90" height="8.85" fill="#422ebf"/><rect x="46.72" y="434.60" width="8.90" height="8.85" fill="#422ec0"/><rect x="54.32" y="434.60" width="8.90" height="8.85" fill="#422fc2"/><rect x="61.92" y="434.60" width="8.90" height="8.85" fill="#422fc2"/><rect x="69.53" y="434.60" width="8.90" height="8.85" fill="#422fc2"/><rect x="77.13" y="434.60" width="8.90" height="8.85" fill="#422ec0"/><rect x="84.74" y="434.60" width="8.90" height="8.85" fill="#422fc1"/><rect x="92.34" y="434.60" width="8.90" height="8.85" fill="#422fc3"/><rect x="99.95" y="434.60" width="8.90" height="8.85" fill="#422fc2"/><rect x="107.55" y="434.60" width="8.90" height="8.85" fill="#4230c4"/><rect x="115.15" y="434.60" width="8.90" height="8.85" fill="#4332c9"/><rect x="122.76" y="434.60" width="8.90" height="8.85" fill="#422fc1"/><rect x="130.36" y="434.60" width="8.90" height="8.85" fill="#473fe3"/><rect x="137.97" y="434.60" width="8.90" height="8.85" fill="#96ca48"/><rect x="145.57" y="434.60" width="8.90" height="8.85" fill="#19addc"/><rect x="153.18" y="434.60" width="8.90" height="8.85" fill="#19addc"/><rect x="160.78" y="434.60" width="8.90" height="8.85" fill="#3bc992"/><rect x="168.38" y="434.60" width="8.90" height="8.85" fill="#f9fb15"/><rect x="175.99" y="434.60" width="8.90" height="8.85" fill="#15afd9"/><rect x="183.59" y="434.60" width="8.90" height="8.85" fill="#1ea7e1"/><rect x="191.20" y="434.60" width="7.60" height="8.85" fill="#96ca48"/>
<rect x="16.30" y="442.15" width="8.90" height="8.85" fill="#422ebe"/><rect x="23.90" y="442.15" width="8.90" height="8.85" fill="#422ebf"/><rect x="31.51" y="442.15" width="8.90" height="8.85" fill="#422ebf"/><rect x="39.11" y="442.15" width="8.90" height="8.85" fill="#422fc1"/><rect x="46.72" y="442.15" width="8.90" height="8.85" fill="#4230c3"/><rect x="54.32" y="442.15" width="8.90" height="8.85" fill="#412dbd"/><rect x="61.92" y="442.15" width="8.90" height="8.85" fill="#4230c3"/><rect x="69.53" y="442.15" width="8.90" height="8.85" fill="#422ebf"/><rect x="77.13" y="442.15" width="8.90" height="8.85" fill="#422fc2"/><rect x="84.74" y="442.15" width="8.90" height="8.85" fill="#422ebf"/><rect x="92.34" y="442.15" width="8.90" height="8.85" fill="#4230c3"/><rect x="99.95" y="442.15" width="8.90" height="8.85" fill="#4230c3"/><rect x="107.55" y="442.15" width="8.90" height="8.85" fill="#412ebe"/><rect x="115.15" y="442.15" width="8.90" height="8.85" fill="#4332c9"/><rect x="122.76" y="442.15" width="8.90" height="8.85" fill="#422fc1"/><rect x="130.36" y="442.15" width="8.90" height="8.85" fill="#473fe3"/><rect x="137.97" y="442.15" width="8.90" height="8.85" fill="#1ac0b5"/><rect x="145.57" y="442.15" width="8.90" height="8.85" fill="#37c898"/><rect x="153.18" y="442.15" width="8.90" height="8.85" fill="#2cc4a7"/><rect x="160.78" y="442.15" width="8.90" height="8.85" fill="#04bbc2"/><rect x="168.38" y="442.15" width="8.90" height="8.85" fill="#15afd9"/><rect x="175.99" y="442.15" width="8.90" height="8.85" fill="#f9fb15"/><rect x="183.59" y="442.15" width="8.90" height="8.85" fill="#84cc56"/><rect x="191.20" y="442.15" width="7.60" height="8.85" fill="#1ac0b5"/>
<rect x="16.30" y="449.70" width="8.90" height="8.85" fill="#422fc0"/><rect x="23.90" y="449.70" width="8.90" height="8.85" fill="#422ebf"/><rect x="31.51" y="449.70" width="8.90" height="8.85" fill="#422fc1"/><rect x="39.11" y="449.70" width="8.90" height="8.85" fill="#422fc1"/><rect x="46.72" y="449.70" width="8.90" height="8.85" fill="#422fc2"/><rect x="54.32" y="449.70" width="8.90" height="8.85" fill="#4230c3"/><rect x="61.92" y="449.70" width="8.90" height="8.85" fill="#422fc2"/><rect x="69.53" y="449.70" width="8.90" height="8.85" fill="#422fc2"/><rect x="77.13" y="449.70" width="8.90" height="8.85" fill="#422fc2"/><rect x="84.74" y="449.70" width="8.90" height="8.85" fill="#412ebd"/><rect x="92.34" y="449.70" width="8.90" height="8.85" fill="#422fc1"/><rect x="99.95" y="449.70" width="8.90" height="8.85" fill="#422fc2"/><rect x="107.55" y="449.70" width="8.90" height="8.85" fill="#422fc1"/><rect x="115.15" y="449.70" width="8.90" height="8.85" fill="#4332c9"/><rect x="122.76" y="449.70" width="8.90" height="8.85" fill="#422fc0"/><rect x="130.36" y="449.70" width="8.90" height="8.85" fill="#473fe3"/><rect x="137.97" y="449.70" width="8.90" height="8.85" fill="#05b6ce"/><rect x="145.57" y="449.70" width="8.90" height="8.85" fill="#3bc992"/><rect x="153.18" y="449.70" width="8.90" height="8.85" fill="#50cc80"/><rect x="160.78" y="449.70" width="8.90" height="8.85" fill="#04bbc2"/><rect x="168.38" y="449.70" width="8.90" height="8.85" fill="#1ea7e1"/><rect x="175.99" y="449.70" width="8.90" height="8.85" fill="#84cc56"/><rect x="183.59" y="449.70" width="8.90" height="8.85" fill="#f9fb15"/><rect x="191.20" y="449.70" width="7.60" height="8.85" fill="#1ac0b5"/>
<rect x="16.30" y="457.25" width="8.90" height="7.55" fill="#422fc0"/><rect x="23.90" y="457.25" width="8.90" height="7.55" fill="#422fc1"/><rect x="31.51" y="457.25" width="8.90" height="7.55" fill="#422ec0"/><rect x="39.11" y="457.25" width="8.90" height="7.55" fill="#422ec0"/><rect x="46.72" y="457.25" width="8.90" height="7.55" fill="#422fc1"/><rect x="54.32" y="457.25" width="8.90" height="7.55" fill="#4230c3"/><rect x="61.92" y="457.25" width="8.90" height="7.55" fill="#422fc0"/><rect x="69.53" y="457.25" width="8.90" height="7.55" fill="#412ebe"/><rect x="77.13" y="457.25" width="8.90" height="7.55" fill="#422fc1"/><rect x="84.74" y="457.25" width="8.90" height="7.55" fill="#422fc1"/><rect x="92.34" y="457.25" width="8.90" height="7.55" fill="#422fc0"/><rect x="99.95" y="457.25" width="8.90" height="7.55" fill="#412dbd"/><rect x="107.55" y="457.25" width="8.90" height="7.55" fill="#422ebf"/><rect x="115.15" y="457.25" width="8.90" height="7.55" fill="#4332c9"/><rect x="122.76" y="457.25" width="8.90" height="7.55" fill="#422ebf"/><rect x="130.36" y="457.25" width="8.90" height="7.55" fill="#473fe3"/><rect x="137.97" y="457.25" width="8.90" height="7.55" fill="#c1c32d"/><rect x="145.57" y="457.25" width="8.90" height="7.55" fill="#1ea7e1"/><rect x="153.18" y="457.25" width="8.90" height="7.55" fill="#1ea7e1"/><rect x="160.78" y="457.25" width="8.90" height="7.55" fill="#33c69d"/><rect x="168.38" y="457.25" width="8.90" height="7.55" fill="#96ca48"/><rect x="175.99" y="457.25" width="8.90" height="7.55" fill="#1ac0b5"/><rect x="183.59" y="457.25" width="8.90" height="7.55" fill="#1ac0b5"/><rect x="191.20" y="457.25" width="7.60" height="7.55" fill="#f9fb15"/>
<rect x="16.3" y="283.6" width="182.50" height="181.20" fill="none" stroke="#262626" stroke-opacity="0.35" stroke-width="0.5"/>
<path d="M20.10 464.80v-1.8M20.10 283.60v1.8M16.30 287.38h1.8M198.80 287.38h-1.8M27.71 464.80v-1.8M27.71 283.60v1.8M16.30 294.93h1.8M198.80 294.93h-1.8M35.31 464.80v-1.8M35.31 283.60v1.8M16.30 302.48h1.8M198.80 302.48h-1.8M42.91 464.80v-1.8M42.91 283.60v1.8M16.30 310.03h1.8M198.80 310.03h-1.8M50.52 464.80v-1.8M50.52 283.60v1.8M16.30 317.58h1.8M198.80 317.58h-1.8M58.12 464.80v-1.8M58.12 283.60v1.8M16.30 325.12h1.8M198.80 325.12h-1.8M65.73 464.80v-1.8M65.73 283.60v1.8M16.30 332.68h1.8M198.80 332.68h-1.8M73.33 464.80v-1.8M73.33 283.60v1.8M16.30 340.23h1.8M198.80 340.23h-1.8M80.94 464.80v-1.8M80.94 283.60v1.8M16.30 347.78h1.8M198.80 347.78h-1.8M88.54 464.80v-1.8M88.54 283.60v1.8M16.30 355.33h1.8M198.80 355.33h-1.8M96.14 464.80v-1.8M96.14 283.60v1.8M16.30 362.88h1.8M198.80 362.88h-1.8M103.75 464.80v-1.8M103.75 283.60v1.8M16.30 370.43h1.8M198.80 370.43h-1.8M111.35 464.80v-1.8M111.35 283.60v1.8M16.30 377.98h1.8M198.80 377.98h-1.8M118.96 464.80v-1.8M118.96 283.60v1.8M16.30 385.53h1.8M198.80 385.53h-1.8M126.56 464.80v-1.8M126.56 283.60v1.8M16.30 393.08h1.8M198.80 393.08h-1.8M134.16 464.80v-1.8M134.16 283.60v1.8M16.30 400.62h1.8M198.80 400.62h-1.8M141.77 464.80v-1.8M141.77 283.60v1.8M16.30 408.18h1.8M198.80 408.18h-1.8M149.37 464.80v-1.8M149.37 283.60v1.8M16.30 415.73h1.8M198.80 415.73h-1.8M156.98 464.80v-1.8M156.98 283.60v1.8M16.30 423.27h1.8M198.80 423.27h-1.8M164.58 464.80v-1.8M164.58 283.60v1.8M16.30 430.83h1.8M198.80 430.83h-1.8M172.19 464.80v-1.8M172.19 283.60v1.8M16.30 438.38h1.8M198.80 438.38h-1.8M179.79 464.80v-1.8M179.79 283.60v1.8M16.30 445.93h1.8M198.80 445.93h-1.8M187.39 464.80v-1.8M187.39 283.60v1.8M16.30 453.48h1.8M198.80 453.48h-1.8M195.00 464.80v-1.8M195.00 283.60v1.8M16.30 461.02h1.8M198.80 461.02h-1.8" stroke="#262626" stroke-opacity="0.35" stroke-width="0.5" fill="none"/>
<text class="t" x="109.5" y="279.3">absCPCC</text>
<text class="a" text-anchor="end" x="13.4" y="290.7">1</text><text class="a" text-anchor="end" x="13.4" y="298.2">2</text><text class="a" text-anchor="end" x="13.4" y="305.8">3</text><text class="a" text-anchor="end" x="13.4" y="313.3">4</text><text class="a" text-anchor="end" x="13.4" y="320.9">5</text><text class="a" text-anchor="end" x="13.4" y="328.4">6</text><text class="a" text-anchor="end" x="13.4" y="336.0">7</text><text class="a" text-anchor="end" x="13.4" y="343.5">8</text><text class="a" text-anchor="end" x="13.4" y="351.1">9</text><text class="a" text-anchor="end" x="13.4" y="358.6">10</text><text class="a" text-anchor="end" x="13.4" y="366.2">11</text><text class="a" text-anchor="end" x="13.4" y="373.7">12</text><text class="a" text-anchor="end" x="13.4" y="381.3">13</text><text class="a" text-anchor="end" x="13.4" y="388.8">14</text><text class="a" text-anchor="end" x="13.4" y="396.4">15</text><text class="a" text-anchor="end" x="13.4" y="403.9">16</text><text class="a" text-anchor="end" x="13.4" y="411.5">17</text><text class="a" text-anchor="end" x="13.4" y="419.0">18</text><text class="a" text-anchor="end" x="13.4" y="426.6">19</text><text class="a" text-anchor="end" x="13.4" y="434.1">20</text><text class="a" text-anchor="end" x="13.4" y="441.7">21</text><text class="a" text-anchor="end" x="13.4" y="449.2">22</text><text class="a" text-anchor="end" x="13.4" y="456.8">23</text><text class="a" text-anchor="end" x="13.4" y="464.3">24</text>
<text class="a" text-anchor="end" transform="translate(23.6,468.8) rotate(-90)">1</text><text class="a" text-anchor="end" transform="translate(31.2,468.8) rotate(-90)">2</text><text class="a" text-anchor="end" transform="translate(38.8,468.8) rotate(-90)">3</text><text class="a" text-anchor="end" transform="translate(46.4,468.8) rotate(-90)">4</text><text class="a" text-anchor="end" transform="translate(54.0,468.8) rotate(-90)">5</text><text class="a" text-anchor="end" transform="translate(61.6,468.8) rotate(-90)">6</text><text class="a" text-anchor="end" transform="translate(69.2,468.8) rotate(-90)">7</text><text class="a" text-anchor="end" transform="translate(76.8,468.8) rotate(-90)">8</text><text class="a" text-anchor="end" transform="translate(84.4,468.8) rotate(-90)">9</text><text class="a" text-anchor="end" transform="translate(92.0,468.8) rotate(-90)">10</text><text class="a" text-anchor="end" transform="translate(99.6,468.8) rotate(-90)">11</text><text class="a" text-anchor="end" transform="translate(107.2,468.8) rotate(-90)">12</text><text class="a" text-anchor="end" transform="translate(114.9,468.8) rotate(-90)">13</text><text class="a" text-anchor="end" transform="translate(122.5,468.8) rotate(-90)">14</text><text class="a" text-anchor="end" transform="translate(130.1,468.8) rotate(-90)">15</text><text class="a" text-anchor="end" transform="translate(137.7,468.8) rotate(-90)">16</text><text class="a" text-anchor="end" transform="translate(145.3,468.8) rotate(-90)">17</text><text class="a" text-anchor="end" transform="translate(152.9,468.8) rotate(-90)">18</text><text class="a" text-anchor="end" transform="translate(160.5,468.8) rotate(-90)">19</text><text class="a" text-anchor="end" transform="translate(168.1,468.8) rotate(-90)">20</text><text class="a" text-anchor="end" transform="translate(175.7,468.8) rotate(-90)">21</text><text class="a" text-anchor="end" transform="translate(183.3,468.8) rotate(-90)">22</text><text class="a" text-anchor="end" transform="translate(190.9,468.8) rotate(-90)">23</text><text class="a" text-anchor="end" transform="translate(198.5,468.8) rotate(-90)">24</text>
<rect x="205.9" y="283.6" width="11.1" height="181.20" fill="url(#pg)"/>
<rect x="205.9" y="283.6" width="11.1" height="181.20" fill="none" stroke="#262626" stroke-opacity="0.3" stroke-width="0.5"/>
<path d="M217.00 283.60h-1.6M205.90 283.60h1.6" stroke="#262626" stroke-opacity="0.45" stroke-width="0.5"/><text class="c" x="221.8" y="288.7">1</text><path d="M217.00 319.84h-1.6M205.90 319.84h1.6" stroke="#262626" stroke-opacity="0.45" stroke-width="0.5"/><text class="c" x="221.8" y="324.9">0.8</text><path d="M217.00 356.08h-1.6M205.90 356.08h1.6" stroke="#262626" stroke-opacity="0.45" stroke-width="0.5"/><text class="c" x="221.8" y="361.2">0.6</text><path d="M217.00 392.32h-1.6M205.90 392.32h1.6" stroke="#262626" stroke-opacity="0.45" stroke-width="0.5"/><text class="c" x="221.8" y="397.4">0.4</text><path d="M217.00 428.56h-1.6M205.90 428.56h1.6" stroke="#262626" stroke-opacity="0.45" stroke-width="0.5"/><text class="c" x="221.8" y="433.7">0.2</text>
<text class="cap" x="87.2" y="519.8">(<tspan font-weight="bold">c</tspan>)</text>
</g>
<g>
<rect x="323.2" y="283.6" width="182.20" height="181.20" fill="#4433cc"/>
<rect x="323.20" y="283.60" width="8.89" height="8.85" fill="#402bb7"/><rect x="330.79" y="283.60" width="8.89" height="8.85" fill="#2d8cf3"/><rect x="338.38" y="283.60" width="8.89" height="8.85" fill="#3876fe"/><rect x="345.97" y="283.60" width="8.89" height="8.85" fill="#f6e028"/><rect x="353.57" y="283.60" width="8.89" height="8.85" fill="#12beb9"/><rect x="361.16" y="283.60" width="8.89" height="8.85" fill="#f9d82c"/><rect x="368.75" y="283.60" width="8.89" height="8.85" fill="#f9d82c"/><rect x="376.34" y="283.60" width="8.89" height="8.85" fill="#3bc992"/><rect x="383.93" y="283.60" width="8.89" height="8.85" fill="#4434cf"/><rect x="391.52" y="283.60" width="8.89" height="8.85" fill="#4538d7"/><rect x="399.12" y="283.60" width="8.89" height="8.85" fill="#4433cc"/><rect x="406.71" y="283.60" width="8.89" height="8.85" fill="#463adb"/><rect x="414.30" y="283.60" width="8.89" height="8.85" fill="#4747eb"/><rect x="421.89" y="283.60" width="8.89" height="8.85" fill="#4639d9"/><rect x="429.48" y="283.60" width="8.89" height="8.85" fill="#3f6eff"/><rect x="437.07" y="283.60" width="8.89" height="8.85" fill="#01b8ca"/><rect x="444.67" y="283.60" width="8.89" height="8.85" fill="#4433cb"/><rect x="452.26" y="283.60" width="8.89" height="8.85" fill="#4433cd"/><rect x="459.85" y="283.60" width="8.89" height="8.85" fill="#4331c8"/><rect x="467.44" y="283.60" width="8.89" height="8.85" fill="#4332ca"/><rect x="475.03" y="283.60" width="8.89" height="8.85" fill="#4432cb"/><rect x="482.62" y="283.60" width="8.89" height="8.85" fill="#4433cc"/><rect x="490.22" y="283.60" width="8.89" height="8.85" fill="#4434ce"/><rect x="497.81" y="283.60" width="7.59" height="8.85" fill="#4331c7"/>
<rect x="323.20" y="291.15" width="8.89" height="8.85" fill="#2d8cf3"/><rect x="330.79" y="291.15" width="8.89" height="8.85" fill="#402bb7"/><rect x="338.38" y="291.15" width="8.89" height="8.85" fill="#04bbc2"/><rect x="345.97" y="291.15" width="8.89" height="8.85" fill="#f5ec22"/><rect x="353.57" y="291.15" width="8.89" height="8.85" fill="#8dcb4f"/><rect x="361.16" y="291.15" width="8.89" height="8.85" fill="#f5e427"/><rect x="368.75" y="291.15" width="8.89" height="8.85" fill="#f5ba3a"/><rect x="376.34" y="291.15" width="8.89" height="8.85" fill="#259ce7"/><rect x="383.93" y="291.15" width="8.89" height="8.85" fill="#4434cf"/><rect x="391.52" y="291.15" width="8.89" height="8.85" fill="#4538d7"/><rect x="399.12" y="291.15" width="8.89" height="8.85" fill="#4434ce"/><rect x="406.71" y="291.15" width="8.89" height="8.85" fill="#2a92ee"/><rect x="414.30" y="291.15" width="8.89" height="8.85" fill="#4434d0"/><rect x="421.89" y="291.15" width="8.89" height="8.85" fill="#4332c9"/><rect x="429.48" y="291.15" width="8.89" height="8.85" fill="#463adb"/><rect x="437.07" y="291.15" width="8.89" height="8.85" fill="#0abdbd"/><rect x="444.67" y="291.15" width="8.89" height="8.85" fill="#4433cc"/><rect x="452.26" y="291.15" width="8.89" height="8.85" fill="#4332c8"/><rect x="459.85" y="291.15" width="8.89" height="8.85" fill="#4332ca"/><rect x="467.44" y="291.15" width="8.89" height="8.85" fill="#4331c6"/><rect x="475.03" y="291.15" width="8.89" height="8.85" fill="#4230c3"/><rect x="482.62" y="291.15" width="8.89" height="8.85" fill="#4331c6"/><rect x="490.22" y="291.15" width="8.89" height="8.85" fill="#4330c4"/><rect x="497.81" y="291.15" width="7.59" height="8.85" fill="#4434ce"/>
<rect x="323.20" y="298.70" width="8.89" height="8.85" fill="#3876fe"/><rect x="330.79" y="298.70" width="8.89" height="8.85" fill="#04bbc2"/><rect x="338.38" y="298.70" width="8.89" height="8.85" fill="#402bb7"/><rect x="345.97" y="298.70" width="8.89" height="8.85" fill="#fad42e"/><rect x="353.57" y="298.70" width="8.89" height="8.85" fill="#259ce7"/><rect x="361.16" y="298.70" width="8.89" height="8.85" fill="#fec437"/><rect x="368.75" y="298.70" width="8.89" height="8.85" fill="#f5ec22"/><rect x="376.34" y="298.70" width="8.89" height="8.85" fill="#84cc56"/><rect x="383.93" y="298.70" width="8.89" height="8.85" fill="#4332c9"/><rect x="391.52" y="298.70" width="8.89" height="8.85" fill="#4747eb"/><rect x="399.12" y="298.70" width="8.89" height="8.85" fill="#4639d9"/><rect x="406.71" y="298.70" width="8.89" height="8.85" fill="#4332cb"/><rect x="414.30" y="298.70" width="8.89" height="8.85" fill="#4743e7"/><rect x="421.89" y="298.70" width="8.89" height="8.85" fill="#4536d3"/><rect x="429.48" y="298.70" width="8.89" height="8.85" fill="#4432cb"/><rect x="437.07" y="298.70" width="8.89" height="8.85" fill="#01b8ca"/><rect x="444.67" y="298.70" width="8.89" height="8.85" fill="#4332c9"/><rect x="452.26" y="298.70" width="8.89" height="8.85" fill="#4433cd"/><rect x="459.85" y="298.70" width="8.89" height="8.85" fill="#4433cb"/><rect x="467.44" y="298.70" width="8.89" height="8.85" fill="#4433cd"/><rect x="475.03" y="298.70" width="8.89" height="8.85" fill="#4332cb"/><rect x="482.62" y="298.70" width="8.89" height="8.85" fill="#4331c8"/><rect x="490.22" y="298.70" width="8.89" height="8.85" fill="#4331c7"/><rect x="497.81" y="298.70" width="7.59" height="8.85" fill="#4433cb"/>
<rect x="323.20" y="306.25" width="8.89" height="8.85" fill="#f6e028"/><rect x="330.79" y="306.25" width="8.89" height="8.85" fill="#f5ec22"/><rect x="338.38" y="306.25" width="8.89" height="8.85" fill="#fad42e"/><rect x="345.97" y="306.25" width="8.89" height="8.85" fill="#402bb7"/><rect x="353.57" y="306.25" width="8.89" height="8.85" fill="#b0c636"/><rect x="361.16" y="306.25" width="8.89" height="8.85" fill="#4539d9"/><rect x="368.75" y="306.25" width="8.89" height="8.85" fill="#48cb86"/><rect x="376.34" y="306.25" width="8.89" height="8.85" fill="#f5e427"/><rect x="383.93" y="306.25" width="8.89" height="8.85" fill="#463adb"/><rect x="391.52" y="306.25" width="8.89" height="8.85" fill="#4538d7"/><rect x="399.12" y="306.25" width="8.89" height="8.85" fill="#4536d5"/><rect x="406.71" y="306.25" width="8.89" height="8.85" fill="#4433cc"/><rect x="414.30" y="306.25" width="8.89" height="8.85" fill="#4536d4"/><rect x="421.89" y="306.25" width="8.89" height="8.85" fill="#463ada"/><rect x="429.48" y="306.25" width="8.89" height="8.85" fill="#422ebe"/><rect x="437.07" y="306.25" width="8.89" height="8.85" fill="#4536d3"/><rect x="444.67" y="306.25" width="8.89" height="8.85" fill="#4332c9"/><rect x="452.26" y="306.25" width="8.89" height="8.85" fill="#4332c9"/><rect x="459.85" y="306.25" width="8.89" height="8.85" fill="#4433cb"/><rect x="467.44" y="306.25" width="8.89" height="8.85" fill="#4330c5"/><rect x="475.03" y="306.25" width="8.89" height="8.85" fill="#4332c9"/><rect x="482.62" y="306.25" width="8.89" height="8.85" fill="#4330c4"/><rect x="490.22" y="306.25" width="8.89" height="8.85" fill="#4331c8"/><rect x="497.81" y="306.25" width="7.59" height="8.85" fill="#4332c9"/>
<rect x="323.20" y="313.80" width="8.89" height="8.85" fill="#12beb9"/><rect x="330.79" y="313.80" width="8.89" height="8.85" fill="#8dcb4f"/><rect x="338.38" y="313.80" width="8.89" height="8.85" fill="#259ce7"/><rect x="345.97" y="313.80" width="8.89" height="8.85" fill="#b0c636"/><rect x="353.57" y="313.80" width="8.89" height="8.85" fill="#402bb7"/><rect x="361.16" y="313.80" width="8.89" height="8.85" fill="#48cb86"/><rect x="368.75" y="313.80" width="8.89" height="8.85" fill="#f5e825"/><rect x="376.34" y="313.80" width="8.89" height="8.85" fill="#fcd030"/><rect x="383.93" y="313.80" width="8.89" height="8.85" fill="#4537d6"/><rect x="391.52" y="313.80" width="8.89" height="8.85" fill="#4538d7"/><rect x="399.12" y="313.80" width="8.89" height="8.85" fill="#4332c9"/><rect x="406.71" y="313.80" width="8.89" height="8.85" fill="#4367fd"/><rect x="414.30" y="313.80" width="8.89" height="8.85" fill="#422ebe"/><rect x="421.89" y="313.80" width="8.89" height="8.85" fill="#422ebe"/><rect x="429.48" y="313.80" width="8.89" height="8.85" fill="#4539d9"/><rect x="437.07" y="313.80" width="8.89" height="8.85" fill="#22a1e4"/><rect x="444.67" y="313.80" width="8.89" height="8.85" fill="#4331c6"/><rect x="452.26" y="313.80" width="8.89" height="8.85" fill="#4332ca"/><rect x="459.85" y="313.80" width="8.89" height="8.85" fill="#4332c8"/><rect x="467.44" y="313.80" width="8.89" height="8.85" fill="#4230c4"/><rect x="475.03" y="313.80" width="8.89" height="8.85" fill="#4331c6"/><rect x="482.62" y="313.80" width="8.89" height="8.85" fill="#4434cd"/><rect x="490.22" y="313.80" width="8.89" height="8.85" fill="#4433cc"/><rect x="497.81" y="313.80" width="7.59" height="8.85" fill="#4330c5"/>
<rect x="323.20" y="321.35" width="8.89" height="8.85" fill="#f9d82c"/><rect x="330.79" y="321.35" width="8.89" height="8.85" fill="#f5e427"/><rect x="338.38" y="321.35" width="8.89" height="8.85" fill="#fec437"/><rect x="345.97" y="321.35" width="8.89" height="8.85" fill="#4539d9"/><rect x="353.57" y="321.35" width="8.89" height="8.85" fill="#48cb86"/><rect x="361.16" y="321.35" width="8.89" height="8.85" fill="#402bb7"/><rect x="368.75" y="321.35" width="8.89" height="8.85" fill="#84cc56"/><rect x="376.34" y="321.35" width="8.89" height="8.85" fill="#f5e427"/><rect x="383.93" y="321.35" width="8.89" height="8.85" fill="#4536d5"/><rect x="391.52" y="321.35" width="8.89" height="8.85" fill="#4535d2"/><rect x="399.12" y="321.35" width="8.89" height="8.85" fill="#4538d7"/><rect x="406.71" y="321.35" width="8.89" height="8.85" fill="#422ebe"/><rect x="414.30" y="321.35" width="8.89" height="8.85" fill="#422ebe"/><rect x="421.89" y="321.35" width="8.89" height="8.85" fill="#475cfa"/><rect x="429.48" y="321.35" width="8.89" height="8.85" fill="#422ebe"/><rect x="437.07" y="321.35" width="8.89" height="8.85" fill="#4536d3"/><rect x="444.67" y="321.35" width="8.89" height="8.85" fill="#4331c8"/><rect x="452.26" y="321.35" width="8.89" height="8.85" fill="#4331c8"/><rect x="459.85" y="321.35" width="8.89" height="8.85" fill="#4332c9"/><rect x="467.44" y="321.35" width="8.89" height="8.85" fill="#4433cc"/><rect x="475.03" y="321.35" width="8.89" height="8.85" fill="#4331c8"/><rect x="482.62" y="321.35" width="8.89" height="8.85" fill="#4434ce"/><rect x="490.22" y="321.35" width="8.89" height="8.85" fill="#4332c9"/><rect x="497.81" y="321.35" width="7.59" height="8.85" fill="#4433cc"/>
<rect x="323.20" y="328.90" width="8.89" height="8.85" fill="#f9d82c"/><rect x="330.79" y="328.90" width="8.89" height="8.85" fill="#f5ba3a"/><rect x="338.38" y="328.90" width="8.89" height="8.85" fill="#f5ec22"/><rect x="345.97" y="328.90" width="8.89" height="8.85" fill="#48cb86"/><rect x="353.57" y="328.90" width="8.89" height="8.85" fill="#f5e825"/><rect x="361.16" y="328.90" width="8.89" height="8.85" fill="#84cc56"/><rect x="368.75" y="328.90" width="8.89" height="8.85" fill="#402bb7"/><rect x="376.34" y="328.90" width="8.89" height="8.85" fill="#3bc992"/><rect x="383.93" y="328.90" width="8.89" height="8.85" fill="#4435d0"/><rect x="391.52" y="328.90" width="8.89" height="8.85" fill="#4743e7"/><rect x="399.12" y="328.90" width="8.89" height="8.85" fill="#4743e7"/><rect x="406.71" y="328.90" width="8.89" height="8.85" fill="#4536d2"/><rect x="414.30" y="328.90" width="8.89" height="8.85" fill="#4747eb"/><rect x="421.89" y="328.90" width="8.89" height="8.85" fill="#4747eb"/><rect x="429.48" y="328.90" width="8.89" height="8.85" fill="#4747eb"/><rect x="437.07" y="328.90" width="8.89" height="8.85" fill="#20a4e3"/><rect x="444.67" y="328.90" width="8.89" height="8.85" fill="#4331c8"/><rect x="452.26" y="328.90" width="8.89" height="8.85" fill="#4331c8"/><rect x="459.85" y="328.90" width="8.89" height="8.85" fill="#4331c7"/><rect x="467.44" y="328.90" width="8.89" height="8.85" fill="#4433cd"/><rect x="475.03" y="328.90" width="8.89" height="8.85" fill="#4433cc"/><rect x="482.62" y="328.90" width="8.89" height="8.85" fill="#4230c3"/><rect x="490.22" y="328.90" width="8.89" height="8.85" fill="#4330c5"/><rect x="497.81" y="328.90" width="7.59" height="8.85" fill="#4332c9"/>
<rect x="323.20" y="336.45" width="8.89" height="8.85" fill="#3bc992"/><rect x="330.79" y="336.45" width="8.89" height="8.85" fill="#259ce7"/><rect x="338.38" y="336.45" width="8.89" height="8.85" fill="#84cc56"/><rect x="345.97" y="336.45" width="8.89" height="8.85" fill="#f5e427"/><rect x="353.57" y="336.45" width="8.89" height="8.85" fill="#fcd030"/><rect x="361.16" y="336.45" width="8.89" height="8.85" fill="#f5e427"/><rect x="368.75" y="336.45" width="8.89" height="8.85" fill="#3bc992"/><rect x="376.34" y="336.45" width="8.89" height="8.85" fill="#402bb7"/><rect x="383.93" y="336.45" width="8.89" height="8.85" fill="#4535d2"/><rect x="391.52" y="336.45" width="8.89" height="8.85" fill="#473fe3"/><rect x="399.12" y="336.45" width="8.89" height="8.85" fill="#4434cf"/><rect x="406.71" y="336.45" width="8.89" height="8.85" fill="#463ada"/><rect x="414.30" y="336.45" width="8.89" height="8.85" fill="#463adb"/><rect x="421.89" y="336.45" width="8.89" height="8.85" fill="#4537d5"/><rect x="429.48" y="336.45" width="8.89" height="8.85" fill="#4434ce"/><rect x="437.07" y="336.45" width="8.89" height="8.85" fill="#01b8ca"/><rect x="444.67" y="336.45" width="8.89" height="8.85" fill="#4330c5"/><rect x="452.26" y="336.45" width="8.89" height="8.85" fill="#4331c6"/><rect x="459.85" y="336.45" width="8.89" height="8.85" fill="#4230c3"/><rect x="467.44" y="336.45" width="8.89" height="8.85" fill="#4230c4"/><rect x="475.03" y="336.45" width="8.89" height="8.85" fill="#4331c6"/><rect x="482.62" y="336.45" width="8.89" height="8.85" fill="#4332ca"/><rect x="490.22" y="336.45" width="8.89" height="8.85" fill="#4433cc"/><rect x="497.81" y="336.45" width="7.59" height="8.85" fill="#4330c5"/>
<rect x="323.20" y="344.00" width="8.89" height="8.85" fill="#4434cf"/><rect x="330.79" y="344.00" width="8.89" height="8.85" fill="#4434cf"/><rect x="338.38" y="344.00" width="8.89" height="8.85" fill="#4332c9"/><rect x="345.97" y="344.00" width="8.89" height="8.85" fill="#463adb"/><rect x="353.57" y="344.00" width="8.89" height="8.85" fill="#4537d6"/><rect x="361.16" y="344.00" width="8.89" height="8.85" fill="#4536d5"/><rect x="368.75" y="344.00" width="8.89" height="8.85" fill="#4435d0"/><rect x="376.34" y="344.00" width="8.89" height="8.85" fill="#4535d2"/><rect x="383.93" y="344.00" width="8.89" height="8.85" fill="#402bb7"/><rect x="391.52" y="344.00" width="8.89" height="8.85" fill="#58cc79"/><rect x="399.12" y="344.00" width="8.89" height="8.85" fill="#2fc5a2"/><rect x="406.71" y="344.00" width="8.89" height="8.85" fill="#4433cc"/><rect x="414.30" y="344.00" width="8.89" height="8.85" fill="#58cc79"/><rect x="421.89" y="344.00" width="8.89" height="8.85" fill="#fec13a"/><rect x="429.48" y="344.00" width="8.89" height="8.85" fill="#f7dc2a"/><rect x="437.07" y="344.00" width="8.89" height="8.85" fill="#12beb9"/><rect x="444.67" y="344.00" width="8.89" height="8.85" fill="#4331c6"/><rect x="452.26" y="344.00" width="8.89" height="8.85" fill="#4332ca"/><rect x="459.85" y="344.00" width="8.89" height="8.85" fill="#4331c8"/><rect x="467.44" y="344.00" width="8.89" height="8.85" fill="#4330c5"/><rect x="475.03" y="344.00" width="8.89" height="8.85" fill="#4331c6"/><rect x="482.62" y="344.00" width="8.89" height="8.85" fill="#4433cd"/><rect x="490.22" y="344.00" width="8.89" height="8.85" fill="#4330c5"/><rect x="497.81" y="344.00" width="7.59" height="8.85" fill="#4330c5"/>
<rect x="323.20" y="351.55" width="8.89" height="8.85" fill="#4538d7"/><rect x="330.79" y="351.55" width="8.89" height="8.85" fill="#4538d7"/><rect x="338.38" y="351.55" width="8.89" height="8.85" fill="#4747eb"/><rect x="345.97" y="351.55" width="8.89" height="8.85" fill="#4538d7"/><rect x="353.57" y="351.55" width="8.89" height="8.85" fill="#4538d7"/><rect x="361.16" y="351.55" width="8.89" height="8.85" fill="#4535d2"/><rect x="368.75" y="351.55" width="8.89" height="8.85" fill="#4743e7"/><rect x="376.34" y="351.55" width="8.89" height="8.85" fill="#473fe3"/><rect x="383.93" y="351.55" width="8.89" height="8.85" fill="#58cc79"/><rect x="391.52" y="351.55" width="8.89" height="8.85" fill="#402bb7"/><rect x="399.12" y="351.55" width="8.89" height="8.85" fill="#484aee"/><rect x="406.71" y="351.55" width="8.89" height="8.85" fill="#2fc5a2"/><rect x="414.30" y="351.55" width="8.89" height="8.85" fill="#4539d9"/><rect x="421.89" y="351.55" width="8.89" height="8.85" fill="#2895ec"/><rect x="429.48" y="351.55" width="8.89" height="8.85" fill="#2cc4a7"/><rect x="437.07" y="351.55" width="8.89" height="8.85" fill="#fec835"/><rect x="444.67" y="351.55" width="8.89" height="8.85" fill="#4332c9"/><rect x="452.26" y="351.55" width="8.89" height="8.85" fill="#4332c9"/><rect x="459.85" y="351.55" width="8.89" height="8.85" fill="#4434ce"/><rect x="467.44" y="351.55" width="8.89" height="8.85" fill="#4331c7"/><rect x="475.03" y="351.55" width="8.89" height="8.85" fill="#4230c4"/><rect x="482.62" y="351.55" width="8.89" height="8.85" fill="#4230c4"/><rect x="490.22" y="351.55" width="8.89" height="8.85" fill="#4434ce"/><rect x="497.81" y="351.55" width="7.59" height="8.85" fill="#4332c9"/>
<rect x="323.20" y="359.10" width="8.89" height="8.85" fill="#4433cc"/><rect x="330.79" y="359.10" width="8.89" height="8.85" fill="#4434ce"/><rect x="338.38" y="359.10" width="8.89" height="8.85" fill="#4639d9"/><rect x="345.97" y="359.10" width="8.89" height="8.85" fill="#4536d5"/><rect x="353.57" y="359.10" width="8.89" height="8.85" fill="#4332c9"/><rect x="361.16" y="359.10" width="8.89" height="8.85" fill="#4538d7"/><rect x="368.75" y="359.10" width="8.89" height="8.85" fill="#4743e7"/><rect x="376.34" y="359.10" width="8.89" height="8.85" fill="#4434cf"/><rect x="383.93" y="359.10" width="8.89" height="8.85" fill="#2fc5a2"/><rect x="391.52" y="359.10" width="8.89" height="8.85" fill="#484aee"/><rect x="399.12" y="359.10" width="8.89" height="8.85" fill="#402bb7"/><rect x="406.71" y="359.10" width="8.89" height="8.85" fill="#21c1b0"/><rect x="414.30" y="359.10" width="8.89" height="8.85" fill="#484aee"/><rect x="421.89" y="359.10" width="8.89" height="8.85" fill="#249fe6"/><rect x="429.48" y="359.10" width="8.89" height="8.85" fill="#60cd72"/><rect x="437.07" y="359.10" width="8.89" height="8.85" fill="#fec835"/><rect x="444.67" y="359.10" width="8.89" height="8.85" fill="#4331c7"/><rect x="452.26" y="359.10" width="8.89" height="8.85" fill="#4331c8"/><rect x="459.85" y="359.10" width="8.89" height="8.85" fill="#4331c7"/><rect x="467.44" y="359.10" width="8.89" height="8.85" fill="#4332c9"/><rect x="475.03" y="359.10" width="8.89" height="8.85" fill="#4330c5"/><rect x="482.62" y="359.10" width="8.89" height="8.85" fill="#4433cc"/><rect x="490.22" y="359.10" width="8.89" height="8.85" fill="#4331c6"/><rect x="497.81" y="359.10" width="7.59" height="8.85" fill="#4332c9"/>
<rect x="323.20" y="366.65" width="8.89" height="8.85" fill="#463adb"/><rect x="330.79" y="366.65" width="8.89" height="8.85" fill="#2a92ee"/><rect x="338.38" y="366.65" width="8.89" height="8.85" fill="#4332cb"/><rect x="345.97" y="366.65" width="8.89" height="8.85" fill="#4433cc"/><rect x="353.57" y="366.65" width="8.89" height="8.85" fill="#4367fd"/><rect x="361.16" y="366.65" width="8.89" height="8.85" fill="#422ebe"/><rect x="368.75" y="366.65" width="8.89" height="8.85" fill="#4536d2"/><rect x="376.34" y="366.65" width="8.89" height="8.85" fill="#463ada"/><rect x="383.93" y="366.65" width="8.89" height="8.85" fill="#4433cc"/><rect x="391.52" y="366.65" width="8.89" height="8.85" fill="#2fc5a2"/><rect x="399.12" y="366.65" width="8.89" height="8.85" fill="#21c1b0"/><rect x="406.71" y="366.65" width="8.89" height="8.85" fill="#402bb7"/><rect x="414.30" y="366.65" width="8.89" height="8.85" fill="#71cd64"/><rect x="421.89" y="366.65" width="8.89" height="8.85" fill="#fec13a"/><rect x="429.48" y="366.65" width="8.89" height="8.85" fill="#f9d82c"/><rect x="437.07" y="366.65" width="8.89" height="8.85" fill="#20a4e3"/><rect x="444.67" y="366.65" width="8.89" height="8.85" fill="#4332c9"/><rect x="452.26" y="366.65" width="8.89" height="8.85" fill="#4230c4"/><rect x="459.85" y="366.65" width="8.89" height="8.85" fill="#4230c3"/><rect x="467.44" y="366.65" width="8.89" height="8.85" fill="#4331c7"/><rect x="475.03" y="366.65" width="8.89" height="8.85" fill="#4331c8"/><rect x="482.62" y="366.65" width="8.89" height="8.85" fill="#4331c7"/><rect x="490.22" y="366.65" width="8.89" height="8.85" fill="#4230c4"/><rect x="497.81" y="366.65" width="7.59" height="8.85" fill="#4230c3"/>
<rect x="323.20" y="374.20" width="8.89" height="8.85" fill="#4747eb"/><rect x="330.79" y="374.20" width="8.89" height="8.85" fill="#4434d0"/><rect x="338.38" y="374.20" width="8.89" height="8.85" fill="#4743e7"/><rect x="345.97" y="374.20" width="8.89" height="8.85" fill="#4536d4"/><rect x="353.57" y="374.20" width="8.89" height="8.85" fill="#422ebe"/><rect x="361.16" y="374.20" width="8.89" height="8.85" fill="#422ebe"/><rect x="368.75" y="374.20" width="8.89" height="8.85" fill="#4747eb"/><rect x="376.34" y="374.20" width="8.89" height="8.85" fill="#463adb"/><rect x="383.93" y="374.20" width="8.89" height="8.85" fill="#58cc79"/><rect x="391.52" y="374.20" width="8.89" height="8.85" fill="#4539d9"/><rect x="399.12" y="374.20" width="8.89" height="8.85" fill="#484aee"/><rect x="406.71" y="374.20" width="8.89" height="8.85" fill="#71cd64"/><rect x="414.30" y="374.20" width="8.89" height="8.85" fill="#402bb7"/><rect x="421.89" y="374.20" width="8.89" height="8.85" fill="#2d8cf3"/><rect x="429.48" y="374.20" width="8.89" height="8.85" fill="#2fc5a2"/><rect x="437.07" y="374.20" width="8.89" height="8.85" fill="#f7dc2a"/><rect x="444.67" y="374.20" width="8.89" height="8.85" fill="#4433cb"/><rect x="452.26" y="374.20" width="8.89" height="8.85" fill="#4433cb"/><rect x="459.85" y="374.20" width="8.89" height="8.85" fill="#4433cc"/><rect x="467.44" y="374.20" width="8.89" height="8.85" fill="#4434ce"/><rect x="475.03" y="374.20" width="8.89" height="8.85" fill="#4332c9"/><rect x="482.62" y="374.20" width="8.89" height="8.85" fill="#4230c3"/><rect x="490.22" y="374.20" width="8.89" height="8.85" fill="#4434cd"/><rect x="497.81" y="374.20" width="7.59" height="8.85" fill="#4230c4"/>
<rect x="323.20" y="381.75" width="8.89" height="8.85" fill="#4639d9"/><rect x="330.79" y="381.75" width="8.89" height="8.85" fill="#4332c9"/><rect x="338.38" y="381.75" width="8.89" height="8.85" fill="#4536d3"/><rect x="345.97" y="381.75" width="8.89" height="8.85" fill="#463ada"/><rect x="353.57" y="381.75" width="8.89" height="8.85" fill="#422ebe"/><rect x="361.16" y="381.75" width="8.89" height="8.85" fill="#475cfa"/><rect x="368.75" y="381.75" width="8.89" height="8.85" fill="#4747eb"/><rect x="376.34" y="381.75" width="8.89" height="8.85" fill="#4537d5"/><rect x="383.93" y="381.75" width="8.89" height="8.85" fill="#fec13a"/><rect x="391.52" y="381.75" width="8.89" height="8.85" fill="#2895ec"/><rect x="399.12" y="381.75" width="8.89" height="8.85" fill="#249fe6"/><rect x="406.71" y="381.75" width="8.89" height="8.85" fill="#fec13a"/><rect x="414.30" y="381.75" width="8.89" height="8.85" fill="#2d8cf3"/><rect x="421.89" y="381.75" width="8.89" height="8.85" fill="#402bb7"/><rect x="429.48" y="381.75" width="8.89" height="8.85" fill="#2c8ff1"/><rect x="437.07" y="381.75" width="8.89" height="8.85" fill="#f7dc2a"/><rect x="444.67" y="381.75" width="8.89" height="8.85" fill="#4433cd"/><rect x="452.26" y="381.75" width="8.89" height="8.85" fill="#4331c8"/><rect x="459.85" y="381.75" width="8.89" height="8.85" fill="#4331c5"/><rect x="467.44" y="381.75" width="8.89" height="8.85" fill="#4332ca"/><rect x="475.03" y="381.75" width="8.89" height="8.85" fill="#4230c4"/><rect x="482.62" y="381.75" width="8.89" height="8.85" fill="#4433cd"/><rect x="490.22" y="381.75" width="8.89" height="8.85" fill="#4434ce"/><rect x="497.81" y="381.75" width="7.59" height="8.85" fill="#4434ce"/>
<rect x="323.20" y="389.30" width="8.89" height="8.85" fill="#3f6eff"/><rect x="330.79" y="389.30" width="8.89" height="8.85" fill="#463adb"/><rect x="338.38" y="389.30" width="8.89" height="8.85" fill="#4432cb"/><rect x="345.97" y="389.30" width="8.89" height="8.85" fill="#422ebe"/><rect x="353.57" y="389.30" width="8.89" height="8.85" fill="#4539d9"/><rect x="361.16" y="389.30" width="8.89" height="8.85" fill="#422ebe"/><rect x="368.75" y="389.30" width="8.89" height="8.85" fill="#4747eb"/><rect x="376.34" y="389.30" width="8.89" height="8.85" fill="#4434ce"/><rect x="383.93" y="389.30" width="8.89" height="8.85" fill="#f7dc2a"/><rect x="391.52" y="389.30" width="8.89" height="8.85" fill="#2cc4a7"/><rect x="399.12" y="389.30" width="8.89" height="8.85" fill="#60cd72"/><rect x="406.71" y="389.30" width="8.89" height="8.85" fill="#f9d82c"/><rect x="414.30" y="389.30" width="8.89" height="8.85" fill="#2fc5a2"/><rect x="421.89" y="389.30" width="8.89" height="8.85" fill="#2c8ff1"/><rect x="429.48" y="389.30" width="8.89" height="8.85" fill="#402bb7"/><rect x="437.07" y="389.30" width="8.89" height="8.85" fill="#f5e427"/><rect x="444.67" y="389.30" width="8.89" height="8.85" fill="#4332c9"/><rect x="452.26" y="389.30" width="8.89" height="8.85" fill="#4331c7"/><rect x="459.85" y="389.30" width="8.89" height="8.85" fill="#4433cc"/><rect x="467.44" y="389.30" width="8.89" height="8.85" fill="#4332ca"/><rect x="475.03" y="389.30" width="8.89" height="8.85" fill="#4331c7"/><rect x="482.62" y="389.30" width="8.89" height="8.85" fill="#4330c5"/><rect x="490.22" y="389.30" width="8.89" height="8.85" fill="#4230c4"/><rect x="497.81" y="389.30" width="7.59" height="8.85" fill="#4433cb"/>
<rect x="323.20" y="396.85" width="8.89" height="8.85" fill="#01b8ca"/><rect x="330.79" y="396.85" width="8.89" height="8.85" fill="#0abdbd"/><rect x="338.38" y="396.85" width="8.89" height="8.85" fill="#01b8ca"/><rect x="345.97" y="396.85" width="8.89" height="8.85" fill="#4536d3"/><rect x="353.57" y="396.85" width="8.89" height="8.85" fill="#22a1e4"/><rect x="361.16" y="396.85" width="8.89" height="8.85" fill="#4536d3"/><rect x="368.75" y="396.85" width="8.89" height="8.85" fill="#20a4e3"/><rect x="376.34" y="396.85" width="8.89" height="8.85" fill="#01b8ca"/><rect x="383.93" y="396.85" width="8.89" height="8.85" fill="#12beb9"/><rect x="391.52" y="396.85" width="8.89" height="8.85" fill="#fec835"/><rect x="399.12" y="396.85" width="8.89" height="8.85" fill="#fec835"/><rect x="406.71" y="396.85" width="8.89" height="8.85" fill="#20a4e3"/><rect x="414.30" y="396.85" width="8.89" height="8.85" fill="#f7dc2a"/><rect x="421.89" y="396.85" width="8.89" height="8.85" fill="#f7dc2a"/><rect x="429.48" y="396.85" width="8.89" height="8.85" fill="#f5e427"/><rect x="437.07" y="396.85" width="8.89" height="8.85" fill="#402bb7"/><rect x="444.67" y="396.85" width="8.89" height="8.85" fill="#475cfa"/><rect x="452.26" y="396.85" width="8.89" height="8.85" fill="#475cfa"/><rect x="459.85" y="396.85" width="8.89" height="8.85" fill="#475cfa"/><rect x="467.44" y="396.85" width="8.89" height="8.85" fill="#475cfa"/><rect x="475.03" y="396.85" width="8.89" height="8.85" fill="#475cfa"/><rect x="482.62" y="396.85" width="8.89" height="8.85" fill="#475cfa"/><rect x="490.22" y="396.85" width="8.89" height="8.85" fill="#475cfa"/><rect x="497.81" y="396.85" width="7.59" height="8.85" fill="#475cfa"/>
<rect x="323.20" y="404.40" width="8.89" height="8.85" fill="#4433cb"/><rect x="330.79" y="404.40" width="8.89" height="8.85" fill="#4433cc"/><rect x="338.38" y="404.40" width="8.89" height="8.85" fill="#4332c9"/><rect x="345.97" y="404.40" width="8.89" height="8.85" fill="#4332c9"/><rect x="353.57" y="404.40" width="8.89" height="8.85" fill="#4331c6"/><rect x="361.16" y="404.40" width="8.89" height="8.85" fill="#4331c8"/><rect x="368.75" y="404.40" width="8.89" height="8.85" fill="#4331c8"/><rect x="376.34" y="404.40" width="8.89" height="8.85" fill="#4330c5"/><rect x="383.93" y="404.40" width="8.89" height="8.85" fill="#4331c6"/><rect x="391.52" y="404.40" width="8.89" height="8.85" fill="#4332c9"/><rect x="399.12" y="404.40" width="8.89" height="8.85" fill="#4331c7"/><rect x="406.71" y="404.40" width="8.89" height="8.85" fill="#4332c9"/><rect x="414.30" y="404.40" width="8.89" height="8.85" fill="#4433cb"/><rect x="421.89" y="404.40" width="8.89" height="8.85" fill="#4433cd"/><rect x="429.48" y="404.40" width="8.89" height="8.85" fill="#4332c9"/><rect x="437.07" y="404.40" width="8.89" height="8.85" fill="#4367fd"/><rect x="444.67" y="404.40" width="8.89" height="8.85" fill="#4434ce"/><rect x="452.26" y="404.40" width="8.89" height="8.85" fill="#4331c5"/><rect x="459.85" y="404.40" width="8.89" height="8.85" fill="#4433cd"/><rect x="467.44" y="404.40" width="8.89" height="8.85" fill="#4332c9"/><rect x="475.03" y="404.40" width="8.89" height="8.85" fill="#4332c8"/><rect x="482.62" y="404.40" width="8.89" height="8.85" fill="#4434ce"/><rect x="490.22" y="404.40" width="8.89" height="8.85" fill="#4332c9"/><rect x="497.81" y="404.40" width="7.59" height="8.85" fill="#4230c4"/>
<rect x="323.20" y="411.95" width="8.89" height="8.85" fill="#4433cd"/><rect x="330.79" y="411.95" width="8.89" height="8.85" fill="#4332c8"/><rect x="338.38" y="411.95" width="8.89" height="8.85" fill="#4433cd"/><rect x="345.97" y="411.95" width="8.89" height="8.85" fill="#4332c9"/><rect x="353.57" y="411.95" width="8.89" height="8.85" fill="#4332ca"/><rect x="361.16" y="411.95" width="8.89" height="8.85" fill="#4331c8"/><rect x="368.75" y="411.95" width="8.89" height="8.85" fill="#4331c8"/><rect x="376.34" y="411.95" width="8.89" height="8.85" fill="#4331c6"/><rect x="383.93" y="411.95" width="8.89" height="8.85" fill="#4332ca"/><rect x="391.52" y="411.95" width="8.89" height="8.85" fill="#4332c9"/><rect x="399.12" y="411.95" width="8.89" height="8.85" fill="#4331c8"/><rect x="406.71" y="411.95" width="8.89" height="8.85" fill="#4230c4"/><rect x="414.30" y="411.95" width="8.89" height="8.85" fill="#4433cb"/><rect x="421.89" y="411.95" width="8.89" height="8.85" fill="#4331c8"/><rect x="429.48" y="411.95" width="8.89" height="8.85" fill="#4331c7"/><rect x="437.07" y="411.95" width="8.89" height="8.85" fill="#4367fd"/><rect x="444.67" y="411.95" width="8.89" height="8.85" fill="#4331c5"/><rect x="452.26" y="411.95" width="8.89" height="8.85" fill="#4332ca"/><rect x="459.85" y="411.95" width="8.89" height="8.85" fill="#4330c5"/><rect x="467.44" y="411.95" width="8.89" height="8.85" fill="#4332ca"/><rect x="475.03" y="411.95" width="8.89" height="8.85" fill="#4433cd"/><rect x="482.62" y="411.95" width="8.89" height="8.85" fill="#4331c8"/><rect x="490.22" y="411.95" width="8.89" height="8.85" fill="#4332c9"/><rect x="497.81" y="411.95" width="7.59" height="8.85" fill="#4331c6"/>
<rect x="323.20" y="419.50" width="8.89" height="8.85" fill="#4331c8"/><rect x="330.79" y="419.50" width="8.89" height="8.85" fill="#4332ca"/><rect x="338.38" y="419.50" width="8.89" height="8.85" fill="#4433cb"/><rect x="345.97" y="419.50" width="8.89" height="8.85" fill="#4433cb"/><rect x="353.57" y="419.50" width="8.89" height="8.85" fill="#4332c8"/><rect x="361.16" y="419.50" width="8.89" height="8.85" fill="#4332c9"/><rect x="368.75" y="419.50" width="8.89" height="8.85" fill="#4331c7"/><rect x="376.34" y="419.50" width="8.89" height="8.85" fill="#4230c3"/><rect x="383.93" y="419.50" width="8.89" height="8.85" fill="#4331c8"/><rect x="391.52" y="419.50" width="8.89" height="8.85" fill="#4434ce"/><rect x="399.12" y="419.50" width="8.89" height="8.85" fill="#4331c7"/><rect x="406.71" y="419.50" width="8.89" height="8.85" fill="#4230c3"/><rect x="414.30" y="419.50" width="8.89" height="8.85" fill="#4433cc"/><rect x="421.89" y="419.50" width="8.89" height="8.85" fill="#4331c5"/><rect x="429.48" y="419.50" width="8.89" height="8.85" fill="#4433cc"/><rect x="437.07" y="419.50" width="8.89" height="8.85" fill="#4367fd"/><rect x="444.67" y="419.50" width="8.89" height="8.85" fill="#4433cd"/><rect x="452.26" y="419.50" width="8.89" height="8.85" fill="#4330c5"/><rect x="459.85" y="419.50" width="8.89" height="8.85" fill="#4331c8"/><rect x="467.44" y="419.50" width="8.89" height="8.85" fill="#4433cb"/><rect x="475.03" y="419.50" width="8.89" height="8.85" fill="#4432cb"/><rect x="482.62" y="419.50" width="8.89" height="8.85" fill="#4331c7"/><rect x="490.22" y="419.50" width="8.89" height="8.85" fill="#4434ce"/><rect x="497.81" y="419.50" width="7.59" height="8.85" fill="#4433cd"/>
<rect x="323.20" y="427.05" width="8.89" height="8.85" fill="#4332ca"/><rect x="330.79" y="427.05" width="8.89" height="8.85" fill="#4331c6"/><rect x="338.38" y="427.05" width="8.89" height="8.85" fill="#4433cd"/><rect x="345.97" y="427.05" width="8.89" height="8.85" fill="#4330c5"/><rect x="353.57" y="427.05" width="8.89" height="8.85" fill="#4230c4"/><rect x="361.16" y="427.05" width="8.89" height="8.85" fill="#4433cc"/><rect x="368.75" y="427.05" width="8.89" height="8.85" fill="#4433cd"/><rect x="376.34" y="427.05" width="8.89" height="8.85" fill="#4230c4"/><rect x="383.93" y="427.05" width="8.89" height="8.85" fill="#4330c5"/><rect x="391.52" y="427.05" width="8.89" height="8.85" fill="#4331c7"/><rect x="399.12" y="427.05" width="8.89" height="8.85" fill="#4332c9"/><rect x="406.71" y="427.05" width="8.89" height="8.85" fill="#4331c7"/><rect x="414.30" y="427.05" width="8.89" height="8.85" fill="#4434ce"/><rect x="421.89" y="427.05" width="8.89" height="8.85" fill="#4332ca"/><rect x="429.48" y="427.05" width="8.89" height="8.85" fill="#4332ca"/><rect x="437.07" y="427.05" width="8.89" height="8.85" fill="#4367fd"/><rect x="444.67" y="427.05" width="8.89" height="8.85" fill="#4332c9"/><rect x="452.26" y="427.05" width="8.89" height="8.85" fill="#4332ca"/><rect x="459.85" y="427.05" width="8.89" height="8.85" fill="#4433cb"/><rect x="467.44" y="427.05" width="8.89" height="8.85" fill="#4433cd"/><rect x="475.03" y="427.05" width="8.89" height="8.85" fill="#4433cc"/><rect x="482.62" y="427.05" width="8.89" height="8.85" fill="#4332ca"/><rect x="490.22" y="427.05" width="8.89" height="8.85" fill="#4230c3"/><rect x="497.81" y="427.05" width="7.59" height="8.85" fill="#4330c5"/>
<rect x="323.20" y="434.60" width="8.89" height="8.85" fill="#4432cb"/><rect x="330.79" y="434.60" width="8.89" height="8.85" fill="#4230c3"/><rect x="338.38" y="434.60" width="8.89" height="8.85" fill="#4332cb"/><rect x="345.97" y="434.60" width="8.89" height="8.85" fill="#4332c9"/><rect x="353.57" y="434.60" width="8.89" height="8.85" fill="#4331c6"/><rect x="361.16" y="434.60" width="8.89" height="8.85" fill="#4331c8"/><rect x="368.75" y="434.60" width="8.89" height="8.85" fill="#4433cc"/><rect x="376.34" y="434.60" width="8.89" height="8.85" fill="#4331c6"/><rect x="383.93" y="434.60" width="8.89" height="8.85" fill="#4331c6"/><rect x="391.52" y="434.60" width="8.89" height="8.85" fill="#4230c4"/><rect x="399.12" y="434.60" width="8.89" height="8.85" fill="#4330c5"/><rect x="406.71" y="434.60" width="8.89" height="8.85" fill="#4331c8"/><rect x="414.30" y="434.60" width="8.89" height="8.85" fill="#4332c9"/><rect x="421.89" y="434.60" width="8.89" height="8.85" fill="#4230c4"/><rect x="429.48" y="434.60" width="8.89" height="8.85" fill="#4331c7"/><rect x="437.07" y="434.60" width="8.89" height="8.85" fill="#4367fd"/><rect x="444.67" y="434.60" width="8.89" height="8.85" fill="#4332c8"/><rect x="452.26" y="434.60" width="8.89" height="8.85" fill="#4433cd"/><rect x="459.85" y="434.60" width="8.89" height="8.85" fill="#4432cb"/><rect x="467.44" y="434.60" width="8.89" height="8.85" fill="#4433cc"/><rect x="475.03" y="434.60" width="8.89" height="8.85" fill="#4434ce"/><rect x="482.62" y="434.60" width="8.89" height="8.85" fill="#4331c6"/><rect x="490.22" y="434.60" width="8.89" height="8.85" fill="#4433cd"/><rect x="497.81" y="434.60" width="7.59" height="8.85" fill="#4331c6"/>
<rect x="323.20" y="442.15" width="8.89" height="8.85" fill="#4433cc"/><rect x="330.79" y="442.15" width="8.89" height="8.85" fill="#4331c6"/><rect x="338.38" y="442.15" width="8.89" height="8.85" fill="#4331c8"/><rect x="345.97" y="442.15" width="8.89" height="8.85" fill="#4330c4"/><rect x="353.57" y="442.15" width="8.89" height="8.85" fill="#4434cd"/><rect x="361.16" y="442.15" width="8.89" height="8.85" fill="#4434ce"/><rect x="368.75" y="442.15" width="8.89" height="8.85" fill="#4230c3"/><rect x="376.34" y="442.15" width="8.89" height="8.85" fill="#4332ca"/><rect x="383.93" y="442.15" width="8.89" height="8.85" fill="#4433cd"/><rect x="391.52" y="442.15" width="8.89" height="8.85" fill="#4230c4"/><rect x="399.12" y="442.15" width="8.89" height="8.85" fill="#4433cc"/><rect x="406.71" y="442.15" width="8.89" height="8.85" fill="#4331c7"/><rect x="414.30" y="442.15" width="8.89" height="8.85" fill="#4230c3"/><rect x="421.89" y="442.15" width="8.89" height="8.85" fill="#4433cd"/><rect x="429.48" y="442.15" width="8.89" height="8.85" fill="#4330c5"/><rect x="437.07" y="442.15" width="8.89" height="8.85" fill="#4367fd"/><rect x="444.67" y="442.15" width="8.89" height="8.85" fill="#4434ce"/><rect x="452.26" y="442.15" width="8.89" height="8.85" fill="#4331c8"/><rect x="459.85" y="442.15" width="8.89" height="8.85" fill="#4331c7"/><rect x="467.44" y="442.15" width="8.89" height="8.85" fill="#4332ca"/><rect x="475.03" y="442.15" width="8.89" height="8.85" fill="#4331c6"/><rect x="482.62" y="442.15" width="8.89" height="8.85" fill="#4433cc"/><rect x="490.22" y="442.15" width="8.89" height="8.85" fill="#4331c7"/><rect x="497.81" y="442.15" width="7.59" height="8.85" fill="#4332c8"/>
<rect x="323.20" y="449.70" width="8.89" height="8.85" fill="#4434ce"/><rect x="330.79" y="449.70" width="8.89" height="8.85" fill="#4330c4"/><rect x="338.38" y="449.70" width="8.89" height="8.85" fill="#4331c7"/><rect x="345.97" y="449.70" width="8.89" height="8.85" fill="#4331c8"/><rect x="353.57" y="449.70" width="8.89" height="8.85" fill="#4433cc"/><rect x="361.16" y="449.70" width="8.89" height="8.85" fill="#4332c9"/><rect x="368.75" y="449.70" width="8.89" height="8.85" fill="#4330c5"/><rect x="376.34" y="449.70" width="8.89" height="8.85" fill="#4433cc"/><rect x="383.93" y="449.70" width="8.89" height="8.85" fill="#4330c5"/><rect x="391.52" y="449.70" width="8.89" height="8.85" fill="#4434ce"/><rect x="399.12" y="449.70" width="8.89" height="8.85" fill="#4331c6"/><rect x="406.71" y="449.70" width="8.89" height="8.85" fill="#4230c4"/><rect x="414.30" y="449.70" width="8.89" height="8.85" fill="#4434cd"/><rect x="421.89" y="449.70" width="8.89" height="8.85" fill="#4434ce"/><rect x="429.48" y="449.70" width="8.89" height="8.85" fill="#4230c4"/><rect x="437.07" y="449.70" width="8.89" height="8.85" fill="#4367fd"/><rect x="444.67" y="449.70" width="8.89" height="8.85" fill="#4332c9"/><rect x="452.26" y="449.70" width="8.89" height="8.85" fill="#4332c9"/><rect x="459.85" y="449.70" width="8.89" height="8.85" fill="#4434ce"/><rect x="467.44" y="449.70" width="8.89" height="8.85" fill="#4230c3"/><rect x="475.03" y="449.70" width="8.89" height="8.85" fill="#4433cd"/><rect x="482.62" y="449.70" width="8.89" height="8.85" fill="#4331c7"/><rect x="490.22" y="449.70" width="8.89" height="8.85" fill="#4331c6"/><rect x="497.81" y="449.70" width="7.59" height="8.85" fill="#4330c5"/>
<rect x="323.20" y="457.25" width="8.89" height="7.55" fill="#4331c7"/><rect x="330.79" y="457.25" width="8.89" height="7.55" fill="#4434ce"/><rect x="338.38" y="457.25" width="8.89" height="7.55" fill="#4433cb"/><rect x="345.97" y="457.25" width="8.89" height="7.55" fill="#4332c9"/><rect x="353.57" y="457.25" width="8.89" height="7.55" fill="#4330c5"/><rect x="361.16" y="457.25" width="8.89" height="7.55" fill="#4433cc"/><rect x="368.75" y="457.25" width="8.89" height="7.55" fill="#4332c9"/><rect x="376.34" y="457.25" width="8.89" height="7.55" fill="#4330c5"/><rect x="383.93" y="457.25" width="8.89" height="7.55" fill="#4330c5"/><rect x="391.52" y="457.25" width="8.89" height="7.55" fill="#4332c9"/><rect x="399.12" y="457.25" width="8.89" height="7.55" fill="#4332c9"/><rect x="406.71" y="457.25" width="8.89" height="7.55" fill="#4230c3"/><rect x="414.30" y="457.25" width="8.89" height="7.55" fill="#4230c4"/><rect x="421.89" y="457.25" width="8.89" height="7.55" fill="#4434ce"/><rect x="429.48" y="457.25" width="8.89" height="7.55" fill="#4433cb"/><rect x="437.07" y="457.25" width="8.89" height="7.55" fill="#4367fd"/><rect x="444.67" y="457.25" width="8.89" height="7.55" fill="#4230c4"/><rect x="452.26" y="457.25" width="8.89" height="7.55" fill="#4331c6"/><rect x="459.85" y="457.25" width="8.89" height="7.55" fill="#4433cd"/><rect x="467.44" y="457.25" width="8.89" height="7.55" fill="#4330c5"/><rect x="475.03" y="457.25" width="8.89" height="7.55" fill="#4331c6"/><rect x="482.62" y="457.25" width="8.89" height="7.55" fill="#4332c8"/><rect x="490.22" y="457.25" width="8.89" height="7.55" fill="#4330c5"/><rect x="497.81" y="457.25" width="7.59" height="7.55" fill="#4331c7"/>
<rect x="323.2" y="283.6" width="182.20" height="181.20" fill="none" stroke="#262626" stroke-opacity="0.35" stroke-width="0.5"/>
<path d="M327.00 464.80v-1.8M327.00 283.60v1.8M323.20 287.38h1.8M505.40 287.38h-1.8M334.59 464.80v-1.8M334.59 283.60v1.8M323.20 294.93h1.8M505.40 294.93h-1.8M342.18 464.80v-1.8M342.18 283.60v1.8M323.20 302.48h1.8M505.40 302.48h-1.8M349.77 464.80v-1.8M349.77 283.60v1.8M323.20 310.03h1.8M505.40 310.03h-1.8M357.36 464.80v-1.8M357.36 283.60v1.8M323.20 317.58h1.8M505.40 317.58h-1.8M364.95 464.80v-1.8M364.95 283.60v1.8M323.20 325.12h1.8M505.40 325.12h-1.8M372.55 464.80v-1.8M372.55 283.60v1.8M323.20 332.68h1.8M505.40 332.68h-1.8M380.14 464.80v-1.8M380.14 283.60v1.8M323.20 340.23h1.8M505.40 340.23h-1.8M387.73 464.80v-1.8M387.73 283.60v1.8M323.20 347.78h1.8M505.40 347.78h-1.8M395.32 464.80v-1.8M395.32 283.60v1.8M323.20 355.33h1.8M505.40 355.33h-1.8M402.91 464.80v-1.8M402.91 283.60v1.8M323.20 362.88h1.8M505.40 362.88h-1.8M410.50 464.80v-1.8M410.50 283.60v1.8M323.20 370.43h1.8M505.40 370.43h-1.8M418.10 464.80v-1.8M418.10 283.60v1.8M323.20 377.98h1.8M505.40 377.98h-1.8M425.69 464.80v-1.8M425.69 283.60v1.8M323.20 385.53h1.8M505.40 385.53h-1.8M433.28 464.80v-1.8M433.28 283.60v1.8M323.20 393.08h1.8M505.40 393.08h-1.8M440.87 464.80v-1.8M440.87 283.60v1.8M323.20 400.62h1.8M505.40 400.62h-1.8M448.46 464.80v-1.8M448.46 283.60v1.8M323.20 408.18h1.8M505.40 408.18h-1.8M456.05 464.80v-1.8M456.05 283.60v1.8M323.20 415.73h1.8M505.40 415.73h-1.8M463.65 464.80v-1.8M463.65 283.60v1.8M323.20 423.27h1.8M505.40 423.27h-1.8M471.24 464.80v-1.8M471.24 283.60v1.8M323.20 430.83h1.8M505.40 430.83h-1.8M478.83 464.80v-1.8M478.83 283.60v1.8M323.20 438.38h1.8M505.40 438.38h-1.8M486.42 464.80v-1.8M486.42 283.60v1.8M323.20 445.93h1.8M505.40 445.93h-1.8M494.01 464.80v-1.8M494.01 283.60v1.8M323.20 453.48h1.8M505.40 453.48h-1.8M501.60 464.80v-1.8M501.60 283.60v1.8M323.20 461.02h1.8M505.40 461.02h-1.8" stroke="#262626" stroke-opacity="0.35" stroke-width="0.5" fill="none"/>
<text class="t" x="416.2" y="279.3">imCPCC</text>
<text class="a" text-anchor="end" x="320.3" y="290.7">1</text><text class="a" text-anchor="end" x="320.3" y="298.2">2</text><text class="a" text-anchor="end" x="320.3" y="305.8">3</text><text class="a" text-anchor="end" x="320.3" y="313.3">4</text><text class="a" text-anchor="end" x="320.3" y="320.9">5</text><text class="a" text-anchor="end" x="320.3" y="328.4">6</text><text class="a" text-anchor="end" x="320.3" y="336.0">7</text><text class="a" text-anchor="end" x="320.3" y="343.5">8</text><text class="a" text-anchor="end" x="320.3" y="351.1">9</text><text class="a" text-anchor="end" x="320.3" y="358.6">10</text><text class="a" text-anchor="end" x="320.3" y="366.2">11</text><text class="a" text-anchor="end" x="320.3" y="373.7">12</text><text class="a" text-anchor="end" x="320.3" y="381.3">13</text><text class="a" text-anchor="end" x="320.3" y="388.8">14</text><text class="a" text-anchor="end" x="320.3" y="396.4">15</text><text class="a" text-anchor="end" x="320.3" y="403.9">16</text><text class="a" text-anchor="end" x="320.3" y="411.5">17</text><text class="a" text-anchor="end" x="320.3" y="419.0">18</text><text class="a" text-anchor="end" x="320.3" y="426.6">19</text><text class="a" text-anchor="end" x="320.3" y="434.1">20</text><text class="a" text-anchor="end" x="320.3" y="441.7">21</text><text class="a" text-anchor="end" x="320.3" y="449.2">22</text><text class="a" text-anchor="end" x="320.3" y="456.8">23</text><text class="a" text-anchor="end" x="320.3" y="464.3">24</text>
<text class="a" text-anchor="end" transform="translate(330.5,468.8) rotate(-90)">1</text><text class="a" text-anchor="end" transform="translate(338.1,468.8) rotate(-90)">2</text><text class="a" text-anchor="end" transform="translate(345.7,468.8) rotate(-90)">3</text><text class="a" text-anchor="end" transform="translate(353.3,468.8) rotate(-90)">4</text><text class="a" text-anchor="end" transform="translate(360.9,468.8) rotate(-90)">5</text><text class="a" text-anchor="end" transform="translate(368.5,468.8) rotate(-90)">6</text><text class="a" text-anchor="end" transform="translate(376.0,468.8) rotate(-90)">7</text><text class="a" text-anchor="end" transform="translate(383.6,468.8) rotate(-90)">8</text><text class="a" text-anchor="end" transform="translate(391.2,468.8) rotate(-90)">9</text><text class="a" text-anchor="end" transform="translate(398.8,468.8) rotate(-90)">10</text><text class="a" text-anchor="end" transform="translate(406.4,468.8) rotate(-90)">11</text><text class="a" text-anchor="end" transform="translate(414.0,468.8) rotate(-90)">12</text><text class="a" text-anchor="end" transform="translate(421.6,468.8) rotate(-90)">13</text><text class="a" text-anchor="end" transform="translate(429.2,468.8) rotate(-90)">14</text><text class="a" text-anchor="end" transform="translate(436.8,468.8) rotate(-90)">15</text><text class="a" text-anchor="end" transform="translate(444.4,468.8) rotate(-90)">16</text><text class="a" text-anchor="end" transform="translate(452.0,468.8) rotate(-90)">17</text><text class="a" text-anchor="end" transform="translate(459.6,468.8) rotate(-90)">18</text><text class="a" text-anchor="end" transform="translate(467.1,468.8) rotate(-90)">19</text><text class="a" text-anchor="end" transform="translate(474.7,468.8) rotate(-90)">20</text><text class="a" text-anchor="end" transform="translate(482.3,468.8) rotate(-90)">21</text><text class="a" text-anchor="end" transform="translate(489.9,468.8) rotate(-90)">22</text><text class="a" text-anchor="end" transform="translate(497.5,468.8) rotate(-90)">23</text><text class="a" text-anchor="end" transform="translate(505.1,468.8) rotate(-90)">24</text>
<rect x="512.9" y="283.6" width="11.1" height="181.20" fill="url(#pg)"/>
<rect x="512.9" y="283.6" width="11.1" height="181.20" fill="none" stroke="#262626" stroke-opacity="0.3" stroke-width="0.5"/>
<path d="M524.00 319.84h-1.6M512.90 319.84h1.6" stroke="#262626" stroke-opacity="0.45" stroke-width="0.5"/><text class="c" x="528.8" y="324.9">0.4</text><path d="M524.00 356.08h-1.6M512.90 356.08h1.6" stroke="#262626" stroke-opacity="0.45" stroke-width="0.5"/><text class="c" x="528.8" y="361.2">0.3</text><path d="M524.00 392.32h-1.6M512.90 392.32h1.6" stroke="#262626" stroke-opacity="0.45" stroke-width="0.5"/><text class="c" x="528.8" y="397.4">0.2</text><path d="M524.00 428.56h-1.6M512.90 428.56h1.6" stroke="#262626" stroke-opacity="0.45" stroke-width="0.5"/><text class="c" x="528.8" y="433.7">0.1</text><path d="M524.00 464.80h-1.6M512.90 464.80h1.6" stroke="#262626" stroke-opacity="0.45" stroke-width="0.5"/><text class="c" x="528.8" y="469.9">0</text>
<text class="cap" x="393.9" y="519.8">(<tspan font-weight="bold">d</tspan>)</text>
</g>
</svg>
</body></html>
